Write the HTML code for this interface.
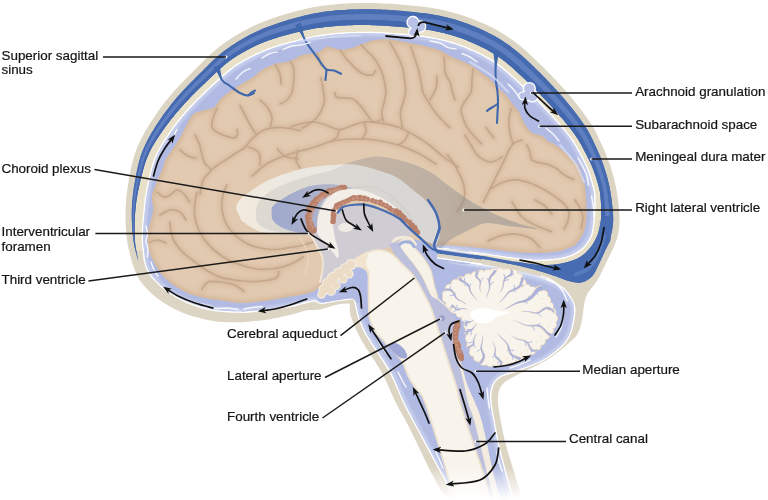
<!DOCTYPE html>
<html><head><meta charset="utf-8"><title>CSF circulation</title>
<style>
html,body{margin:0;padding:0;background:#fff;}
body{width:768px;height:500px;overflow:hidden;position:relative;}
svg{position:absolute;left:0;top:0;display:block;}
text{font-family:"Liberation Sans",Arial,Helvetica,sans-serif;font-size:13.4px;fill:#161616;stroke:#161616;stroke-width:0.22px;}
</style></head><body>
<svg width="768" height="500" viewBox="0 0 768 500">
<defs>
<marker id="ah" viewBox="0 0 10 8" refX="6" refY="4" markerUnits="userSpaceOnUse" markerWidth="8.5" markerHeight="6.8" orient="auto"><path d="M0 0.3L10 4L0 7.7L2.6 4Z" fill="#111"/></marker>
</defs>
<path d="M132.0 262.5C131.2 258.8 128.1 248.4 127.0 240.0C125.9 231.6 125.3 221.2 125.5 212.0C125.7 202.8 126.3 195.0 128.0 185.0C129.7 175.0 131.9 162.1 135.5 152.0C139.1 141.9 143.8 133.6 149.5 124.3C155.2 115.0 162.3 105.2 170.0 96.0C177.7 86.8 187.0 77.4 195.5 69.0C204.0 60.6 211.5 52.6 221.0 45.5C230.5 38.4 241.5 31.8 252.5 26.5C263.5 21.2 275.4 17.2 287.0 13.8C298.6 10.4 309.8 7.6 322.0 5.8C334.2 4.0 347.0 3.2 360.0 3.0C373.0 2.8 386.2 3.3 400.0 4.5C413.8 5.7 429.7 7.1 443.0 10.0C456.3 12.9 468.4 17.0 480.0 22.0C491.6 27.0 502.0 32.5 512.5 40.0C523.0 47.5 533.4 57.7 543.0 67.0C552.6 76.3 562.1 86.7 570.0 96.0C577.9 105.3 585.2 115.0 590.5 123.0C595.8 131.0 598.2 137.0 601.5 144.0C604.8 151.0 607.5 157.3 610.0 165.0C612.5 172.7 614.9 180.8 616.5 190.0C618.1 199.2 619.5 211.7 619.5 220.0C619.5 228.3 618.7 233.0 616.5 240.0C614.3 247.0 609.7 255.3 606.5 262.0C603.3 268.7 600.9 274.2 597.5 280.0C594.1 285.8 588.6 290.3 586.0 297.0C583.4 303.7 583.3 314.0 582.0 320.0C580.7 326.0 580.0 329.3 578.0 333.0C576.0 336.7 575.2 337.5 570.0 342.0C564.8 346.5 555.8 354.5 547.0 360.0C538.2 365.5 524.5 370.8 517.0 375.0C509.5 379.2 505.2 380.8 502.0 385.0C498.8 389.2 498.1 393.3 498.0 400.0C497.9 406.7 500.0 416.8 501.5 425.0C503.0 433.2 504.0 438.2 507.0 449.0C510.0 459.8 516.8 480.5 519.5 490.0C522.2 499.5 522.8 503.3 523.5 506.0L449 506L449.0 506.0C447.7 503.3 443.7 495.0 441.0 490.0C438.3 485.0 438.6 487.0 433.0 476.0C427.4 465.0 413.6 436.0 407.5 424.0C401.4 412.0 400.8 412.5 396.5 404.0C392.2 395.5 387.2 382.7 382.0 373.0C376.8 363.3 369.1 352.8 365.0 346.0C360.9 339.2 359.8 337.3 357.5 332.5C355.2 327.7 352.3 321.4 351.0 317.0C349.7 312.6 349.8 307.8 349.5 306.0L350.0 305.0C349.7 304.8 350.4 303.6 348.0 303.6C345.6 303.6 340.3 304.0 335.6 305.0C330.9 306.0 324.8 308.6 320.0 309.5C315.2 310.4 311.7 309.5 307.0 310.3C302.3 311.1 298.0 313.1 292.0 314.5C286.0 315.9 278.0 317.8 271.0 319.0C264.0 320.2 255.5 320.9 250.0 321.5C244.5 322.1 244.2 322.4 238.0 322.3C231.8 322.2 222.3 322.6 213.0 321.0C203.7 319.4 191.3 316.3 182.0 312.5C172.7 308.7 163.9 303.2 157.0 298.0C150.1 292.8 144.6 286.9 140.4 281.0C136.2 275.1 133.4 265.6 132.0 262.5" fill="#ddd5c3"/>
<path d="M138.1 261.1L137.9 259.9L137.5 258.6L137.1 257.0L136.7 255.3L136.2 253.5L135.7 251.5L135.2 249.5L134.7 247.4L134.3 245.3L133.9 243.2L133.5 241.1L133.2 239.2L133.0 237.1L132.8 235.0L132.6 232.8L132.4 230.6L132.2 228.3L132.1 225.9L132.0 223.6L131.9 221.3L131.8 218.9L131.8 216.6L131.8 214.3L131.8 212.1L131.8 209.9L131.9 207.8L132.0 205.6L132.1 203.6L132.3 201.5L132.5 199.4L132.7 197.3L132.9 195.1L133.2 193.0L133.5 190.7L133.8 188.4L134.2 186.0L134.6 183.5L135.1 180.9L135.6 178.2L136.1 175.4L136.6 172.6L137.2 169.9L137.8 167.1L138.5 164.3L139.1 161.6L139.9 159.0L140.6 156.5L141.4 154.1L142.3 151.8L143.2 149.5L144.2 147.3L145.2 145.1L146.2 142.9L147.3 140.8L148.4 138.6L149.6 136.5L150.8 134.3L152.1 132.1L153.5 129.9L154.9 127.6L156.3 125.3L157.8 123.0L159.3 120.7L160.9 118.4L162.5 116.1L164.1 113.8L165.8 111.5L167.6 109.2L169.3 106.9L171.1 104.6L173.0 102.3L174.8 100.0L176.7 97.8L178.7 95.6L180.7 93.3L182.8 91.0L184.9 88.8L187.0 86.6L189.1 84.3L191.3 82.1L193.5 79.9L195.6 77.7L197.8 75.6L199.9 73.5L202.1 71.4L204.1 69.3L206.2 67.2L208.2 65.2L210.2 63.2L212.2 61.3L214.2 59.4L216.3 57.6L218.3 55.7L220.4 54.0L222.6 52.2L224.8 50.5L227.1 48.9L229.5 47.2L231.9 45.5L234.4 43.9L236.9 42.3L239.4 40.7L242.0 39.2L244.6 37.7L247.3 36.2L249.9 34.8L252.6 33.5L255.2 32.2L257.9 30.9L260.6 29.7L263.3 28.6L266.1 27.5L268.8 26.4L271.7 25.4L274.5 24.4L277.3 23.4L280.2 22.5L283.1 21.6L285.9 20.7L288.8 19.8L291.6 19.0L294.5 18.2L297.3 17.4L300.1 16.7L302.9 16.0L305.7 15.3L308.5 14.7L311.4 14.1L314.2 13.5L317.1 13.0L320.0 12.5L322.9 12.0L325.9 11.6L328.9 11.2L331.9 10.9L335.0 10.6L338.0 10.3L341.1 10.1L344.3 9.9L347.4 9.7L350.5 9.6L353.7 9.5L356.9 9.4L360.1 9.3L363.3 9.3L366.5 9.3L369.7 9.3L372.9 9.3L376.2 9.4L379.4 9.5L382.7 9.7L386.0 9.8L389.3 10.0L392.7 10.3L396.1 10.5L399.5 10.8L403.0 11.1L406.5 11.4L410.1 11.7L413.7 12.1L417.3 12.4L421.0 12.9L424.6 13.3L428.1 13.8L431.6 14.3L435.1 14.9L438.4 15.5L441.7 16.2L444.9 16.9L448.0 17.7L451.1 18.5L454.2 19.3L457.2 20.3L460.2 21.2L463.1 22.2L466.1 23.2L469.0 24.3L471.8 25.4L474.7 26.6L477.5 27.8L480.3 29.0L483.0 30.3L485.8 31.5L488.4 32.9L491.0 34.2L493.6 35.6L496.2 37.0L498.7 38.5L501.3 40.1L503.8 41.7L506.3 43.4L508.8 45.1L511.3 47.0L513.8 48.9L516.3 50.9L518.8 53.0L521.4 55.2L523.9 57.5L526.4 59.8L528.8 62.1L531.3 64.5L533.8 66.8L536.2 69.2L538.6 71.5L541.0 73.8L543.3 76.2L545.6 78.6L547.9 80.9L550.2 83.4L552.5 85.8L554.7 88.2L556.9 90.6L559.1 93.0L561.2 95.4L563.2 97.8L565.2 100.1L567.1 102.4L569.0 104.7L570.9 107.0L572.7 109.3L574.5 111.6L576.2 113.8L577.9 116.0L579.5 118.2L581.1 120.4L582.5 122.5L583.9 124.5L585.2 126.4L586.4 128.3L587.5 130.1L588.5 131.8L589.4 133.5L590.3 135.1L591.1 136.7L591.9 138.3L592.7 139.9L593.4 141.5L594.2 143.2L595.0 144.9L595.8 146.6L596.6 148.4L597.3 150.0L598.1 151.7L598.8 153.4L599.5 155.0L600.2 156.6L600.9 158.3L601.5 160.0L602.2 161.7L602.8 163.4L603.4 165.1L604.0 167.0L604.6 168.8L605.2 170.8L605.8 172.7L606.4 174.6L607.0 176.6L607.5 178.6L608.0 180.6L608.5 182.6L609.0 184.7L609.5 186.8L609.9 188.9L610.3 191.1L610.7 193.4L611.0 195.8L611.4 198.2L611.7 200.8L612.0 203.4L612.3 206.0L612.6 208.5L612.8 211.0L613.0 213.5L613.1 215.8L613.2 218.0L613.2 220.0L613.2 221.8L613.0 223.6L612.8 225.4L612.6 227.2L612.3 229.0L612.0 230.7L611.7 232.3L611.3 233.8L611.0 235.3L610.7 236.6L610.5 237.9L610.3 238.9L610.5 240.0C609.5 242.0 606.5 247.8 604.5 252.0C602.5 256.2 600.6 260.9 598.5 265.0C596.4 269.1 594.9 273.6 592.0 276.5C589.1 279.4 585.2 281.8 581.0 282.5C576.8 283.2 571.3 281.6 567.0 280.5C562.7 279.4 561.2 278.0 555.0 276.0C548.8 274.0 538.3 270.7 530.0 268.5C521.7 266.3 513.3 264.7 505.0 263.0C496.7 261.3 488.3 259.8 480.0 258.5C471.7 257.2 462.2 256.1 455.0 255.2C447.8 254.2 440.0 253.2 437.0 252.8L437.0 250.5C440.0 250.8 447.8 251.7 455.0 252.5C462.2 253.3 472.5 254.4 480.0 255.5C487.5 256.6 493.8 257.9 500.0 259.0C506.2 260.1 510.3 260.8 517.0 261.8C523.7 262.8 533.0 264.4 540.0 264.8C547.0 265.2 552.5 265.1 558.8 264.0C565.0 262.9 572.3 261.2 577.5 258.5C582.7 255.8 586.7 251.9 590.0 248.0C593.3 244.1 595.8 239.0 597.5 235.0C599.2 231.0 599.8 225.8 600.3 224.0L600.9 219.9L601.0 218.3L601.1 216.4L601.2 214.2L601.2 212.0L601.2 209.6L601.1 207.1L601.0 204.6L600.9 202.2L600.7 199.7L600.5 197.3L600.3 195.0L600.1 192.8L599.7 190.8L599.3 188.9L598.8 187.0L598.3 185.1L597.8 183.2L597.2 181.3L596.7 179.5L596.1 177.6L595.5 175.8L594.8 174.0L594.2 172.2L593.6 170.4L592.9 168.7L592.3 167.1L591.6 165.6L591.0 164.0L590.3 162.5L589.6 161.0L588.9 159.5L588.1 158.0L587.3 156.5L586.6 154.9L585.7 153.3L584.9 151.7L584.0 150.0L583.1 148.3L582.3 146.7L581.5 145.2L580.7 143.7L579.8 142.3L579.0 141.0L578.2 139.6L577.3 138.2L576.3 136.8L575.3 135.3L574.2 133.7L572.9 131.9L571.5 130.1L570.0 128.2L568.5 126.3L566.9 124.2L565.2 122.2L563.5 120.1L561.7 118.0L559.8 115.9L558.0 113.7L556.1 111.6L554.1 109.4L552.2 107.3L550.2 105.0L548.1 102.8L546.0 100.5L543.8 98.2L541.6 95.9L539.4 93.6L537.1 91.3L534.9 89.0L532.6 86.8L530.3 84.6L528.0 82.4L525.6 80.1L523.2 77.8L520.8 75.5L518.3 73.2L515.9 71.0L513.5 68.8L511.2 66.7L508.8 64.7L506.5 62.8L504.2 61.0L502.0 59.3L499.8 57.7L497.6 56.2L495.3 54.7L493.0 53.3L490.7 51.9L488.4 50.6L486.1 49.3L483.8 48.1L481.4 46.9L478.9 45.7L476.4 44.6L473.9 43.4L471.2 42.3L468.6 41.2L466.0 40.1L463.3 39.1L460.7 38.1L458.0 37.2L455.2 36.3L452.5 35.5L449.7 34.6L446.9 33.9L444.1 33.1L441.2 32.4L438.3 31.8L435.3 31.2L432.3 30.6L429.1 30.1L425.9 29.6L422.5 29.2L419.1 28.7L415.6 28.3L412.1 28.0L408.6 27.6L405.1 27.3L401.6 27.0L398.2 26.7L394.8 26.4L391.6 26.2L388.3 25.9L385.2 25.7L382.0 25.6L378.8 25.4L375.7 25.3L372.6 25.2L369.5 25.1L366.5 25.1L363.4 25.1L360.4 25.1L357.3 25.1L354.2 25.1L351.2 25.2L348.2 25.3L345.2 25.4L342.2 25.6L339.3 25.7L336.4 25.9L333.5 26.2L330.7 26.4L327.9 26.7L325.1 27.1L322.4 27.4L319.7 27.8L317.0 28.1L314.3 28.6L311.7 29.0L309.0 29.5L306.3 30.1L303.7 30.6L301.0 31.2L298.3 31.9L295.5 32.6L292.8 33.3L290.0 34.0L287.2 34.7L284.4 35.5L281.6 36.3L278.9 37.1L276.2 37.9L273.5 38.8L270.8 39.7L268.2 40.6L265.7 41.5L263.1 42.5L260.7 43.5L258.2 44.6L255.6 45.8L253.1 47.0L250.6 48.3L248.1 49.6L245.6 50.9L243.1 52.3L240.7 53.7L238.3 55.1L236.0 56.6L233.7 58.0L231.5 59.5L229.4 61.0L227.5 62.5L225.5 64.1L223.6 65.7L221.6 67.4L219.7 69.1L217.7 70.9L215.7 72.8L213.7 74.7L211.6 76.7L209.4 78.8L207.3 80.8L205.1 82.9L202.9 85.0L200.7 87.1L198.5 89.2L196.4 91.3L194.2 93.5L192.1 95.6L190.0 97.7L188.0 99.9L186.0 102.0L184.1 104.1L182.2 106.2L180.3 108.3L178.5 110.4L176.6 112.5L174.8 114.7L173.1 116.9L171.3 119.0L169.6 121.2L168.0 123.4L166.4 125.5L164.8 127.7L163.3 129.8L161.8 131.9L160.4 134.1L158.9 136.2L157.6 138.2L156.3 140.2L155.0 142.2L153.8 144.2L152.7 146.1L151.6 148.1L150.6 150.1L149.6 152.1L148.6 154.2L147.7 156.3L146.8 158.5L145.9 160.8L145.1 163.2L144.3 165.8L143.5 168.4L142.8 171.0L142.1 173.7L141.4 176.4L140.7 179.1L140.1 181.7L139.5 184.3L139.0 186.8L138.5 189.1L138.0 191.4L137.6 193.5L137.2 195.7L136.9 197.7L136.5 199.8L136.3 201.8L136.0 203.8L135.8 205.8L135.6 207.9L135.4 210.0L135.2 212.2L135.0 214.4L134.9 216.6L134.8 218.9L134.7 221.2L134.6 223.5L134.6 225.8L134.6 228.1L134.6 230.4L134.6 232.6L134.7 234.8L134.7 236.9L134.8 239.0L135.0 240.9L135.2 242.9L135.5 245.0L135.8 247.1L136.1 249.2L136.5 251.3L136.8 253.3L137.2 255.2L137.5 256.9L137.8 258.5L138.0 259.9L138.1 261.1Z" fill="#466bb0"/>
<path d="M136.5 251.3L136.1 249.2L135.8 247.1L135.5 245.0L135.2 242.9L135.0 240.9L134.8 239.0L134.7 236.9L134.7 234.8L134.6 232.6L134.6 230.4L134.6 228.1L134.6 225.8L134.6 223.5L134.7 221.2L134.8 218.9L134.9 216.6L135.0 214.4L135.2 212.2L135.4 210.0L135.6 207.9L135.8 205.8L136.0 203.8L136.3 201.8L136.5 199.8L136.9 197.7L137.2 195.7L137.6 193.5L138.0 191.4L138.5 189.1L139.0 186.8L139.5 184.3L140.1 181.7L140.7 179.1L141.4 176.4L142.1 173.7L142.8 171.0L143.5 168.4L144.3 165.8L145.1 163.2L145.9 160.8L146.8 158.5L147.7 156.3L148.6 154.2L149.6 152.1L150.6 150.1L151.6 148.1L152.7 146.1L153.8 144.2L155.0 142.2L156.3 140.2L157.6 138.2L158.9 136.2L160.4 134.1L161.8 131.9L163.3 129.8L164.8 127.7L166.4 125.5L168.0 123.4L169.6 121.2L171.3 119.0L173.1 116.9L174.8 114.7L176.6 112.5L178.5 110.4L180.3 108.3L182.2 106.2L184.1 104.1L186.0 102.0L188.0 99.9L190.0 97.7L192.1 95.6L194.2 93.5L196.4 91.3L198.5 89.2L200.7 87.1L202.9 85.0L205.1 82.9L207.3 80.8L209.4 78.8L211.6 76.7L213.7 74.7L215.7 72.8L217.7 70.9L219.7 69.1L221.6 67.4L223.6 65.7L225.5 64.1L227.5 62.5L229.4 61.0L231.5 59.5L233.7 58.0L236.0 56.6L238.3 55.1L240.7 53.7L243.1 52.3L245.6 50.9L248.1 49.6L250.6 48.3L253.1 47.0L255.6 45.8L258.2 44.6L260.7 43.5L263.1 42.5L265.7 41.5L268.2 40.6L270.8 39.7L273.5 38.8L276.2 37.9L278.9 37.1L281.6 36.3L284.4 35.5L287.2 34.7L290.0 34.0L292.8 33.3L295.5 32.6L298.3 31.9L301.0 31.2L303.7 30.6L306.3 30.1L309.0 29.5L311.7 29.0L314.3 28.6L317.0 28.1L319.7 27.8L322.4 27.4L325.1 27.1L327.9 26.7L330.7 26.4L333.5 26.2L336.4 25.9L339.3 25.7L342.2 25.6L345.2 25.4L348.2 25.3L351.2 25.2L354.2 25.1L357.3 25.1L360.4 25.1L363.4 25.1L366.5 25.1L369.5 25.1L372.6 25.2L375.7 25.3L378.8 25.4L382.0 25.6L385.2 25.7L388.3 25.9L391.6 26.2L394.8 26.4L398.2 26.7L401.6 27.0L405.1 27.3L408.6 27.6L412.1 28.0L415.6 28.3L419.1 28.7L422.5 29.2L425.9 29.6L429.1 30.1L432.3 30.6L435.3 31.2L438.3 31.8L441.2 32.4L444.1 33.1L446.9 33.9L449.7 34.6L452.5 35.5L455.2 36.3L458.0 37.2L460.7 38.1L463.3 39.1L466.0 40.1L468.6 41.2L471.2 42.3L473.9 43.4L476.4 44.6L478.9 45.7L481.4 46.9L483.8 48.1L486.1 49.3L488.4 50.6L490.7 51.9L493.0 53.3L495.3 54.7L497.6 56.2L499.8 57.7L502.0 59.3L504.2 61.0L506.5 62.8L508.8 64.7L511.2 66.7L513.5 68.8L515.9 71.0L518.3 73.2L520.8 75.5L523.2 77.8L525.6 80.1L528.0 82.4L530.3 84.6L532.6 86.8L534.9 89.0L537.1 91.3L539.4 93.6L541.6 95.9L543.8 98.2L546.0 100.5L548.1 102.8L550.2 105.0L552.2 107.3L554.1 109.4L556.1 111.6L558.0 113.7L559.8 115.9L561.7 118.0L563.5 120.1L565.2 122.2L566.9 124.2L568.5 126.3L570.0 128.2L571.5 130.1L572.9 131.9L574.2 133.7L575.3 135.3L576.3 136.8L577.3 138.2L578.2 139.6L579.0 141.0L579.8 142.3L580.7 143.7L581.5 145.2L582.3 146.7L583.1 148.3L584.0 150.0L584.9 151.7L585.7 153.3L586.6 154.9L587.3 156.5L588.1 158.0L588.9 159.5L589.6 161.0L590.3 162.5L591.0 164.0L591.6 165.6L592.3 167.1L592.9 168.7L593.6 170.4L594.2 172.2L594.8 174.0L595.5 175.8L596.1 177.6L596.7 179.5L597.2 181.3L597.8 183.2L598.3 185.1L598.8 187.0L599.3 188.9L599.7 190.8L600.1 192.8L600.3 195.0L600.5 197.3L600.7 199.7L600.9 202.2L601.0 204.6L601.1 207.1L601.2 209.6L601.2 212.0L601.2 214.2L601.1 216.4L601.0 218.3L600.9 219.9L593.2 219.9L593.5 218.5L593.7 216.7L593.9 214.7L594.0 212.5L594.1 210.2L594.1 207.9L594.1 205.4L594.1 203.0L594.1 200.6L594.1 198.3L594.0 196.0L593.9 193.9L593.6 192.0L593.2 190.2L592.8 188.3L592.3 186.5L591.9 184.7L591.4 182.9L590.9 181.1L590.3 179.3L589.8 177.5L589.2 175.7L588.6 174.0L588.1 172.2L587.4 170.6L586.8 169.1L586.2 167.6L585.5 166.1L584.9 164.7L584.2 163.2L583.5 161.8L582.8 160.3L582.0 158.8L581.3 157.3L580.5 155.8L579.6 154.1L578.7 152.4L577.8 150.7L576.9 149.2L576.1 147.7L575.3 146.3L574.5 145.0L573.7 143.7L572.9 142.4L572.1 141.2L571.2 139.9L570.2 138.5L569.1 137.0L567.8 135.4L566.4 133.7L565.0 131.8L563.4 130.0L561.8 128.0L560.1 126.1L558.4 124.0L556.6 122.0L554.7 120.0L552.9 117.9L551.0 115.8L549.0 113.8L547.1 111.7L545.1 109.5L543.0 107.3L540.9 105.1L538.7 102.9L536.5 100.6L534.3 98.4L532.0 96.2L529.7 94.0L527.5 91.9L525.2 89.7L522.9 87.6L520.5 85.3L518.1 83.1L515.7 80.8L513.3 78.6L510.9 76.4L508.6 74.3L506.3 72.3L504.0 70.4L501.8 68.6L499.6 66.9L497.5 65.3L495.4 63.8L493.3 62.4L491.2 61.0L489.0 59.7L486.8 58.4L484.7 57.2L482.5 56.0L480.2 54.8L477.9 53.7L475.6 52.6L473.2 51.5L470.7 50.4L468.2 49.4L465.7 48.3L463.1 47.3L460.6 46.4L458.0 45.5L455.4 44.6L452.8 43.8L450.2 43.0L447.5 42.2L444.8 41.5L442.1 40.8L439.3 40.2L436.6 39.6L433.8 39.0L430.9 38.5L427.9 38.0L424.7 37.5L421.5 37.1L418.1 36.7L414.7 36.3L411.3 35.9L407.8 35.6L404.4 35.3L400.9 35.0L397.5 34.7L394.2 34.4L391.0 34.2L387.8 34.0L384.7 33.8L381.6 33.6L378.5 33.5L375.5 33.4L372.4 33.3L369.4 33.3L366.4 33.3L363.5 33.3L360.5 33.3L357.5 33.3L354.5 33.4L351.5 33.5L348.6 33.6L345.7 33.8L342.8 33.9L340.0 34.1L337.2 34.4L334.4 34.6L331.7 34.9L329.0 35.2L326.4 35.6L323.8 35.9L321.2 36.3L318.7 36.7L316.1 37.1L313.6 37.6L311.0 38.1L308.4 38.7L305.9 39.2L303.3 39.8L300.7 40.5L298.0 41.2L295.3 41.9L292.6 42.6L289.9 43.3L287.1 44.0L284.5 44.8L281.8 45.5L279.2 46.3L276.6 47.1L274.1 48.0L271.6 48.8L269.2 49.7L266.8 50.6L264.5 51.6L262.1 52.6L259.7 53.6L257.3 54.7L254.8 55.9L252.4 57.0L250.0 58.3L247.7 59.5L245.3 60.8L243.0 62.1L240.8 63.5L238.6 64.8L236.5 66.1L234.5 67.5L232.7 68.8L230.8 70.2L229.0 71.7L227.1 73.2L225.2 74.9L223.2 76.6L221.2 78.4L219.2 80.2L217.0 82.2L214.9 84.2L212.6 86.2L210.4 88.3L208.3 90.3L206.1 92.4L203.9 94.5L201.8 96.6L199.6 98.7L197.5 100.7L195.5 102.8L193.5 104.9L191.6 106.9L189.7 108.9L187.9 110.9L186.1 113.0L184.3 115.0L182.6 117.1L180.8 119.3L179.1 121.4L177.5 123.5L175.9 125.6L174.3 127.7L172.8 129.8L171.3 131.9L169.9 134.0L168.5 136.0L167.1 138.1L165.7 140.2L164.5 142.2L163.3 144.1L162.1 146.0L161.0 147.9L160.0 149.7L159.0 151.6L158.1 153.4L157.2 155.3L156.4 157.2L155.6 159.1L154.8 161.0L154.1 163.2L153.4 165.4L152.7 167.8L152.0 170.3L151.4 172.9L150.8 175.5L150.2 178.1L149.6 180.7L149.0 183.3L148.5 185.9L148.0 188.3L147.6 190.6L147.2 192.7L146.8 194.8L146.5 196.7L146.2 198.7L145.9 200.6L145.7 202.5L145.4 204.4L145.3 206.3L145.1 208.3L144.9 210.3L144.8 212.3L144.5 214.4L144.3 216.5L144.1 218.7L143.9 220.9L143.7 223.1L143.6 225.3L143.4 227.5L143.3 229.7L143.3 231.9L143.2 233.9L143.2 236.0L143.2 237.8L143.2 239.6L143.2 241.5L143.4 243.4L143.5 245.4L143.7 247.5L144.0 249.5Z" fill="#e9e0ca"/>
<path d="M593.5 218.5C593.4 218.9 593.3 219.3 593.1 220.9C592.9 222.5 592.8 225.3 592.3 228.0C591.8 230.7 591.8 233.6 590.0 237.0C588.2 240.4 585.7 245.2 581.5 248.5C577.3 251.8 571.9 255.0 565.0 256.8C558.1 258.6 548.0 259.3 540.0 259.5C532.0 259.7 527.0 259.0 517.0 257.8C507.0 256.6 492.0 254.1 480.0 252.5C468.0 250.9 450.8 248.8 445.0 248.0" fill="none" stroke="#e9e0ca" stroke-width="11" stroke-linecap="butt"/>
<path d="M138.1 261.1L137.9 259.9L137.5 258.6L137.1 257.0L136.7 255.3L136.2 253.5L135.7 251.5L135.2 249.5L134.7 247.4L134.3 245.3L133.9 243.2L133.5 241.1L133.2 239.2L133.0 237.1L132.8 235.0L132.6 232.8L132.4 230.6L132.2 228.3L132.1 225.9L132.0 223.6L131.9 221.3L131.8 218.9L131.8 216.6L131.8 214.3L131.8 212.1L131.8 209.9L131.9 207.8L132.0 205.6L132.1 203.6L132.3 201.5L132.5 199.4L132.7 197.3L132.9 195.1L133.2 193.0L133.5 190.7L133.8 188.4L134.2 186.0L134.6 183.5L135.1 180.9L135.6 178.2L136.1 175.4L136.6 172.6L137.2 169.9L137.8 167.1L138.5 164.3L139.1 161.6L139.9 159.0L140.6 156.5L141.4 154.1L142.3 151.8L143.2 149.5L144.2 147.3L145.2 145.1L146.2 142.9L147.3 140.8L148.4 138.6L149.6 136.5L150.8 134.3L152.1 132.1L153.5 129.9L154.9 127.6L156.3 125.3L157.8 123.0L159.3 120.7L160.9 118.4L162.5 116.1L164.1 113.8L165.8 111.5L167.6 109.2L169.3 106.9L171.1 104.6L173.0 102.3L174.8 100.0L176.7 97.8L178.7 95.6L180.7 93.3L182.8 91.0L184.9 88.8L187.0 86.6L189.1 84.3L191.3 82.1L193.5 79.9L195.6 77.7L197.8 75.6L199.9 73.5L202.1 71.4L204.1 69.3L206.2 67.2L208.2 65.2L210.2 63.2L212.2 61.3L214.2 59.4L216.3 57.6L218.3 55.7L220.4 54.0L222.6 52.2L224.8 50.5L227.1 48.9L229.5 47.2L231.9 45.5L234.4 43.9L236.9 42.3L239.4 40.7L242.0 39.2L244.6 37.7L247.3 36.2L249.9 34.8L252.6 33.5L255.2 32.2L257.9 30.9L260.6 29.7L263.3 28.6L266.1 27.5L268.8 26.4L271.7 25.4L274.5 24.4L277.3 23.4L280.2 22.5L283.1 21.6L285.9 20.7L288.8 19.8L291.6 19.0L294.5 18.2L297.3 17.4L300.1 16.7L302.9 16.0L305.7 15.3L308.5 14.7L311.4 14.1L314.2 13.5L317.1 13.0L320.0 12.5L322.9 12.0L325.9 11.6L328.9 11.2L331.9 10.9L335.0 10.6L338.0 10.3L341.1 10.1L344.3 9.9L347.4 9.7L350.5 9.6L353.7 9.5L356.9 9.4L360.1 9.3L363.3 9.3L366.5 9.3L369.7 9.3L372.9 9.3L376.2 9.4L379.4 9.5L382.7 9.7L386.0 9.8L389.3 10.0L392.7 10.3L396.1 10.5L399.5 10.8L403.0 11.1L406.5 11.4L410.1 11.7L413.7 12.1L417.3 12.4L421.0 12.9L424.6 13.3L428.1 13.8L431.6 14.3L435.1 14.9L438.4 15.5L441.7 16.2L444.9 16.9L448.0 17.7L451.1 18.5L454.2 19.3L457.2 20.3L460.2 21.2L463.1 22.2L466.1 23.2L469.0 24.3L471.8 25.4L474.7 26.6L477.5 27.8L480.3 29.0L483.0 30.3L485.8 31.5L488.4 32.9L491.0 34.2L493.6 35.6L496.2 37.0L498.7 38.5L501.3 40.1L503.8 41.7L506.3 43.4L508.8 45.1L511.3 47.0L513.8 48.9L516.3 50.9L518.8 53.0L521.4 55.2L523.9 57.5L526.4 59.8L528.8 62.1L531.3 64.5L533.8 66.8L536.2 69.2L538.6 71.5L541.0 73.8L543.3 76.2L545.6 78.6L547.9 80.9L550.2 83.4L552.5 85.8L554.7 88.2L556.9 90.6L559.1 93.0L561.2 95.4L563.2 97.8L565.2 100.1L567.1 102.4L569.0 104.7L570.9 107.0L572.7 109.3L574.5 111.6L576.2 113.8L577.9 116.0L579.5 118.2L581.1 120.4L582.5 122.5L583.9 124.5L585.2 126.4L586.4 128.3L587.5 130.1L588.5 131.8L589.4 133.5L590.3 135.1L591.1 136.7L591.9 138.3L592.7 139.9L593.4 141.5L594.2 143.2L595.0 144.9L595.8 146.6L596.6 148.4L597.3 150.0L598.1 151.7L598.8 153.4L599.5 155.0L600.2 156.6L600.9 158.3L601.5 160.0L602.2 161.7L602.8 163.4L603.4 165.1L604.0 167.0L604.6 168.8L605.2 170.8L605.8 172.7L606.4 174.6L607.0 176.6L607.5 178.6L608.0 180.6L608.5 182.6L609.0 184.7L609.5 186.8L609.9 188.9L610.3 191.1L610.7 193.4L611.0 195.8L611.4 198.2L611.7 200.8L612.0 203.4L612.3 206.0L612.6 208.5L612.8 211.0L613.0 213.5L613.1 215.8L613.2 218.0L613.2 220.0L613.2 221.8L613.0 223.6L612.8 225.4L612.6 227.2L612.3 229.0L612.0 230.7L611.7 232.3L611.3 233.8L611.0 235.3L610.7 236.6L610.5 237.9L610.3 238.9L610.5 240.0C609.5 242.0 606.5 247.8 604.5 252.0C602.5 256.2 600.6 260.9 598.5 265.0C596.4 269.1 594.9 273.6 592.0 276.5C589.1 279.4 585.2 281.8 581.0 282.5C576.8 283.2 571.3 281.6 567.0 280.5C562.7 279.4 561.2 278.0 555.0 276.0C548.8 274.0 538.3 270.7 530.0 268.5C521.7 266.3 513.3 264.7 505.0 263.0C496.7 261.3 488.3 259.8 480.0 258.5C471.7 257.2 462.2 256.1 455.0 255.2C447.8 254.2 440.0 253.2 437.0 252.8L437.0 250.5C440.0 250.8 447.8 251.7 455.0 252.5C462.2 253.3 472.5 254.4 480.0 255.5C487.5 256.6 493.8 257.9 500.0 259.0C506.2 260.1 510.3 260.8 517.0 261.8C523.7 262.8 533.0 264.4 540.0 264.8C547.0 265.2 552.5 265.1 558.8 264.0C565.0 262.9 572.3 261.2 577.5 258.5C582.7 255.8 586.7 251.9 590.0 248.0C593.3 244.1 595.8 239.0 597.5 235.0C599.2 231.0 599.8 225.8 600.3 224.0L600.9 219.9L601.0 218.3L601.1 216.4L601.2 214.2L601.2 212.0L601.2 209.6L601.1 207.1L601.0 204.6L600.9 202.2L600.7 199.7L600.5 197.3L600.3 195.0L600.1 192.8L599.7 190.8L599.3 188.9L598.8 187.0L598.3 185.1L597.8 183.2L597.2 181.3L596.7 179.5L596.1 177.6L595.5 175.8L594.8 174.0L594.2 172.2L593.6 170.4L592.9 168.7L592.3 167.1L591.6 165.6L591.0 164.0L590.3 162.5L589.6 161.0L588.9 159.5L588.1 158.0L587.3 156.5L586.6 154.9L585.7 153.3L584.9 151.7L584.0 150.0L583.1 148.3L582.3 146.7L581.5 145.2L580.7 143.7L579.8 142.3L579.0 141.0L578.2 139.6L577.3 138.2L576.3 136.8L575.3 135.3L574.2 133.7L572.9 131.9L571.5 130.1L570.0 128.2L568.5 126.3L566.9 124.2L565.2 122.2L563.5 120.1L561.7 118.0L559.8 115.9L558.0 113.7L556.1 111.6L554.1 109.4L552.2 107.3L550.2 105.0L548.1 102.8L546.0 100.5L543.8 98.2L541.6 95.9L539.4 93.6L537.1 91.3L534.9 89.0L532.6 86.8L530.3 84.6L528.0 82.4L525.6 80.1L523.2 77.8L520.8 75.5L518.3 73.2L515.9 71.0L513.5 68.8L511.2 66.7L508.8 64.7L506.5 62.8L504.2 61.0L502.0 59.3L499.8 57.7L497.6 56.2L495.3 54.7L493.0 53.3L490.7 51.9L488.4 50.6L486.1 49.3L483.8 48.1L481.4 46.9L478.9 45.7L476.4 44.6L473.9 43.4L471.2 42.3L468.6 41.2L466.0 40.1L463.3 39.1L460.7 38.1L458.0 37.2L455.2 36.3L452.5 35.5L449.7 34.6L446.9 33.9L444.1 33.1L441.2 32.4L438.3 31.8L435.3 31.2L432.3 30.6L429.1 30.1L425.9 29.6L422.5 29.2L419.1 28.7L415.6 28.3L412.1 28.0L408.6 27.6L405.1 27.3L401.6 27.0L398.2 26.7L394.8 26.4L391.6 26.2L388.3 25.9L385.2 25.7L382.0 25.6L378.8 25.4L375.7 25.3L372.6 25.2L369.5 25.1L366.5 25.1L363.4 25.1L360.4 25.1L357.3 25.1L354.2 25.1L351.2 25.2L348.2 25.3L345.2 25.4L342.2 25.6L339.3 25.7L336.4 25.9L333.5 26.2L330.7 26.4L327.9 26.7L325.1 27.1L322.4 27.4L319.7 27.8L317.0 28.1L314.3 28.6L311.7 29.0L309.0 29.5L306.3 30.1L303.7 30.6L301.0 31.2L298.3 31.9L295.5 32.6L292.8 33.3L290.0 34.0L287.2 34.7L284.4 35.5L281.6 36.3L278.9 37.1L276.2 37.9L273.5 38.8L270.8 39.7L268.2 40.6L265.7 41.5L263.1 42.5L260.7 43.5L258.2 44.6L255.6 45.8L253.1 47.0L250.6 48.3L248.1 49.6L245.6 50.9L243.1 52.3L240.7 53.7L238.3 55.1L236.0 56.6L233.7 58.0L231.5 59.5L229.4 61.0L227.5 62.5L225.5 64.1L223.6 65.7L221.6 67.4L219.7 69.1L217.7 70.9L215.7 72.8L213.7 74.7L211.6 76.7L209.4 78.8L207.3 80.8L205.1 82.9L202.9 85.0L200.7 87.1L198.5 89.2L196.4 91.3L194.2 93.5L192.1 95.6L190.0 97.7L188.0 99.9L186.0 102.0L184.1 104.1L182.2 106.2L180.3 108.3L178.5 110.4L176.6 112.5L174.8 114.7L173.1 116.9L171.3 119.0L169.6 121.2L168.0 123.4L166.4 125.5L164.8 127.7L163.3 129.8L161.8 131.9L160.4 134.1L158.9 136.2L157.6 138.2L156.3 140.2L155.0 142.2L153.8 144.2L152.7 146.1L151.6 148.1L150.6 150.1L149.6 152.1L148.6 154.2L147.7 156.3L146.8 158.5L145.9 160.8L145.1 163.2L144.3 165.8L143.5 168.4L142.8 171.0L142.1 173.7L141.4 176.4L140.7 179.1L140.1 181.7L139.5 184.3L139.0 186.8L138.5 189.1L138.0 191.4L137.6 193.5L137.2 195.7L136.9 197.7L136.5 199.8L136.3 201.8L136.0 203.8L135.8 205.8L135.6 207.9L135.4 210.0L135.2 212.2L135.0 214.4L134.9 216.6L134.8 218.9L134.7 221.2L134.6 223.5L134.6 225.8L134.6 228.1L134.6 230.4L134.6 232.6L134.7 234.8L134.7 236.9L134.8 239.0L135.0 240.9L135.2 242.9L135.5 245.0L135.8 247.1L136.1 249.2L136.5 251.3L136.8 253.3L137.2 255.2L137.5 256.9L137.8 258.5L138.0 259.9L138.1 261.1Z" fill="#466bb0"/>
<path d="M134.7 243.0L134.4 241.0L134.2 239.0L134.0 237.0L133.9 234.9L133.8 232.7L133.7 230.5L133.6 228.2L133.6 225.9L133.5 223.5L133.6 221.2L133.6 218.9L133.6 216.6L133.7 214.4L133.8 212.1L134.0 210.0L134.1 207.8L134.3 205.8L134.5 203.7L134.7 201.7L134.9 199.6L135.2 197.5L135.5 195.5L135.8 193.3L136.2 191.1L136.6 188.9L137.1 186.5L137.6 184.0L138.1 181.4L138.7 178.7L139.3 176.0L139.9 173.3L140.5 170.6L141.2 167.9L141.9 165.2L142.7 162.6L143.5 160.1L144.3 157.7L145.2 155.4L146.1 153.2L147.0 151.0L148.0 148.9L149.0 146.9L150.1 144.8L151.2 142.8L152.4 140.8L153.6 138.7L154.9 136.7L156.2 134.5L157.6 132.4L159.0 130.2L160.5 128.0L162.0 125.8L163.5 123.6L165.1 121.4L166.8 119.2L168.5 116.9L170.2 114.7L171.9 112.5L173.7 110.3L175.5 108.1L177.4 105.9L179.3 103.7L181.1 101.6L183.1 99.4L185.1 97.2L187.1 95.1L189.2 92.9L191.3 90.7L193.5 88.5L195.6 86.4L197.8 84.2L200.0 82.1L202.2 80.0L204.3 77.9L206.5 75.8L208.6 73.7L210.7 71.7L212.7 69.8L214.7 67.9L216.7 66.0L218.7 64.2L220.6 62.4L222.6 60.7L224.6 59.1L226.7 57.5L228.8 55.9L231.0 54.4L233.4 52.8L235.7 51.3L238.2 49.8L240.6 48.3L243.1 46.8L245.7 45.4L248.2 44.0L250.8 42.7L253.3 41.4L255.9 40.2L258.5 39.0L261.0 37.9L263.6 36.8L266.3 35.8L268.9 34.8L271.6 33.8L274.4 32.9L277.1 32.0L279.9 31.1L282.7 30.3L285.5 29.5L288.4 28.7L291.2 27.9L294.0 27.1L296.7 26.4L299.5 25.7L302.2 25.1L305.0 24.4L307.7 23.9L310.4 23.3L313.1 22.8L315.9 22.3L318.7 21.8L321.4 21.4L324.3 21.1L327.1 20.7L330.0 20.4L332.9 20.1L335.8 19.8L338.8 19.6L341.8 19.4L344.8 19.2L347.9 19.1L350.9 19.0L354.0 18.9L357.1 18.8L360.3 18.8L363.4 18.8L366.5 18.8L369.6 18.8L372.7 18.8L375.9 18.9L379.1 19.1L382.3 19.2L385.5 19.4L388.7 19.6L392.0 19.8L395.3 20.1L398.7 20.3L402.1 20.6L405.6 20.9L409.2 21.3L412.7 21.6L416.3 22.0L419.8 22.4L423.3 22.8L426.8 23.3L430.1 23.8L433.4 24.3L436.6 24.9L439.6 25.5L442.6 26.2L445.6 26.9L448.6 27.7L451.5 28.5L454.4 29.4L457.2 30.3L460.0 31.2L462.8 32.2L465.6 33.2L468.3 34.3L471.0 35.4L473.8 36.5L476.4 37.7L479.1 38.8L481.6 40.0L484.2 41.3L486.7 42.5L489.1 43.8L491.5 45.2L493.9 46.5L496.3 48.0L498.7 49.5L501.1 51.1L503.4 52.7L505.7 54.4L508.1 56.2L510.4 58.1L512.8 60.1L515.2 62.1L517.7 64.3L520.1 66.5L522.5 68.8L525.0 71.1L527.4 73.4L529.8 75.7L532.2 78.0L534.6 80.3L536.9 82.5L539.2 84.8L541.5 87.2L543.7 89.5L546.0 91.8L548.2 94.2L550.4 96.5L552.5 98.9L554.6 101.2L556.6 103.5L558.6 105.7L560.5 107.9L562.4 110.1L564.3 112.3L566.1 114.5L567.9 116.7L569.6 118.8L571.3 121.0L572.9 123.0L574.5 125.1L575.9 127.1L577.3 129.0L578.6 130.8L579.8 132.5L580.8 134.1L581.8 135.6L582.7 137.1L583.5 138.6L584.4 140.1L585.2 141.6L585.9 143.1L586.7 144.6L587.5 146.3L588.4 147.9L589.2 149.7L590.1 151.3L590.9 153.0L591.6 154.6L592.4 156.1L593.1 157.7L593.8 159.3L594.5 160.8L595.2 162.4L595.8 164.0L596.5 165.6L597.1 167.3L597.7 169.0L598.4 170.8L599.0 172.7L599.6 174.6L600.2 176.4L600.8 178.3L601.3 180.2L601.9 182.2L602.4 184.1L602.9 186.1L603.4 188.1L603.8 190.1L604.2 192.1L604.5 194.3L604.7 196.7L605.0 199.1L605.2 201.6L605.4 204.1L605.6 206.7L605.7 209.2L605.8 211.6L605.9 213.9L605.9 216.1L605.9 218.2L605.8 219.9L600.9 219.9L601.0 218.3L601.1 216.4L601.2 214.2L601.2 212.0L601.2 209.6L601.1 207.1L601.0 204.6L600.9 202.2L600.7 199.7L600.5 197.3L600.3 195.0L600.1 192.8L599.7 190.8L599.3 188.9L598.8 187.0L598.3 185.1L597.8 183.2L597.2 181.3L596.7 179.5L596.1 177.6L595.5 175.8L594.8 174.0L594.2 172.2L593.6 170.4L592.9 168.7L592.3 167.1L591.6 165.6L591.0 164.0L590.3 162.5L589.6 161.0L588.9 159.5L588.1 158.0L587.3 156.5L586.6 154.9L585.7 153.3L584.9 151.7L584.0 150.0L583.1 148.3L582.3 146.7L581.5 145.2L580.7 143.7L579.8 142.3L579.0 141.0L578.2 139.6L577.3 138.2L576.3 136.8L575.3 135.3L574.2 133.7L572.9 131.9L571.5 130.1L570.0 128.2L568.5 126.3L566.9 124.2L565.2 122.2L563.5 120.1L561.7 118.0L559.8 115.9L558.0 113.7L556.1 111.6L554.1 109.4L552.2 107.3L550.2 105.0L548.1 102.8L546.0 100.5L543.8 98.2L541.6 95.9L539.4 93.6L537.1 91.3L534.9 89.0L532.6 86.8L530.3 84.6L528.0 82.4L525.6 80.1L523.2 77.8L520.8 75.5L518.3 73.2L515.9 71.0L513.5 68.8L511.2 66.7L508.8 64.7L506.5 62.8L504.2 61.0L502.0 59.3L499.8 57.7L497.6 56.2L495.3 54.7L493.0 53.3L490.7 51.9L488.4 50.6L486.1 49.3L483.8 48.1L481.4 46.9L478.9 45.7L476.4 44.6L473.9 43.4L471.2 42.3L468.6 41.2L466.0 40.1L463.3 39.1L460.7 38.1L458.0 37.2L455.2 36.3L452.5 35.5L449.7 34.6L446.9 33.9L444.1 33.1L441.2 32.4L438.3 31.8L435.3 31.2L432.3 30.6L429.1 30.1L425.9 29.6L422.5 29.2L419.1 28.7L415.6 28.3L412.1 28.0L408.6 27.6L405.1 27.3L401.6 27.0L398.2 26.7L394.8 26.4L391.6 26.2L388.3 25.9L385.2 25.7L382.0 25.6L378.8 25.4L375.7 25.3L372.6 25.2L369.5 25.1L366.5 25.1L363.4 25.1L360.4 25.1L357.3 25.1L354.2 25.1L351.2 25.2L348.2 25.3L345.2 25.4L342.2 25.6L339.3 25.7L336.4 25.9L333.5 26.2L330.7 26.4L327.9 26.7L325.1 27.1L322.4 27.4L319.7 27.8L317.0 28.1L314.3 28.6L311.7 29.0L309.0 29.5L306.3 30.1L303.7 30.6L301.0 31.2L298.3 31.9L295.5 32.6L292.8 33.3L290.0 34.0L287.2 34.7L284.4 35.5L281.6 36.3L278.9 37.1L276.2 37.9L273.5 38.8L270.8 39.7L268.2 40.6L265.7 41.5L263.1 42.5L260.7 43.5L258.2 44.6L255.6 45.8L253.1 47.0L250.6 48.3L248.1 49.6L245.6 50.9L243.1 52.3L240.7 53.7L238.3 55.1L236.0 56.6L233.7 58.0L231.5 59.5L229.4 61.0L227.5 62.5L225.5 64.1L223.6 65.7L221.6 67.4L219.7 69.1L217.7 70.9L215.7 72.8L213.7 74.7L211.6 76.7L209.4 78.8L207.3 80.8L205.1 82.9L202.9 85.0L200.7 87.1L198.5 89.2L196.4 91.3L194.2 93.5L192.1 95.6L190.0 97.7L188.0 99.9L186.0 102.0L184.1 104.1L182.2 106.2L180.3 108.3L178.5 110.4L176.6 112.5L174.8 114.7L173.1 116.9L171.3 119.0L169.6 121.2L168.0 123.4L166.4 125.5L164.8 127.7L163.3 129.8L161.8 131.9L160.4 134.1L158.9 136.2L157.6 138.2L156.3 140.2L155.0 142.2L153.8 144.2L152.7 146.1L151.6 148.1L150.6 150.1L149.6 152.1L148.6 154.2L147.7 156.3L146.8 158.5L145.9 160.8L145.1 163.2L144.3 165.8L143.5 168.4L142.8 171.0L142.1 173.7L141.4 176.4L140.7 179.1L140.1 181.7L139.5 184.3L139.0 186.8L138.5 189.1L138.0 191.4L137.6 193.5L137.2 195.7L136.9 197.7L136.5 199.8L136.3 201.8L136.0 203.8L135.8 205.8L135.6 207.9L135.4 210.0L135.2 212.2L135.0 214.4L134.9 216.6L134.8 218.9L134.7 221.2L134.6 223.5L134.6 225.8L134.6 228.1L134.6 230.4L134.6 232.6L134.7 234.8L134.7 236.9L134.8 239.0L135.0 240.9L135.2 242.9Z" fill="#4368ad"/>
<path d="M134.3 243.1L134.0 241.1L133.7 239.1L133.5 237.1L133.3 234.9L133.2 232.8L133.0 230.5L132.9 228.2L132.8 225.9L132.8 223.6L132.7 221.2L132.7 218.9L132.7 216.6L132.7 214.4L132.8 212.1L132.9 209.9L133.0 207.8L133.1 205.7L133.3 203.6L133.5 201.6L133.7 199.5L133.9 197.4L134.2 195.3L134.5 193.1L134.8 190.9L135.2 188.6L135.6 186.3L136.1 183.7L136.6 181.1L137.1 178.5L137.7 175.7L138.3 173.0L138.9 170.2L139.5 167.5L140.2 164.8L140.9 162.1L141.7 159.6L142.5 157.1L143.3 154.7L144.2 152.5L145.1 150.3L146.1 148.1L147.1 146.0L148.1 143.9L149.3 141.8L150.4 139.7L151.6 137.6L152.9 135.5L154.2 133.3L155.5 131.1L156.9 128.9L158.4 126.7L159.9 124.4L161.4 122.2L163.0 119.9L164.6 117.6L166.3 115.4L168.0 113.1L169.8 110.8L171.5 108.6L173.3 106.3L175.2 104.1L177.1 101.9L178.9 99.7L180.9 97.5L182.9 95.3L184.9 93.1L187.0 90.8L189.2 88.6L191.3 86.4L193.5 84.2L195.7 82.1L197.8 79.9L200.0 77.8L202.1 75.7L204.3 73.6L206.4 71.5L208.4 69.5L210.5 67.5L212.5 65.6L214.5 63.7L216.5 61.8L218.5 60.0L220.5 58.2L222.5 56.5L224.6 54.9L226.8 53.2L229.1 51.6L231.4 50.0L233.8 48.4L236.3 46.8L238.8 45.3L241.3 43.8L243.8 42.3L246.4 40.9L249.0 39.5L251.6 38.1L254.2 36.8L256.9 35.6L259.5 34.4L262.1 33.3L264.8 32.2L267.5 31.1L270.2 30.1L273.0 29.1L275.8 28.2L278.6 27.3L281.5 26.4L284.3 25.5L287.1 24.7L290.0 23.9L292.8 23.1L295.6 22.3L298.4 21.6L301.2 20.9L303.9 20.2L306.7 19.6L309.5 19.0L312.3 18.4L315.1 17.9L317.9 17.4L320.7 17.0L323.6 16.5L326.5 16.2L329.4 15.8L332.4 15.5L335.4 15.2L338.4 14.9L341.5 14.7L344.5 14.5L347.6 14.4L350.7 14.3L353.9 14.2L357.0 14.1L360.2 14.0L363.3 14.0L366.5 14.0L369.7 14.0L372.8 14.1L376.0 14.2L379.3 14.3L382.5 14.4L385.8 14.6L389.0 14.8L392.4 15.0L395.7 15.3L399.1 15.6L402.5 15.9L406.1 16.2L409.6 16.5L413.2 16.8L416.8 17.2L420.4 17.6L423.9 18.1L427.4 18.5L430.9 19.0L434.2 19.6L437.5 20.2L440.6 20.8L443.8 21.5L446.8 22.3L449.9 23.1L452.8 23.9L455.8 24.8L458.7 25.7L461.6 26.7L464.4 27.7L467.3 28.8L470.1 29.8L472.9 31.0L475.6 32.1L478.4 33.3L481.1 34.5L483.7 35.8L486.3 37.1L488.9 38.4L491.4 39.7L493.9 41.1L496.3 42.5L498.8 44.0L501.2 45.6L503.7 47.2L506.1 48.9L508.5 50.7L510.9 52.5L513.4 54.5L515.8 56.5L518.3 58.7L520.8 60.9L523.2 63.1L525.7 65.4L528.1 67.8L530.6 70.1L533.0 72.4L535.4 74.8L537.8 77.0L540.1 79.4L542.4 81.7L544.7 84.1L547.0 86.4L549.2 88.8L551.5 91.2L553.6 93.6L555.8 95.9L557.9 98.3L559.9 100.6L561.9 102.9L563.8 105.1L565.7 107.4L567.6 109.6L569.4 111.9L571.2 114.1L572.9 116.3L574.6 118.5L576.2 120.6L577.8 122.7L579.2 124.8L580.6 126.7L581.9 128.6L583.1 130.4L584.2 132.1L585.1 133.7L586.1 135.3L586.9 136.8L587.7 138.4L588.5 139.9L589.3 141.5L590.1 143.1L590.9 144.7L591.7 146.4L592.5 148.1L593.3 149.9L594.1 151.5L594.9 153.1L595.6 154.8L596.3 156.4L597.0 158.0L597.7 159.6L598.4 161.2L599.0 162.8L599.6 164.5L600.3 166.2L600.9 168.0L601.5 169.8L602.1 171.7L602.7 173.6L603.3 175.5L603.9 177.5L604.4 179.4L605.0 181.4L605.5 183.4L606.0 185.4L606.4 187.4L606.8 189.5L607.2 191.6L607.6 193.8L607.9 196.2L608.2 198.7L608.5 201.2L608.7 203.8L609.0 206.3L609.2 208.8L609.3 211.3L609.4 213.7L609.5 216.0L605.2 216.2L605.2 214.0L605.1 211.6L605.0 209.2L604.9 206.7L604.7 204.2L604.6 201.7L604.3 199.2L604.1 196.8L603.8 194.4L603.6 192.2L603.2 190.2L602.7 188.2L602.3 186.2L601.8 184.2L601.3 182.3L600.7 180.4L600.2 178.5L599.6 176.6L599.0 174.8L598.4 172.9L597.7 171.0L597.1 169.2L596.5 167.5L595.8 165.9L595.2 164.2L594.5 162.7L593.9 161.1L593.2 159.5L592.5 158.0L591.8 156.4L591.0 154.9L590.2 153.3L589.4 151.6L588.6 150.0L587.7 148.2L586.9 146.6L586.1 145.0L585.3 143.4L584.5 141.9L583.7 140.4L582.9 139.0L582.0 137.5L581.1 136.0L580.1 134.5L579.1 132.9L577.9 131.2L576.6 129.4L575.3 127.5L573.8 125.5L572.2 123.5L570.6 121.4L569.0 119.3L567.2 117.2L565.4 115.0L563.6 112.8L561.7 110.6L559.8 108.5L557.9 106.3L555.9 104.0L553.9 101.8L551.8 99.5L549.7 97.1L547.5 94.8L545.3 92.5L543.1 90.1L540.8 87.8L538.5 85.5L536.2 83.2L533.9 80.9L531.6 78.7L529.2 76.4L526.8 74.0L524.3 71.7L521.9 69.4L519.5 67.2L517.1 65.0L514.6 62.8L512.2 60.8L509.8 58.8L507.5 56.9L505.2 55.1L502.9 53.4L500.5 51.8L498.2 50.3L495.8 48.8L493.5 47.4L491.1 46.0L488.7 44.6L486.2 43.4L483.8 42.1L481.2 40.9L478.7 39.7L476.1 38.5L473.4 37.4L470.7 36.2L468.0 35.1L465.2 34.1L462.5 33.1L459.7 32.1L456.9 31.2L454.1 30.3L451.2 29.4L448.3 28.6L445.4 27.9L442.4 27.1L439.4 26.5L436.4 25.8L433.2 25.3L430.0 24.7L426.6 24.2L423.2 23.8L419.7 23.3L416.2 22.9L412.6 22.6L409.1 22.2L405.6 21.9L402.0 21.6L398.6 21.3L395.3 21.0L392.0 20.8L388.7 20.5L385.4 20.3L382.2 20.2L379.0 20.0L375.9 19.9L372.7 19.8L369.6 19.7L366.5 19.7L363.4 19.7L360.3 19.7L357.2 19.8L354.1 19.8L351.0 19.9L347.9 20.0L344.9 20.1L341.9 20.3L338.9 20.5L335.9 20.7L333.0 21.0L330.1 21.3L327.2 21.6L324.4 22.0L321.6 22.3L318.8 22.7L316.1 23.2L313.3 23.6L310.6 24.2L307.9 24.7L305.2 25.3L302.5 25.9L299.7 26.5L297.0 27.2L294.2 27.9L291.4 28.7L288.6 29.5L285.8 30.3L283.0 31.1L280.2 31.9L277.4 32.8L274.6 33.7L271.9 34.6L269.2 35.5L266.5 36.5L263.9 37.5L261.4 38.6L258.8 39.7L256.3 40.8L253.7 42.1L251.1 43.4L248.6 44.7L246.0 46.0L243.5 47.4L241.0 48.9L238.5 50.4L236.1 51.9L233.8 53.4L231.4 54.9L229.2 56.5L227.1 58.0L225.1 59.6L223.1 61.2L221.1 62.9L219.1 64.7L217.1 66.5L215.2 68.3L213.2 70.2L211.1 72.2L209.1 74.2L206.9 76.3L204.8 78.3L202.6 80.4L200.4 82.5L198.3 84.7L196.1 86.8L193.9 89.0L191.8 91.1L189.6 93.3L187.5 95.5L185.5 97.6L183.5 99.8L181.6 102.0L179.7 104.1L177.8 106.2L176.0 108.4L174.2 110.6L172.4 112.8L170.6 115.0L168.9 117.3L167.2 119.5L165.6 121.7L164.0 123.9L162.4 126.1L160.9 128.3L159.5 130.5L158.0 132.6L156.6 134.8L155.3 136.9L154.0 138.9L152.8 141.0L151.6 143.0L150.5 145.0L149.4 147.1L148.4 149.1L147.4 151.2L146.5 153.3L145.6 155.5L144.7 157.8L143.9 160.2L143.1 162.7L142.3 165.3L141.6 167.9L140.9 170.6L140.2 173.4L139.6 176.1L139.0 178.8L138.4 181.4L137.9 184.0L137.3 186.5L136.9 188.9L136.5 191.2L136.1 193.3L135.7 195.5L135.4 197.6L135.2 199.6L134.9 201.7L134.7 203.7L134.5 205.8L134.3 207.9L134.2 210.0L134.0 212.1L133.9 214.4L133.8 216.6L133.8 218.9L133.7 221.2L133.7 223.5L133.7 225.9L133.8 228.2L133.8 230.4L133.9 232.7L134.0 234.9L134.1 237.0L134.3 239.0L134.5 241.0L134.7 243.0Z" fill="#6483c4" stroke="none" opacity="0.85"/>
<path d="M604.0 236.0C603.0 239.0 600.5 248.7 598.0 254.0C595.5 259.3 592.7 264.6 589.0 268.0C585.3 271.4 578.2 273.4 576.0 274.5" fill="none" stroke="#6787c6" stroke-width="4.0" stroke-linecap="round" opacity="0.6"/>
<path d="M144.9 259.4L144.9 258.2L144.8 256.7L144.6 255.1L144.4 253.3L144.2 251.4L144.0 249.5L143.7 247.5L143.5 245.4L143.4 243.4L143.2 241.5L143.2 239.6L143.2 237.8L143.2 236.0L143.2 233.9L143.3 231.9L143.3 229.7L143.4 227.5L143.6 225.3L143.7 223.1L143.9 220.9L144.1 218.7L144.3 216.5L144.5 214.4L144.8 212.3L144.9 210.3L145.1 208.3L145.3 206.3L145.4 204.4L145.7 202.5L145.9 200.6L146.2 198.7L146.5 196.7L146.8 194.8L147.2 192.7L147.6 190.6L148.0 188.3L148.5 185.9L149.0 183.3L149.6 180.7L150.2 178.1L150.8 175.5L151.4 172.9L152.0 170.3L152.7 167.8L153.4 165.4L154.1 163.2L154.8 161.0L155.6 159.1L156.4 157.2L157.2 155.3L158.1 153.4L159.0 151.6L160.0 149.7L161.0 147.9L162.1 146.0L163.3 144.1L164.5 142.2L165.7 140.2L167.1 138.1L168.5 136.0L169.9 134.0L171.3 131.9L172.8 129.8L174.3 127.7L175.9 125.6L177.5 123.5L179.1 121.4L180.8 119.3L182.6 117.1L184.3 115.0L186.1 113.0L187.9 110.9L189.7 108.9L191.6 106.9L193.5 104.9L195.5 102.8L197.5 100.7L199.6 98.7L201.8 96.6L203.9 94.5L206.1 92.4L208.3 90.3L210.4 88.3L212.6 86.2L214.9 84.2L217.0 82.2L219.2 80.2L221.2 78.4L223.2 76.6L225.2 74.9L227.1 73.2L229.0 71.7L230.8 70.2L232.7 68.8L234.5 67.5L236.5 66.1L238.6 64.8L240.8 63.5L243.0 62.1L245.3 60.8L247.7 59.5L250.0 58.3L252.4 57.0L254.8 55.9L257.3 54.7L259.7 53.6L262.1 52.6L264.5 51.6L266.8 50.6L269.2 49.7L271.6 48.8L274.1 48.0L276.6 47.1L279.2 46.3L281.8 45.5L284.5 44.8L287.1 44.0L289.9 43.3L292.6 42.6L295.3 41.9L298.0 41.2L300.7 40.5L303.3 39.8L305.9 39.2L308.4 38.7L311.0 38.1L313.6 37.6L316.1 37.1L318.7 36.7L321.2 36.3L323.8 35.9L326.4 35.6L329.0 35.2L331.7 34.9L334.4 34.6L337.2 34.4L340.0 34.1L342.8 33.9L345.7 33.8L348.6 33.6L351.5 33.5L354.5 33.4L357.5 33.3L360.5 33.3L363.5 33.3L366.4 33.3L369.4 33.3L372.4 33.3L375.5 33.4L378.5 33.5L381.6 33.6L384.7 33.8L387.8 34.0L391.0 34.2L394.2 34.4L397.5 34.7L400.9 35.0L404.4 35.3L407.8 35.6L411.3 35.9L414.7 36.3L418.1 36.7L421.5 37.1L424.7 37.5L427.9 38.0L430.9 38.5L433.8 39.0L436.6 39.6L439.3 40.2L442.1 40.8L444.8 41.5L447.5 42.2L450.2 43.0L452.8 43.8L455.4 44.6L458.0 45.5L460.6 46.4L463.1 47.3L465.7 48.3L468.2 49.4L470.7 50.4L473.2 51.5L475.6 52.6L477.9 53.7L480.2 54.8L482.5 56.0L484.7 57.2L486.8 58.4L489.0 59.7L491.2 61.0L493.3 62.4L495.4 63.8L497.5 65.3L499.6 66.9L501.8 68.6L504.0 70.4L506.3 72.3L508.6 74.3L510.9 76.4L513.3 78.6L515.7 80.8L518.1 83.1L520.5 85.3L522.9 87.6L525.2 89.7L527.5 91.9L529.7 94.0L532.0 96.2L534.3 98.4L536.5 100.6L538.7 102.9L540.9 105.1L543.0 107.3L545.1 109.5L547.1 111.7L549.0 113.8L551.0 115.8L552.9 117.9L554.7 120.0L556.6 122.0L558.4 124.0L560.1 126.1L561.8 128.0L563.4 130.0L565.0 131.8L566.4 133.7L567.8 135.4L569.1 137.0L570.2 138.5L571.2 139.9L572.1 141.2L572.9 142.4L573.7 143.7L574.5 145.0L575.3 146.3L576.1 147.7L576.9 149.2L577.8 150.7L578.7 152.4L579.6 154.1L580.5 155.8L581.3 157.3L582.0 158.8L582.8 160.3L583.5 161.8L584.2 163.2L584.9 164.7L585.5 166.1L586.2 167.6L586.8 169.1L587.4 170.6L588.1 172.2L588.6 174.0L589.2 175.7L589.8 177.5L590.3 179.3L590.9 181.1L591.4 182.9L591.9 184.7L592.3 186.5L592.8 188.3L593.2 190.2L593.6 192.0L593.9 193.9L594.0 196.0L594.1 198.3L594.1 200.6L594.1 203.0L594.1 205.4L594.1 207.9L594.1 210.2L594.0 212.5L593.9 214.7L593.7 216.7L593.5 218.5L593.2 219.9L592.3 228.0C591.9 229.5 591.8 233.6 590.0 237.0C588.2 240.4 585.7 245.2 581.5 248.5C577.3 251.8 571.9 255.0 565.0 256.8C558.1 258.6 548.0 259.3 540.0 259.5C532.0 259.7 527.0 259.0 517.0 257.8C507.0 256.6 492.0 254.1 480.0 252.5C468.0 250.9 453.3 248.4 445.0 248.0C436.7 247.6 432.5 249.7 430.0 250.0L400 280L352 285L352.0 298.0C349.3 298.3 340.7 299.2 335.6 300.0C330.5 300.8 325.1 302.5 321.5 302.5C317.9 302.5 318.4 299.6 313.8 300.0C309.1 300.4 300.7 303.5 293.4 305.0C286.1 306.5 277.2 307.8 270.0 308.8C262.8 309.8 255.3 310.6 250.0 311.0C244.7 311.4 244.2 311.6 238.0 311.3C231.8 311.1 221.3 311.1 213.0 309.5C204.7 307.9 195.6 305.1 188.0 302.0C180.4 298.9 173.3 294.8 167.5 290.6C161.7 286.4 156.4 280.9 153.0 277.0C149.6 273.1 148.0 268.7 147.0 267.0Z" fill="none" stroke="#ffffff" stroke-width="3" stroke-linejoin="round"/>
<path d="M425.0 255.0C429.2 255.8 440.8 258.2 450.0 260.0C459.2 261.8 468.8 263.4 480.0 265.5C491.2 267.6 506.7 270.2 517.0 272.5C527.3 274.8 534.8 276.6 542.0 279.0C549.2 281.4 555.4 284.0 560.0 287.0C564.6 290.0 567.2 293.5 569.5 297.0C571.8 300.5 573.6 303.3 574.0 308.0C574.4 312.7 573.0 320.2 572.0 325.0C571.0 329.8 570.0 333.3 568.0 337.0C566.0 340.7 564.3 343.2 560.0 347.0C555.7 350.8 549.2 356.2 542.0 360.0C534.8 363.8 524.0 367.3 517.0 370.0C510.0 372.7 504.2 373.5 500.0 376.0C495.8 378.5 493.7 381.0 492.0 385.0C490.3 389.0 489.7 393.3 490.0 400.0C490.3 406.7 492.5 416.8 494.0 425.0C495.5 433.2 496.2 438.2 498.8 449.0C501.4 459.8 507.1 480.5 509.5 490.0C511.9 499.5 512.8 503.3 513.5 506.0L459 506L444.0 476.0C440.8 470.0 430.9 452.0 424.5 440.0C418.1 428.0 410.8 415.2 405.3 404.0C399.8 392.8 396.2 382.0 391.5 373.0C386.8 364.0 381.3 356.8 377.0 350.0C372.7 343.2 368.8 338.0 365.8 332.5C362.9 327.0 361.0 322.1 359.3 317.0C357.6 311.9 356.9 306.2 355.8 302.0C354.8 297.8 353.5 293.7 353.0 292.0L380 260Z" fill="none" stroke="#ffffff" stroke-width="3" stroke-linejoin="round"/>
<path d="M144.9 259.4L144.9 258.2L144.8 256.7L144.6 255.1L144.4 253.3L144.2 251.4L144.0 249.5L143.7 247.5L143.5 245.4L143.4 243.4L143.2 241.5L143.2 239.6L143.2 237.8L143.2 236.0L143.2 233.9L143.3 231.9L143.3 229.7L143.4 227.5L143.6 225.3L143.7 223.1L143.9 220.9L144.1 218.7L144.3 216.5L144.5 214.4L144.8 212.3L144.9 210.3L145.1 208.3L145.3 206.3L145.4 204.4L145.7 202.5L145.9 200.6L146.2 198.7L146.5 196.7L146.8 194.8L147.2 192.7L147.6 190.6L148.0 188.3L148.5 185.9L149.0 183.3L149.6 180.7L150.2 178.1L150.8 175.5L151.4 172.9L152.0 170.3L152.7 167.8L153.4 165.4L154.1 163.2L154.8 161.0L155.6 159.1L156.4 157.2L157.2 155.3L158.1 153.4L159.0 151.6L160.0 149.7L161.0 147.9L162.1 146.0L163.3 144.1L164.5 142.2L165.7 140.2L167.1 138.1L168.5 136.0L169.9 134.0L171.3 131.9L172.8 129.8L174.3 127.7L175.9 125.6L177.5 123.5L179.1 121.4L180.8 119.3L182.6 117.1L184.3 115.0L186.1 113.0L187.9 110.9L189.7 108.9L191.6 106.9L193.5 104.9L195.5 102.8L197.5 100.7L199.6 98.7L201.8 96.6L203.9 94.5L206.1 92.4L208.3 90.3L210.4 88.3L212.6 86.2L214.9 84.2L217.0 82.2L219.2 80.2L221.2 78.4L223.2 76.6L225.2 74.9L227.1 73.2L229.0 71.7L230.8 70.2L232.7 68.8L234.5 67.5L236.5 66.1L238.6 64.8L240.8 63.5L243.0 62.1L245.3 60.8L247.7 59.5L250.0 58.3L252.4 57.0L254.8 55.9L257.3 54.7L259.7 53.6L262.1 52.6L264.5 51.6L266.8 50.6L269.2 49.7L271.6 48.8L274.1 48.0L276.6 47.1L279.2 46.3L281.8 45.5L284.5 44.8L287.1 44.0L289.9 43.3L292.6 42.6L295.3 41.9L298.0 41.2L300.7 40.5L303.3 39.8L305.9 39.2L308.4 38.7L311.0 38.1L313.6 37.6L316.1 37.1L318.7 36.7L321.2 36.3L323.8 35.9L326.4 35.6L329.0 35.2L331.7 34.9L334.4 34.6L337.2 34.4L340.0 34.1L342.8 33.9L345.7 33.8L348.6 33.6L351.5 33.5L354.5 33.4L357.5 33.3L360.5 33.3L363.5 33.3L366.4 33.3L369.4 33.3L372.4 33.3L375.5 33.4L378.5 33.5L381.6 33.6L384.7 33.8L387.8 34.0L391.0 34.2L394.2 34.4L397.5 34.7L400.9 35.0L404.4 35.3L407.8 35.6L411.3 35.9L414.7 36.3L418.1 36.7L421.5 37.1L424.7 37.5L427.9 38.0L430.9 38.5L433.8 39.0L436.6 39.6L439.3 40.2L442.1 40.8L444.8 41.5L447.5 42.2L450.2 43.0L452.8 43.8L455.4 44.6L458.0 45.5L460.6 46.4L463.1 47.3L465.7 48.3L468.2 49.4L470.7 50.4L473.2 51.5L475.6 52.6L477.9 53.7L480.2 54.8L482.5 56.0L484.7 57.2L486.8 58.4L489.0 59.7L491.2 61.0L493.3 62.4L495.4 63.8L497.5 65.3L499.6 66.9L501.8 68.6L504.0 70.4L506.3 72.3L508.6 74.3L510.9 76.4L513.3 78.6L515.7 80.8L518.1 83.1L520.5 85.3L522.9 87.6L525.2 89.7L527.5 91.9L529.7 94.0L532.0 96.2L534.3 98.4L536.5 100.6L538.7 102.9L540.9 105.1L543.0 107.3L545.1 109.5L547.1 111.7L549.0 113.8L551.0 115.8L552.9 117.9L554.7 120.0L556.6 122.0L558.4 124.0L560.1 126.1L561.8 128.0L563.4 130.0L565.0 131.8L566.4 133.7L567.8 135.4L569.1 137.0L570.2 138.5L571.2 139.9L572.1 141.2L572.9 142.4L573.7 143.7L574.5 145.0L575.3 146.3L576.1 147.7L576.9 149.2L577.8 150.7L578.7 152.4L579.6 154.1L580.5 155.8L581.3 157.3L582.0 158.8L582.8 160.3L583.5 161.8L584.2 163.2L584.9 164.7L585.5 166.1L586.2 167.6L586.8 169.1L587.4 170.6L588.1 172.2L588.6 174.0L589.2 175.7L589.8 177.5L590.3 179.3L590.9 181.1L591.4 182.9L591.9 184.7L592.3 186.5L592.8 188.3L593.2 190.2L593.6 192.0L593.9 193.9L594.0 196.0L594.1 198.3L594.1 200.6L594.1 203.0L594.1 205.4L594.1 207.9L594.1 210.2L594.0 212.5L593.9 214.7L593.7 216.7L593.5 218.5L593.2 219.9L592.3 228.0C591.9 229.5 591.8 233.6 590.0 237.0C588.2 240.4 585.7 245.2 581.5 248.5C577.3 251.8 571.9 255.0 565.0 256.8C558.1 258.6 548.0 259.3 540.0 259.5C532.0 259.7 527.0 259.0 517.0 257.8C507.0 256.6 492.0 254.1 480.0 252.5C468.0 250.9 453.3 248.4 445.0 248.0C436.7 247.6 432.5 249.7 430.0 250.0L400 280L352 285L352.0 298.0C349.3 298.3 340.7 299.2 335.6 300.0C330.5 300.8 325.1 302.5 321.5 302.5C317.9 302.5 318.4 299.6 313.8 300.0C309.1 300.4 300.7 303.5 293.4 305.0C286.1 306.5 277.2 307.8 270.0 308.8C262.8 309.8 255.3 310.6 250.0 311.0C244.7 311.4 244.2 311.6 238.0 311.3C231.8 311.1 221.3 311.1 213.0 309.5C204.7 307.9 195.6 305.1 188.0 302.0C180.4 298.9 173.3 294.8 167.5 290.6C161.7 286.4 156.4 280.9 153.0 277.0C149.6 273.1 148.0 268.7 147.0 267.0Z" fill="#b1bae2"/>
<path d="M425.0 255.0C429.2 255.8 440.8 258.2 450.0 260.0C459.2 261.8 468.8 263.4 480.0 265.5C491.2 267.6 506.7 270.2 517.0 272.5C527.3 274.8 534.8 276.6 542.0 279.0C549.2 281.4 555.4 284.0 560.0 287.0C564.6 290.0 567.2 293.5 569.5 297.0C571.8 300.5 573.6 303.3 574.0 308.0C574.4 312.7 573.0 320.2 572.0 325.0C571.0 329.8 570.0 333.3 568.0 337.0C566.0 340.7 564.3 343.2 560.0 347.0C555.7 350.8 549.2 356.2 542.0 360.0C534.8 363.8 524.0 367.3 517.0 370.0C510.0 372.7 504.2 373.5 500.0 376.0C495.8 378.5 493.7 381.0 492.0 385.0C490.3 389.0 489.7 393.3 490.0 400.0C490.3 406.7 492.5 416.8 494.0 425.0C495.5 433.2 496.2 438.2 498.8 449.0C501.4 459.8 507.1 480.5 509.5 490.0C511.9 499.5 512.8 503.3 513.5 506.0L459 506L444.0 476.0C440.8 470.0 430.9 452.0 424.5 440.0C418.1 428.0 410.8 415.2 405.3 404.0C399.8 392.8 396.2 382.0 391.5 373.0C386.8 364.0 381.3 356.8 377.0 350.0C372.7 343.2 368.8 338.0 365.8 332.5C362.9 327.0 361.0 322.1 359.3 317.0C357.6 311.9 356.9 306.2 355.8 302.0C354.8 297.8 353.5 293.7 353.0 292.0L380 260Z" fill="#b1bae2"/>
<defs><clipPath id="cavclip"><path d="M144.9 259.4L144.9 258.2L144.8 256.7L144.6 255.1L144.4 253.3L144.2 251.4L144.0 249.5L143.7 247.5L143.5 245.4L143.4 243.4L143.2 241.5L143.2 239.6L143.2 237.8L143.2 236.0L143.2 233.9L143.3 231.9L143.3 229.7L143.4 227.5L143.6 225.3L143.7 223.1L143.9 220.9L144.1 218.7L144.3 216.5L144.5 214.4L144.8 212.3L144.9 210.3L145.1 208.3L145.3 206.3L145.4 204.4L145.7 202.5L145.9 200.6L146.2 198.7L146.5 196.7L146.8 194.8L147.2 192.7L147.6 190.6L148.0 188.3L148.5 185.9L149.0 183.3L149.6 180.7L150.2 178.1L150.8 175.5L151.4 172.9L152.0 170.3L152.7 167.8L153.4 165.4L154.1 163.2L154.8 161.0L155.6 159.1L156.4 157.2L157.2 155.3L158.1 153.4L159.0 151.6L160.0 149.7L161.0 147.9L162.1 146.0L163.3 144.1L164.5 142.2L165.7 140.2L167.1 138.1L168.5 136.0L169.9 134.0L171.3 131.9L172.8 129.8L174.3 127.7L175.9 125.6L177.5 123.5L179.1 121.4L180.8 119.3L182.6 117.1L184.3 115.0L186.1 113.0L187.9 110.9L189.7 108.9L191.6 106.9L193.5 104.9L195.5 102.8L197.5 100.7L199.6 98.7L201.8 96.6L203.9 94.5L206.1 92.4L208.3 90.3L210.4 88.3L212.6 86.2L214.9 84.2L217.0 82.2L219.2 80.2L221.2 78.4L223.2 76.6L225.2 74.9L227.1 73.2L229.0 71.7L230.8 70.2L232.7 68.8L234.5 67.5L236.5 66.1L238.6 64.8L240.8 63.5L243.0 62.1L245.3 60.8L247.7 59.5L250.0 58.3L252.4 57.0L254.8 55.9L257.3 54.7L259.7 53.6L262.1 52.6L264.5 51.6L266.8 50.6L269.2 49.7L271.6 48.8L274.1 48.0L276.6 47.1L279.2 46.3L281.8 45.5L284.5 44.8L287.1 44.0L289.9 43.3L292.6 42.6L295.3 41.9L298.0 41.2L300.7 40.5L303.3 39.8L305.9 39.2L308.4 38.7L311.0 38.1L313.6 37.6L316.1 37.1L318.7 36.7L321.2 36.3L323.8 35.9L326.4 35.6L329.0 35.2L331.7 34.9L334.4 34.6L337.2 34.4L340.0 34.1L342.8 33.9L345.7 33.8L348.6 33.6L351.5 33.5L354.5 33.4L357.5 33.3L360.5 33.3L363.5 33.3L366.4 33.3L369.4 33.3L372.4 33.3L375.5 33.4L378.5 33.5L381.6 33.6L384.7 33.8L387.8 34.0L391.0 34.2L394.2 34.4L397.5 34.7L400.9 35.0L404.4 35.3L407.8 35.6L411.3 35.9L414.7 36.3L418.1 36.7L421.5 37.1L424.7 37.5L427.9 38.0L430.9 38.5L433.8 39.0L436.6 39.6L439.3 40.2L442.1 40.8L444.8 41.5L447.5 42.2L450.2 43.0L452.8 43.8L455.4 44.6L458.0 45.5L460.6 46.4L463.1 47.3L465.7 48.3L468.2 49.4L470.7 50.4L473.2 51.5L475.6 52.6L477.9 53.7L480.2 54.8L482.5 56.0L484.7 57.2L486.8 58.4L489.0 59.7L491.2 61.0L493.3 62.4L495.4 63.8L497.5 65.3L499.6 66.9L501.8 68.6L504.0 70.4L506.3 72.3L508.6 74.3L510.9 76.4L513.3 78.6L515.7 80.8L518.1 83.1L520.5 85.3L522.9 87.6L525.2 89.7L527.5 91.9L529.7 94.0L532.0 96.2L534.3 98.4L536.5 100.6L538.7 102.9L540.9 105.1L543.0 107.3L545.1 109.5L547.1 111.7L549.0 113.8L551.0 115.8L552.9 117.9L554.7 120.0L556.6 122.0L558.4 124.0L560.1 126.1L561.8 128.0L563.4 130.0L565.0 131.8L566.4 133.7L567.8 135.4L569.1 137.0L570.2 138.5L571.2 139.9L572.1 141.2L572.9 142.4L573.7 143.7L574.5 145.0L575.3 146.3L576.1 147.7L576.9 149.2L577.8 150.7L578.7 152.4L579.6 154.1L580.5 155.8L581.3 157.3L582.0 158.8L582.8 160.3L583.5 161.8L584.2 163.2L584.9 164.7L585.5 166.1L586.2 167.6L586.8 169.1L587.4 170.6L588.1 172.2L588.6 174.0L589.2 175.7L589.8 177.5L590.3 179.3L590.9 181.1L591.4 182.9L591.9 184.7L592.3 186.5L592.8 188.3L593.2 190.2L593.6 192.0L593.9 193.9L594.0 196.0L594.1 198.3L594.1 200.6L594.1 203.0L594.1 205.4L594.1 207.9L594.1 210.2L594.0 212.5L593.9 214.7L593.7 216.7L593.5 218.5L593.2 219.9L592.3 228.0C591.9 229.5 591.8 233.6 590.0 237.0C588.2 240.4 585.7 245.2 581.5 248.5C577.3 251.8 571.9 255.0 565.0 256.8C558.1 258.6 548.0 259.3 540.0 259.5C532.0 259.7 527.0 259.0 517.0 257.8C507.0 256.6 492.0 254.1 480.0 252.5C468.0 250.9 453.3 248.4 445.0 248.0C436.7 247.6 432.5 249.7 430.0 250.0L400 280L352 285L352.0 298.0C349.3 298.3 340.7 299.2 335.6 300.0C330.5 300.8 325.1 302.5 321.5 302.5C317.9 302.5 318.4 299.6 313.8 300.0C309.1 300.4 300.7 303.5 293.4 305.0C286.1 306.5 277.2 307.8 270.0 308.8C262.8 309.8 255.3 310.6 250.0 311.0C244.7 311.4 244.2 311.6 238.0 311.3C231.8 311.1 221.3 311.1 213.0 309.5C204.7 307.9 195.6 305.1 188.0 302.0C180.4 298.9 173.3 294.8 167.5 290.6C161.7 286.4 156.4 280.9 153.0 277.0C149.6 273.1 148.0 268.7 147.0 267.0Z"/><path d="M425.0 255.0C429.2 255.8 440.8 258.2 450.0 260.0C459.2 261.8 468.8 263.4 480.0 265.5C491.2 267.6 506.7 270.2 517.0 272.5C527.3 274.8 534.8 276.6 542.0 279.0C549.2 281.4 555.4 284.0 560.0 287.0C564.6 290.0 567.2 293.5 569.5 297.0C571.8 300.5 573.6 303.3 574.0 308.0C574.4 312.7 573.0 320.2 572.0 325.0C571.0 329.8 570.0 333.3 568.0 337.0C566.0 340.7 564.3 343.2 560.0 347.0C555.7 350.8 549.2 356.2 542.0 360.0C534.8 363.8 524.0 367.3 517.0 370.0C510.0 372.7 504.2 373.5 500.0 376.0C495.8 378.5 493.7 381.0 492.0 385.0C490.3 389.0 489.7 393.3 490.0 400.0C490.3 406.7 492.5 416.8 494.0 425.0C495.5 433.2 496.2 438.2 498.8 449.0C501.4 459.8 507.1 480.5 509.5 490.0C511.9 499.5 512.8 503.3 513.5 506.0L459 506L444.0 476.0C440.8 470.0 430.9 452.0 424.5 440.0C418.1 428.0 410.8 415.2 405.3 404.0C399.8 392.8 396.2 382.0 391.5 373.0C386.8 364.0 381.3 356.8 377.0 350.0C372.7 343.2 368.8 338.0 365.8 332.5C362.9 327.0 361.0 322.1 359.3 317.0C357.6 311.9 356.9 306.2 355.8 302.0C354.8 297.8 353.5 293.7 353.0 292.0L380 260Z"/></clipPath><filter id="bl3" x="-0.05" y="-0.05" width="1.1" height="1.1"><feGaussianBlur stdDeviation="1.2"/></filter></defs>
<g clip-path="url(#cavclip)"><g filter="url(#bl3)" opacity="0.75"><path d="M144.9 259.4L144.9 258.2L144.8 256.7L144.6 255.1L144.4 253.3L144.2 251.4L144.0 249.5L143.7 247.5L143.5 245.4L143.4 243.4L143.2 241.5L143.2 239.6L143.2 237.8L143.2 236.0L143.2 233.9L143.3 231.9L143.3 229.7L143.4 227.5L143.6 225.3L143.7 223.1L143.9 220.9L144.1 218.7L144.3 216.5L144.5 214.4L144.8 212.3L144.9 210.3L145.1 208.3L145.3 206.3L145.4 204.4L145.7 202.5L145.9 200.6L146.2 198.7L146.5 196.7L146.8 194.8L147.2 192.7L147.6 190.6L148.0 188.3L148.5 185.9L149.0 183.3L149.6 180.7L150.2 178.1L150.8 175.5L151.4 172.9L152.0 170.3L152.7 167.8L153.4 165.4L154.1 163.2L154.8 161.0L155.6 159.1L156.4 157.2L157.2 155.3L158.1 153.4L159.0 151.6L160.0 149.7L161.0 147.9L162.1 146.0L163.3 144.1L164.5 142.2L165.7 140.2L167.1 138.1L168.5 136.0L169.9 134.0L171.3 131.9L172.8 129.8L174.3 127.7L175.9 125.6L177.5 123.5L179.1 121.4L180.8 119.3L182.6 117.1L184.3 115.0L186.1 113.0L187.9 110.9L189.7 108.9L191.6 106.9L193.5 104.9L195.5 102.8L197.5 100.7L199.6 98.7L201.8 96.6L203.9 94.5L206.1 92.4L208.3 90.3L210.4 88.3L212.6 86.2L214.9 84.2L217.0 82.2L219.2 80.2L221.2 78.4L223.2 76.6L225.2 74.9L227.1 73.2L229.0 71.7L230.8 70.2L232.7 68.8L234.5 67.5L236.5 66.1L238.6 64.8L240.8 63.5L243.0 62.1L245.3 60.8L247.7 59.5L250.0 58.3L252.4 57.0L254.8 55.9L257.3 54.7L259.7 53.6L262.1 52.6L264.5 51.6L266.8 50.6L269.2 49.7L271.6 48.8L274.1 48.0L276.6 47.1L279.2 46.3L281.8 45.5L284.5 44.8L287.1 44.0L289.9 43.3L292.6 42.6L295.3 41.9L298.0 41.2L300.7 40.5L303.3 39.8L305.9 39.2L308.4 38.7L311.0 38.1L313.6 37.6L316.1 37.1L318.7 36.7L321.2 36.3L323.8 35.9L326.4 35.6L329.0 35.2L331.7 34.9L334.4 34.6L337.2 34.4L340.0 34.1L342.8 33.9L345.7 33.8L348.6 33.6L351.5 33.5L354.5 33.4L357.5 33.3L360.5 33.3L363.5 33.3L366.4 33.3L369.4 33.3L372.4 33.3L375.5 33.4L378.5 33.5L381.6 33.6L384.7 33.8L387.8 34.0L391.0 34.2L394.2 34.4L397.5 34.7L400.9 35.0L404.4 35.3L407.8 35.6L411.3 35.9L414.7 36.3L418.1 36.7L421.5 37.1L424.7 37.5L427.9 38.0L430.9 38.5L433.8 39.0L436.6 39.6L439.3 40.2L442.1 40.8L444.8 41.5L447.5 42.2L450.2 43.0L452.8 43.8L455.4 44.6L458.0 45.5L460.6 46.4L463.1 47.3L465.7 48.3L468.2 49.4L470.7 50.4L473.2 51.5L475.6 52.6L477.9 53.7L480.2 54.8L482.5 56.0L484.7 57.2L486.8 58.4L489.0 59.7L491.2 61.0L493.3 62.4L495.4 63.8L497.5 65.3L499.6 66.9L501.8 68.6L504.0 70.4L506.3 72.3L508.6 74.3L510.9 76.4L513.3 78.6L515.7 80.8L518.1 83.1L520.5 85.3L522.9 87.6L525.2 89.7L527.5 91.9L529.7 94.0L532.0 96.2L534.3 98.4L536.5 100.6L538.7 102.9L540.9 105.1L543.0 107.3L545.1 109.5L547.1 111.7L549.0 113.8L551.0 115.8L552.9 117.9L554.7 120.0L556.6 122.0L558.4 124.0L560.1 126.1L561.8 128.0L563.4 130.0L565.0 131.8L566.4 133.7L567.8 135.4L569.1 137.0L570.2 138.5L571.2 139.9L572.1 141.2L572.9 142.4L573.7 143.7L574.5 145.0L575.3 146.3L576.1 147.7L576.9 149.2L577.8 150.7L578.7 152.4L579.6 154.1L580.5 155.8L581.3 157.3L582.0 158.8L582.8 160.3L583.5 161.8L584.2 163.2L584.9 164.7L585.5 166.1L586.2 167.6L586.8 169.1L587.4 170.6L588.1 172.2L588.6 174.0L589.2 175.7L589.8 177.5L590.3 179.3L590.9 181.1L591.4 182.9L591.9 184.7L592.3 186.5L592.8 188.3L593.2 190.2L593.6 192.0L593.9 193.9L594.0 196.0L594.1 198.3L594.1 200.6L594.1 203.0L594.1 205.4L594.1 207.9L594.1 210.2L594.0 212.5L593.9 214.7L593.7 216.7L593.5 218.5L593.2 219.9L592.3 228.0C591.9 229.5 591.8 233.6 590.0 237.0C588.2 240.4 585.7 245.2 581.5 248.5C577.3 251.8 571.9 255.0 565.0 256.8C558.1 258.6 548.0 259.3 540.0 259.5C532.0 259.7 527.0 259.0 517.0 257.8C507.0 256.6 492.0 254.1 480.0 252.5C468.0 250.9 453.3 248.4 445.0 248.0C436.7 247.6 432.5 249.7 430.0 250.0L400 280L352 285L352.0 298.0C349.3 298.3 340.7 299.2 335.6 300.0C330.5 300.8 325.1 302.5 321.5 302.5C317.9 302.5 318.4 299.6 313.8 300.0C309.1 300.4 300.7 303.5 293.4 305.0C286.1 306.5 277.2 307.8 270.0 308.8C262.8 309.8 255.3 310.6 250.0 311.0C244.7 311.4 244.2 311.6 238.0 311.3C231.8 311.1 221.3 311.1 213.0 309.5C204.7 307.9 195.6 305.1 188.0 302.0C180.4 298.9 173.3 294.8 167.5 290.6C161.7 286.4 156.4 280.9 153.0 277.0C149.6 273.1 148.0 268.7 147.0 267.0Z" fill="none" stroke="#cdd4f0" stroke-width="6"/><path d="M425.0 255.0C429.2 255.8 440.8 258.2 450.0 260.0C459.2 261.8 468.8 263.4 480.0 265.5C491.2 267.6 506.7 270.2 517.0 272.5C527.3 274.8 534.8 276.6 542.0 279.0C549.2 281.4 555.4 284.0 560.0 287.0C564.6 290.0 567.2 293.5 569.5 297.0C571.8 300.5 573.6 303.3 574.0 308.0C574.4 312.7 573.0 320.2 572.0 325.0C571.0 329.8 570.0 333.3 568.0 337.0C566.0 340.7 564.3 343.2 560.0 347.0C555.7 350.8 549.2 356.2 542.0 360.0C534.8 363.8 524.0 367.3 517.0 370.0C510.0 372.7 504.2 373.5 500.0 376.0C495.8 378.5 493.7 381.0 492.0 385.0C490.3 389.0 489.7 393.3 490.0 400.0C490.3 406.7 492.5 416.8 494.0 425.0C495.5 433.2 496.2 438.2 498.8 449.0C501.4 459.8 507.1 480.5 509.5 490.0C511.9 499.5 512.8 503.3 513.5 506.0L459 506L444.0 476.0C440.8 470.0 430.9 452.0 424.5 440.0C418.1 428.0 410.8 415.2 405.3 404.0C399.8 392.8 396.2 382.0 391.5 373.0C386.8 364.0 381.3 356.8 377.0 350.0C372.7 343.2 368.8 338.0 365.8 332.5C362.9 327.0 361.0 322.1 359.3 317.0C357.6 311.9 356.9 306.2 355.8 302.0C354.8 297.8 353.5 293.7 353.0 292.0L380 260Z" fill="none" stroke="#cdd4f0" stroke-width="6"/></g></g>
<path d="M149.0 250.0C147.8 244.7 147.3 238.3 148.0 232.0C148.7 225.7 152.3 218.0 153.0 212.0C153.7 206.0 151.5 200.7 152.0 196.0C152.5 191.3 154.3 188.3 156.0 184.0C157.7 179.7 160.2 174.3 162.0 170.0C163.8 165.7 164.6 161.7 166.5 158.0C168.4 154.3 171.1 151.7 173.5 148.0C175.9 144.3 178.8 139.8 181.0 136.0C183.2 132.2 184.5 128.6 186.5 125.0C188.5 121.4 190.2 116.9 193.0 114.5C195.8 112.1 199.5 111.7 203.0 110.5C206.5 109.3 211.1 109.4 214.0 107.5C216.9 105.6 217.8 101.8 220.5 99.0C223.2 96.2 227.2 93.3 230.5 91.0C233.8 88.7 236.4 87.2 240.0 85.0C243.6 82.8 248.3 80.5 252.0 78.0C255.7 75.5 258.2 72.3 262.0 70.0C265.8 67.7 270.3 65.5 275.0 64.0C279.7 62.5 285.4 62.5 290.0 61.0C294.6 59.5 298.0 56.3 302.5 55.0C307.0 53.7 312.8 54.4 317.0 53.0C321.2 51.6 323.7 47.2 327.5 46.7C331.3 46.2 335.8 49.6 340.0 49.8C344.2 50.0 349.0 48.6 352.5 47.7C356.0 46.8 357.6 45.8 361.0 44.6C364.4 43.4 368.2 41.3 373.0 40.4C377.8 39.5 384.4 39.0 390.0 39.4C395.6 39.8 401.2 41.5 406.7 42.5C412.2 43.5 417.4 44.2 423.0 45.6C428.6 47.0 435.5 49.1 440.0 50.8C444.5 52.5 446.5 54.3 450.0 56.0C453.5 57.7 457.1 59.1 460.8 60.8C464.5 62.5 468.5 64.0 472.0 66.0C475.5 68.0 478.7 70.8 481.7 73.0C484.7 75.2 487.3 76.5 490.0 79.0C492.7 81.5 495.3 85.3 498.0 88.0C500.7 90.7 503.5 92.2 506.0 95.0C508.5 97.8 510.8 101.8 513.0 104.6C515.2 107.4 517.3 109.3 519.0 112.0C520.7 114.7 521.3 118.0 523.0 121.0C524.7 124.0 527.2 127.9 529.0 130.0C530.8 132.1 531.6 132.8 533.8 133.8C535.9 134.8 539.5 134.6 542.0 136.0C544.5 137.4 547.0 140.7 549.0 142.0C551.0 143.3 551.8 142.7 554.0 144.0C556.2 145.3 559.2 147.7 562.0 150.0C564.8 152.3 568.3 155.5 571.0 158.0C573.7 160.5 576.3 162.7 578.0 165.0C579.7 167.3 580.0 169.3 581.0 172.0C582.0 174.7 583.2 177.7 584.0 181.0C584.8 184.3 585.1 188.2 585.5 192.0C585.9 195.8 586.1 200.2 586.3 204.0C586.5 207.8 586.6 211.3 586.5 215.0C586.4 218.7 586.2 222.7 585.5 226.0C584.8 229.3 584.2 231.9 582.5 235.0C580.8 238.1 578.1 242.2 575.5 244.5C572.9 246.8 569.8 247.4 567.0 248.5C564.2 249.6 563.2 250.6 558.8 251.3C554.2 252.1 547.4 252.9 540.0 253.0C532.6 253.1 522.7 252.7 514.4 252.0C506.1 251.3 498.3 249.9 490.0 249.0C481.7 248.1 473.1 247.2 464.8 246.5C456.5 245.8 445.8 245.0 440.0 245.0C434.2 245.0 436.7 243.7 430.0 246.5C423.3 249.3 411.7 258.8 400.0 262.0C388.3 265.2 371.7 264.7 360.0 266.0C348.3 267.3 335.7 268.3 330.0 270.0C324.3 271.7 327.3 273.5 326.0 276.0C324.7 278.5 324.3 282.3 322.0 285.0C319.7 287.7 315.7 290.3 312.0 292.0C308.3 293.7 304.5 294.1 300.0 295.0C295.5 295.9 290.8 296.5 285.0 297.5C279.2 298.5 272.5 300.1 265.0 301.0C257.5 301.9 246.7 303.0 240.0 303.0C233.3 303.0 230.8 301.8 225.0 301.0C219.2 300.2 210.8 299.2 205.0 298.0C199.2 296.8 195.0 296.0 190.0 294.0C185.0 292.0 179.5 289.0 175.0 286.0C170.5 283.0 166.3 279.7 163.0 276.0C159.7 272.3 157.3 268.3 155.0 264.0C152.7 259.7 150.2 255.3 149.0 250.0Z" fill="#e2cab1"/>
<defs><filter id="bl2" x="-0.05" y="-0.05" width="1.1" height="1.1"><feGaussianBlur stdDeviation="2.2"/></filter><filter id="bl1" x="-0.05" y="-0.05" width="1.1" height="1.1"><feGaussianBlur stdDeviation="0.5"/></filter><clipPath id="brclip"><path d="M149.0 250.0C147.8 244.7 147.3 238.3 148.0 232.0C148.7 225.7 152.3 218.0 153.0 212.0C153.7 206.0 151.5 200.7 152.0 196.0C152.5 191.3 154.3 188.3 156.0 184.0C157.7 179.7 160.2 174.3 162.0 170.0C163.8 165.7 164.6 161.7 166.5 158.0C168.4 154.3 171.1 151.7 173.5 148.0C175.9 144.3 178.8 139.8 181.0 136.0C183.2 132.2 184.5 128.6 186.5 125.0C188.5 121.4 190.2 116.9 193.0 114.5C195.8 112.1 199.5 111.7 203.0 110.5C206.5 109.3 211.1 109.4 214.0 107.5C216.9 105.6 217.8 101.8 220.5 99.0C223.2 96.2 227.2 93.3 230.5 91.0C233.8 88.7 236.4 87.2 240.0 85.0C243.6 82.8 248.3 80.5 252.0 78.0C255.7 75.5 258.2 72.3 262.0 70.0C265.8 67.7 270.3 65.5 275.0 64.0C279.7 62.5 285.4 62.5 290.0 61.0C294.6 59.5 298.0 56.3 302.5 55.0C307.0 53.7 312.8 54.4 317.0 53.0C321.2 51.6 323.7 47.2 327.5 46.7C331.3 46.2 335.8 49.6 340.0 49.8C344.2 50.0 349.0 48.6 352.5 47.7C356.0 46.8 357.6 45.8 361.0 44.6C364.4 43.4 368.2 41.3 373.0 40.4C377.8 39.5 384.4 39.0 390.0 39.4C395.6 39.8 401.2 41.5 406.7 42.5C412.2 43.5 417.4 44.2 423.0 45.6C428.6 47.0 435.5 49.1 440.0 50.8C444.5 52.5 446.5 54.3 450.0 56.0C453.5 57.7 457.1 59.1 460.8 60.8C464.5 62.5 468.5 64.0 472.0 66.0C475.5 68.0 478.7 70.8 481.7 73.0C484.7 75.2 487.3 76.5 490.0 79.0C492.7 81.5 495.3 85.3 498.0 88.0C500.7 90.7 503.5 92.2 506.0 95.0C508.5 97.8 510.8 101.8 513.0 104.6C515.2 107.4 517.3 109.3 519.0 112.0C520.7 114.7 521.3 118.0 523.0 121.0C524.7 124.0 527.2 127.9 529.0 130.0C530.8 132.1 531.6 132.8 533.8 133.8C535.9 134.8 539.5 134.6 542.0 136.0C544.5 137.4 547.0 140.7 549.0 142.0C551.0 143.3 551.8 142.7 554.0 144.0C556.2 145.3 559.2 147.7 562.0 150.0C564.8 152.3 568.3 155.5 571.0 158.0C573.7 160.5 576.3 162.7 578.0 165.0C579.7 167.3 580.0 169.3 581.0 172.0C582.0 174.7 583.2 177.7 584.0 181.0C584.8 184.3 585.1 188.2 585.5 192.0C585.9 195.8 586.1 200.2 586.3 204.0C586.5 207.8 586.6 211.3 586.5 215.0C586.4 218.7 586.2 222.7 585.5 226.0C584.8 229.3 584.2 231.9 582.5 235.0C580.8 238.1 578.1 242.2 575.5 244.5C572.9 246.8 569.8 247.4 567.0 248.5C564.2 249.6 563.2 250.6 558.8 251.3C554.2 252.1 547.4 252.9 540.0 253.0C532.6 253.1 522.7 252.7 514.4 252.0C506.1 251.3 498.3 249.9 490.0 249.0C481.7 248.1 473.1 247.2 464.8 246.5C456.5 245.8 445.8 245.0 440.0 245.0C434.2 245.0 436.7 243.7 430.0 246.5C423.3 249.3 411.7 258.8 400.0 262.0C388.3 265.2 371.7 264.7 360.0 266.0C348.3 267.3 335.7 268.3 330.0 270.0C324.3 271.7 327.3 273.5 326.0 276.0C324.7 278.5 324.3 282.3 322.0 285.0C319.7 287.7 315.7 290.3 312.0 292.0C308.3 293.7 304.5 294.1 300.0 295.0C295.5 295.9 290.8 296.5 285.0 297.5C279.2 298.5 272.5 300.1 265.0 301.0C257.5 301.9 246.7 303.0 240.0 303.0C233.3 303.0 230.8 301.8 225.0 301.0C219.2 300.2 210.8 299.2 205.0 298.0C199.2 296.8 195.0 296.0 190.0 294.0C185.0 292.0 179.5 289.0 175.0 286.0C170.5 283.0 166.3 279.7 163.0 276.0C159.7 272.3 157.3 268.3 155.0 264.0C152.7 259.7 150.2 255.3 149.0 250.0Z"/></clipPath></defs>
<g clip-path="url(#brclip)"><g filter="url(#bl2)" opacity="0.55"><path d="M149.0 250.0C147.8 244.7 147.3 238.3 148.0 232.0C148.7 225.7 152.3 218.0 153.0 212.0C153.7 206.0 151.5 200.7 152.0 196.0C152.5 191.3 154.3 188.3 156.0 184.0C157.7 179.7 160.2 174.3 162.0 170.0C163.8 165.7 164.6 161.7 166.5 158.0C168.4 154.3 171.1 151.7 173.5 148.0C175.9 144.3 178.8 139.8 181.0 136.0C183.2 132.2 184.5 128.6 186.5 125.0C188.5 121.4 190.2 116.9 193.0 114.5C195.8 112.1 199.5 111.7 203.0 110.5C206.5 109.3 211.1 109.4 214.0 107.5C216.9 105.6 217.8 101.8 220.5 99.0C223.2 96.2 227.2 93.3 230.5 91.0C233.8 88.7 236.4 87.2 240.0 85.0C243.6 82.8 248.3 80.5 252.0 78.0C255.7 75.5 258.2 72.3 262.0 70.0C265.8 67.7 270.3 65.5 275.0 64.0C279.7 62.5 285.4 62.5 290.0 61.0C294.6 59.5 298.0 56.3 302.5 55.0C307.0 53.7 312.8 54.4 317.0 53.0C321.2 51.6 323.7 47.2 327.5 46.7C331.3 46.2 335.8 49.6 340.0 49.8C344.2 50.0 349.0 48.6 352.5 47.7C356.0 46.8 357.6 45.8 361.0 44.6C364.4 43.4 368.2 41.3 373.0 40.4C377.8 39.5 384.4 39.0 390.0 39.4C395.6 39.8 401.2 41.5 406.7 42.5C412.2 43.5 417.4 44.2 423.0 45.6C428.6 47.0 435.5 49.1 440.0 50.8C444.5 52.5 446.5 54.3 450.0 56.0C453.5 57.7 457.1 59.1 460.8 60.8C464.5 62.5 468.5 64.0 472.0 66.0C475.5 68.0 478.7 70.8 481.7 73.0C484.7 75.2 487.3 76.5 490.0 79.0C492.7 81.5 495.3 85.3 498.0 88.0C500.7 90.7 503.5 92.2 506.0 95.0C508.5 97.8 510.8 101.8 513.0 104.6C515.2 107.4 517.3 109.3 519.0 112.0C520.7 114.7 521.3 118.0 523.0 121.0C524.7 124.0 527.2 127.9 529.0 130.0C530.8 132.1 531.6 132.8 533.8 133.8C535.9 134.8 539.5 134.6 542.0 136.0C544.5 137.4 547.0 140.7 549.0 142.0C551.0 143.3 551.8 142.7 554.0 144.0C556.2 145.3 559.2 147.7 562.0 150.0C564.8 152.3 568.3 155.5 571.0 158.0C573.7 160.5 576.3 162.7 578.0 165.0C579.7 167.3 580.0 169.3 581.0 172.0C582.0 174.7 583.2 177.7 584.0 181.0C584.8 184.3 585.1 188.2 585.5 192.0C585.9 195.8 586.1 200.2 586.3 204.0C586.5 207.8 586.6 211.3 586.5 215.0C586.4 218.7 586.2 222.7 585.5 226.0C584.8 229.3 584.2 231.9 582.5 235.0C580.8 238.1 578.1 242.2 575.5 244.5C572.9 246.8 569.8 247.4 567.0 248.5C564.2 249.6 563.2 250.6 558.8 251.3C554.2 252.1 547.4 252.9 540.0 253.0C532.6 253.1 522.7 252.7 514.4 252.0C506.1 251.3 498.3 249.9 490.0 249.0C481.7 248.1 473.1 247.2 464.8 246.5C456.5 245.8 445.8 245.0 440.0 245.0C434.2 245.0 436.7 243.7 430.0 246.5C423.3 249.3 411.7 258.8 400.0 262.0C388.3 265.2 371.7 264.7 360.0 266.0C348.3 267.3 335.7 268.3 330.0 270.0C324.3 271.7 327.3 273.5 326.0 276.0C324.7 278.5 324.3 282.3 322.0 285.0C319.7 287.7 315.7 290.3 312.0 292.0C308.3 293.7 304.5 294.1 300.0 295.0C295.5 295.9 290.8 296.5 285.0 297.5C279.2 298.5 272.5 300.1 265.0 301.0C257.5 301.9 246.7 303.0 240.0 303.0C233.3 303.0 230.8 301.8 225.0 301.0C219.2 300.2 210.8 299.2 205.0 298.0C199.2 296.8 195.0 296.0 190.0 294.0C185.0 292.0 179.5 289.0 175.0 286.0C170.5 283.0 166.3 279.7 163.0 276.0C159.7 272.3 157.3 268.3 155.0 264.0C152.7 259.7 150.2 255.3 149.0 250.0Z" fill="none" stroke="#c9a583" stroke-width="5"/><path d="M217.0 108.8C216.3 110.3 213.8 114.9 213.0 118.0C212.2 121.1 211.3 125.2 212.0 127.5C212.7 129.8 215.2 130.8 217.0 132.0C218.8 133.2 220.2 134.0 223.0 135.0C225.8 136.0 231.3 138.2 233.8 138.0C236.2 137.8 237.0 135.4 237.5 134.0C238.0 132.6 237.1 130.3 237.0 129.6" fill="none" stroke="#cfae8f" stroke-width="5" stroke-linecap="round"/><path d="M195.0 134.8C195.5 135.8 197.2 139.1 198.0 141.0C198.8 142.9 199.3 143.7 200.0 146.0C200.7 148.3 201.2 152.2 202.0 155.0C202.8 157.8 203.1 160.5 204.6 163.0C206.1 165.5 210.6 167.8 210.8 170.0C211.0 172.2 207.4 174.1 206.0 176.0C204.6 177.9 203.5 178.7 202.5 181.7C201.5 184.7 200.4 191.9 200.0 194.0" fill="none" stroke="#cfae8f" stroke-width="5" stroke-linecap="round"/><path d="M210.8 170.0C212.2 169.0 216.2 165.9 219.0 164.0C221.8 162.1 224.7 160.6 227.5 158.8C230.3 156.9 233.2 154.8 236.0 153.0C238.8 151.2 241.7 150.0 244.0 148.0C246.3 146.0 247.9 143.2 250.0 141.0C252.1 138.8 254.2 136.7 256.7 134.8C259.2 132.9 260.8 130.8 265.0 129.6C269.2 128.4 275.9 127.3 281.7 127.5C287.5 127.7 296.9 130.1 300.0 130.6" fill="none" stroke="#cfae8f" stroke-width="5" stroke-linecap="round"/><path d="M240.0 105.6C240.7 106.8 242.7 110.4 244.0 113.0C245.3 115.6 246.7 118.5 248.0 121.0C249.3 123.5 250.6 125.7 252.0 128.0C253.4 130.3 255.9 133.7 256.7 134.8" fill="none" stroke="#cfae8f" stroke-width="5" stroke-linecap="round"/><path d="M248.0 147.0C249.0 147.3 252.2 148.1 254.0 149.0C255.8 149.9 257.8 151.0 258.8 152.5C259.8 154.0 259.8 155.9 260.0 158.0C260.2 160.1 259.8 163.8 259.8 165.0" fill="none" stroke="#cfae8f" stroke-width="5" stroke-linecap="round"/><path d="M277.5 149.0C278.1 149.7 279.6 151.7 281.0 153.0C282.4 154.3 284.0 155.9 285.8 156.7C287.6 157.5 290.0 157.7 292.0 158.0C294.0 158.3 297.0 158.6 298.0 158.8" fill="none" stroke="#cfae8f" stroke-width="5" stroke-linecap="round"/><path d="M340.0 49.8C340.8 51.0 343.3 54.8 345.0 57.0C346.7 59.2 348.6 61.0 350.4 63.0C352.2 65.0 353.9 67.2 356.0 69.0C358.1 70.8 361.0 72.8 363.0 73.8C365.0 74.8 366.3 74.8 368.0 75.0C369.7 75.2 371.8 75.5 373.0 74.8C374.2 74.1 375.0 71.3 375.4 70.6" fill="none" stroke="#cfae8f" stroke-width="5" stroke-linecap="round"/><path d="M334.8 92.5C334.9 93.1 335.0 95.1 335.5 96.0C336.0 96.9 336.4 97.4 338.0 97.7C339.6 98.0 342.6 97.8 345.0 98.0C347.4 98.2 350.3 97.9 352.5 98.8C354.7 99.6 356.2 101.3 358.0 103.0C359.8 104.7 361.3 106.8 363.0 109.0C364.7 111.2 366.3 113.9 368.0 116.0C369.7 118.1 371.5 120.8 373.0 121.7C374.5 122.6 375.6 121.8 377.0 121.5C378.4 121.2 380.9 119.9 381.7 119.6" fill="none" stroke="#cfae8f" stroke-width="5" stroke-linecap="round"/><path d="M361.0 44.6C362.0 45.7 365.0 48.9 367.0 51.0C369.0 53.1 371.2 54.8 373.0 57.0C374.8 59.2 376.6 61.5 378.0 64.0C379.4 66.5 380.6 68.7 381.7 71.7C382.8 74.7 383.8 78.5 384.5 82.0C385.2 85.5 385.9 89.0 385.8 92.5C385.7 96.0 384.7 99.6 384.0 103.0C383.3 106.4 381.7 109.9 381.7 113.0C381.7 116.1 383.4 120.2 383.8 121.7" fill="none" stroke="#cfae8f" stroke-width="5" stroke-linecap="round"/><path d="M390.0 42.5C391.2 44.6 394.9 50.8 397.0 55.0C399.1 59.2 401.2 63.3 402.5 67.5C403.8 71.7 404.1 75.8 404.6 80.0C405.1 84.2 405.9 88.7 405.6 92.5C405.3 96.3 403.9 99.6 403.0 103.0C402.1 106.4 400.5 108.8 400.4 113.0C400.3 117.2 402.1 125.5 402.5 128.0" fill="none" stroke="#cfae8f" stroke-width="5" stroke-linecap="round"/><path d="M410.8 46.7C411.5 48.8 413.6 54.8 415.0 59.0C416.4 63.2 418.0 67.9 419.0 71.7C420.0 75.5 420.3 78.5 421.0 82.0C421.7 85.5 421.7 89.0 423.0 92.5C424.3 96.0 426.9 99.6 429.0 103.0C431.1 106.4 433.5 110.0 435.8 113.0C438.1 116.0 440.6 118.5 443.0 121.0C445.4 123.5 448.8 126.8 450.0 128.0" fill="none" stroke="#cfae8f" stroke-width="5" stroke-linecap="round"/><path d="M444.0 57.0C444.1 58.2 444.3 61.5 444.5 64.0C444.7 66.5 444.6 69.5 445.0 71.7C445.4 73.9 446.2 75.3 447.0 77.0C447.8 78.7 449.1 79.5 450.0 82.0C450.9 84.5 451.7 89.0 452.5 92.0C453.3 95.0 454.6 98.7 455.0 100.0" fill="none" stroke="#cfae8f" stroke-width="5" stroke-linecap="round"/><path d="M321.0 78.0C321.3 79.8 322.4 85.2 323.0 89.0C323.6 92.8 324.6 97.3 324.4 100.8C324.1 104.3 322.7 107.2 321.5 110.0C320.3 112.8 318.9 115.2 317.0 117.5C315.1 119.8 312.4 121.8 310.0 123.5C307.6 125.2 303.8 127.2 302.5 128.0" fill="none" stroke="#cfae8f" stroke-width="5" stroke-linecap="round"/><path d="M290.0 61.2C290.5 62.0 292.3 64.3 293.0 66.0C293.7 67.7 293.9 69.0 294.0 71.7C294.1 74.4 293.8 78.5 293.5 82.0C293.2 85.5 293.1 89.5 292.0 92.5C290.9 95.5 289.0 98.1 287.0 100.0C285.0 101.9 281.2 103.3 280.0 104.0" fill="none" stroke="#cfae8f" stroke-width="5" stroke-linecap="round"/><path d="M317.0 53.0C317.4 54.0 318.8 56.9 319.5 59.0C320.2 61.1 321.0 64.3 321.2 65.4" fill="none" stroke="#cfae8f" stroke-width="5" stroke-linecap="round"/><path d="M473.0 69.0C472.8 70.8 472.3 76.2 472.0 80.0C471.7 83.8 472.0 88.7 471.0 92.0C470.0 95.3 467.7 97.2 466.0 100.0C464.3 102.8 461.5 105.8 461.0 108.8C460.5 111.8 462.0 114.9 463.0 118.0C464.0 121.1 465.2 124.5 467.0 127.5C468.8 130.5 471.6 133.2 474.0 136.0C476.4 138.8 480.4 142.7 481.7 144.0" fill="none" stroke="#cfae8f" stroke-width="5" stroke-linecap="round"/><path d="M486.0 127.5C486.7 128.4 488.7 131.2 490.0 133.0C491.3 134.8 493.3 137.2 494.0 138.0" fill="none" stroke="#cfae8f" stroke-width="5" stroke-linecap="round"/><path d="M511.0 108.8C510.8 110.0 509.9 113.6 509.5 116.0C509.1 118.4 508.7 120.2 508.8 123.0C508.8 125.8 509.3 129.5 510.0 133.0C510.7 136.5 512.5 142.2 513.0 144.0" fill="none" stroke="#cfae8f" stroke-width="5" stroke-linecap="round"/><path d="M522.0 140.0C520.3 140.8 515.2 141.2 512.0 145.0C508.8 148.8 506.0 157.0 503.0 163.0C500.0 169.0 497.3 174.5 494.0 181.0C490.7 187.5 485.2 198.5 483.4 202.0" fill="none" stroke="#cfae8f" stroke-width="5" stroke-linecap="round"/><path d="M489.6 189.6C491.5 188.5 496.9 184.7 501.0 183.0C505.1 181.3 510.1 179.8 514.4 179.6C518.7 179.4 522.9 180.8 527.0 182.0C531.1 183.2 535.3 185.2 539.0 187.0C542.7 188.8 545.7 190.4 549.0 192.5C552.3 194.6 556.3 197.4 559.0 199.5C561.7 201.6 563.3 202.9 565.0 205.0C566.7 207.1 568.5 209.3 569.0 212.0C569.5 214.7 568.8 218.2 568.0 221.0C567.2 223.8 564.7 227.7 564.0 229.0" fill="none" stroke="#cfae8f" stroke-width="5" stroke-linecap="round"/><path d="M512.0 202.0C512.8 203.3 515.3 207.5 517.0 210.0C518.7 212.5 519.8 214.9 522.0 217.0C524.2 219.1 527.2 220.9 530.0 222.5C532.8 224.1 535.4 225.3 539.0 226.8C542.6 228.3 549.6 230.9 551.7 231.7" fill="none" stroke="#cfae8f" stroke-width="5" stroke-linecap="round"/><path d="M526.8 145.0C527.3 146.2 529.2 149.5 530.0 152.0C530.8 154.5 530.1 158.0 531.8 159.8C533.5 161.6 537.1 162.2 540.0 163.0C542.9 163.8 546.2 163.7 549.0 164.7C551.8 165.7 554.5 167.3 557.0 169.0C559.5 170.7 561.2 172.9 564.0 174.7C566.8 176.5 572.3 178.8 574.0 179.6" fill="none" stroke="#cfae8f" stroke-width="5" stroke-linecap="round"/><path d="M447.4 154.8C448.5 156.3 451.9 160.7 454.0 164.0C456.1 167.3 458.2 171.4 459.8 174.7C461.4 178.0 462.7 180.7 463.5 184.0C464.3 187.3 465.1 191.2 464.8 194.5C464.6 197.8 463.2 201.1 462.0 204.0C460.8 206.9 458.2 210.6 457.4 211.9" fill="none" stroke="#cfae8f" stroke-width="5" stroke-linecap="round"/><path d="M464.8 135.0C465.8 136.7 469.0 141.7 471.0 145.0C473.0 148.3 475.0 152.4 477.0 154.8C479.0 157.2 480.9 158.3 483.0 159.5C485.1 160.7 487.4 161.8 489.6 162.0C491.8 162.2 493.9 161.3 496.0 160.5C498.1 159.7 501.0 157.6 502.0 157.0" fill="none" stroke="#cfae8f" stroke-width="5" stroke-linecap="round"/><path d="M226.7 185.0C226.1 186.7 223.8 191.7 223.0 195.0C222.2 198.3 221.7 201.5 221.7 204.8C221.7 208.1 222.2 211.7 223.0 215.0C223.8 218.3 224.9 221.4 226.7 224.6C228.5 227.8 231.1 231.1 234.0 234.0C236.9 236.9 240.3 239.8 244.0 242.0C247.7 244.2 251.9 245.8 256.0 247.0C260.1 248.2 264.6 249.1 268.8 249.4C273.0 249.7 276.9 249.4 281.0 249.0C285.1 248.6 289.7 247.6 293.5 246.9C297.3 246.2 300.8 245.8 304.0 245.0C307.2 244.2 311.5 242.5 313.0 242.0" fill="none" stroke="#cfae8f" stroke-width="5" stroke-linecap="round"/><path d="M197.0 192.4C196.7 194.2 195.4 199.3 195.0 203.0C194.6 206.7 194.0 210.5 194.5 214.7C195.0 218.9 196.3 223.9 198.0 228.0C199.7 232.1 201.7 235.8 204.4 239.5C207.1 243.2 210.3 246.8 214.0 250.0C217.7 253.2 222.2 256.5 226.7 259.0C231.2 261.5 236.1 263.3 241.0 265.0C245.9 266.7 251.6 268.3 256.4 269.0C261.2 269.7 265.5 269.4 270.0 269.0C274.5 268.6 279.6 267.8 283.6 266.7C287.6 265.6 290.7 264.1 294.0 262.5C297.3 260.9 301.8 257.8 303.4 256.8" fill="none" stroke="#cfae8f" stroke-width="5" stroke-linecap="round"/><path d="M169.8 222.0C170.0 223.7 170.2 228.7 171.0 232.0C171.8 235.3 172.7 238.6 174.7 242.0C176.7 245.4 179.7 249.2 183.0 252.5C186.3 255.8 190.7 258.8 194.5 261.7C198.3 264.6 201.9 267.5 206.0 270.0C210.1 272.5 214.3 274.9 219.0 276.6C223.7 278.3 229.0 279.2 234.0 280.0C239.0 280.8 244.3 281.3 249.0 281.5C253.7 281.7 257.9 281.4 262.0 281.0C266.1 280.6 271.0 279.8 273.7 279.0C276.4 278.2 277.2 277.2 278.0 276.0C278.8 274.8 278.6 272.3 278.7 271.6" fill="none" stroke="#cfae8f" stroke-width="5" stroke-linecap="round"/><path d="M202.0 289.0C202.5 288.2 203.8 285.8 205.0 284.5C206.2 283.2 206.9 281.9 209.4 281.5C211.9 281.1 216.3 281.6 220.0 282.0C223.7 282.4 228.6 283.2 231.6 284.0C234.6 284.8 235.9 285.8 238.0 287.0C240.1 288.2 243.0 290.7 244.0 291.4" fill="none" stroke="#cfae8f" stroke-width="5" stroke-linecap="round"/><path d="M157.4 192.4C158.5 193.2 161.9 196.6 164.0 197.0C166.1 197.4 167.8 196.2 170.0 195.0C172.2 193.8 174.7 190.2 177.0 190.0C179.3 189.8 181.9 192.0 184.0 194.0C186.1 196.0 188.7 200.7 189.6 202.0" fill="none" stroke="#cfae8f" stroke-width="5" stroke-linecap="round"/><path d="M150.0 242.0C151.3 241.7 155.3 239.8 158.0 240.0C160.7 240.2 164.7 242.5 166.0 243.0" fill="none" stroke="#cfae8f" stroke-width="5" stroke-linecap="round"/><path d="M290.0 127.0C292.0 126.4 297.9 124.3 302.0 123.5C306.1 122.7 310.6 121.7 314.8 122.0C318.9 122.3 322.9 124.2 327.0 125.5C331.1 126.8 335.3 129.7 339.5 129.7C343.7 129.7 347.9 126.8 352.0 125.5C356.1 124.2 360.0 122.5 364.0 122.0C368.0 121.5 371.8 122.0 376.0 122.5C380.2 123.0 385.2 123.9 389.0 124.7C392.8 125.5 395.7 126.3 399.0 127.5C402.3 128.7 405.5 130.2 408.8 132.0C412.1 133.8 415.7 135.9 419.0 138.0C422.3 140.1 425.8 142.4 428.6 144.5C431.4 146.6 433.5 148.4 436.0 150.5C438.5 152.6 439.8 154.2 443.5 156.9C447.2 159.6 455.6 165.2 458.0 166.8" fill="none" stroke="#cfae8f" stroke-width="5" stroke-linecap="round"/><path d="M252.0 176.0C254.7 173.8 261.7 166.7 268.0 163.0C274.3 159.3 282.2 156.7 290.0 154.0C297.8 151.3 307.8 149.2 314.8 147.0C321.8 144.8 325.8 142.3 332.0 141.0C338.2 139.7 344.8 139.2 352.0 139.0C359.2 138.8 367.3 139.0 375.0 140.0C382.7 141.0 390.8 142.8 398.0 145.0C405.2 147.2 411.7 149.8 418.0 153.0C424.3 156.2 433.0 162.2 436.0 164.0" fill="none" stroke="#cfae8f" stroke-width="5" stroke-linecap="round"/><path d="M339.5 129.7C339.1 130.9 338.2 135.1 337.0 137.0C335.8 138.9 332.8 140.3 332.0 141.0" fill="none" stroke="#cfae8f" stroke-width="5" stroke-linecap="round"/><path d="M364.0 122.0C364.3 123.5 366.3 128.2 366.0 131.0C365.7 133.8 362.7 137.7 362.0 139.0" fill="none" stroke="#cfae8f" stroke-width="5" stroke-linecap="round"/><path d="M408.8 132.0C408.2 133.3 406.8 137.8 405.0 140.0C403.2 142.2 399.2 144.2 398.0 145.0" fill="none" stroke="#cfae8f" stroke-width="5" stroke-linecap="round"/><path d="M540.0 247.5C538.3 245.9 534.2 240.2 530.0 238.0C525.8 235.8 520.0 234.3 515.0 234.0C510.0 233.7 504.5 234.8 500.0 236.0C495.5 237.2 490.0 240.2 488.0 241.0" fill="none" stroke="#cfae8f" stroke-width="5" stroke-linecap="round"/><path d="M575.0 200.0C575.8 201.3 578.7 205.0 580.0 208.0C581.3 211.0 582.8 214.7 583.0 218.0C583.2 221.3 581.3 226.3 581.0 228.0" fill="none" stroke="#cfae8f" stroke-width="5" stroke-linecap="round"/><path d="M160.0 215.0C161.7 214.2 166.7 210.5 170.0 210.0C173.3 209.5 177.3 210.3 180.0 212.0C182.7 213.7 185.0 218.7 186.0 220.0" fill="none" stroke="#cfae8f" stroke-width="5" stroke-linecap="round"/><path d="M260.0 100.0C261.3 101.3 266.0 105.0 268.0 108.0C270.0 111.0 271.7 114.8 272.0 118.0C272.3 121.2 270.3 125.5 270.0 127.0" fill="none" stroke="#cfae8f" stroke-width="5" stroke-linecap="round"/><path d="M275.0 64.0C275.8 65.7 279.0 70.7 280.0 74.0C281.0 77.3 280.8 82.3 281.0 84.0" fill="none" stroke="#cfae8f" stroke-width="5" stroke-linecap="round"/><path d="M300.0 168.0C299.3 166.7 296.3 163.0 296.0 160.0C295.7 157.0 297.7 151.7 298.0 150.0" fill="none" stroke="#cfae8f" stroke-width="5" stroke-linecap="round"/><path d="M430.0 100.0C431.0 98.0 434.8 92.0 436.0 88.0C437.2 84.0 436.8 78.0 437.0 76.0" fill="none" stroke="#cfae8f" stroke-width="5" stroke-linecap="round"/><path d="M535.0 200.0C536.7 201.0 542.2 203.7 545.0 206.0C547.8 208.3 550.8 212.7 552.0 214.0" fill="none" stroke="#cfae8f" stroke-width="5" stroke-linecap="round"/><path d="M250.0 205.0C249.7 206.7 247.7 211.8 248.0 215.0C248.3 218.2 251.3 222.5 252.0 224.0" fill="none" stroke="#cfae8f" stroke-width="5" stroke-linecap="round"/><path d="M180.0 150.0C181.3 151.0 185.3 154.7 188.0 156.0C190.7 157.3 194.7 157.7 196.0 158.0" fill="none" stroke="#cfae8f" stroke-width="5" stroke-linecap="round"/></g></g>
<g filter="url(#bl1)"><path d="M217.0 108.8C216.3 110.3 213.8 114.9 213.0 118.0C212.2 121.1 211.3 125.2 212.0 127.5C212.7 129.8 215.2 130.8 217.0 132.0C218.8 133.2 220.2 134.0 223.0 135.0C225.8 136.0 231.3 138.2 233.8 138.0C236.2 137.8 237.0 135.4 237.5 134.0C238.0 132.6 237.1 130.3 237.0 129.6" fill="none" stroke="#c2a58a" stroke-width="1.7" stroke-linecap="round" opacity="0.9"/><path d="M195.0 134.8C195.5 135.8 197.2 139.1 198.0 141.0C198.8 142.9 199.3 143.7 200.0 146.0C200.7 148.3 201.2 152.2 202.0 155.0C202.8 157.8 203.1 160.5 204.6 163.0C206.1 165.5 210.6 167.8 210.8 170.0C211.0 172.2 207.4 174.1 206.0 176.0C204.6 177.9 203.5 178.7 202.5 181.7C201.5 184.7 200.4 191.9 200.0 194.0" fill="none" stroke="#c2a58a" stroke-width="1.7" stroke-linecap="round" opacity="0.9"/><path d="M210.8 170.0C212.2 169.0 216.2 165.9 219.0 164.0C221.8 162.1 224.7 160.6 227.5 158.8C230.3 156.9 233.2 154.8 236.0 153.0C238.8 151.2 241.7 150.0 244.0 148.0C246.3 146.0 247.9 143.2 250.0 141.0C252.1 138.8 254.2 136.7 256.7 134.8C259.2 132.9 260.8 130.8 265.0 129.6C269.2 128.4 275.9 127.3 281.7 127.5C287.5 127.7 296.9 130.1 300.0 130.6" fill="none" stroke="#c2a58a" stroke-width="1.7" stroke-linecap="round" opacity="0.9"/><path d="M240.0 105.6C240.7 106.8 242.7 110.4 244.0 113.0C245.3 115.6 246.7 118.5 248.0 121.0C249.3 123.5 250.6 125.7 252.0 128.0C253.4 130.3 255.9 133.7 256.7 134.8" fill="none" stroke="#c2a58a" stroke-width="1.7" stroke-linecap="round" opacity="0.9"/><path d="M248.0 147.0C249.0 147.3 252.2 148.1 254.0 149.0C255.8 149.9 257.8 151.0 258.8 152.5C259.8 154.0 259.8 155.9 260.0 158.0C260.2 160.1 259.8 163.8 259.8 165.0" fill="none" stroke="#c2a58a" stroke-width="1.7" stroke-linecap="round" opacity="0.9"/><path d="M277.5 149.0C278.1 149.7 279.6 151.7 281.0 153.0C282.4 154.3 284.0 155.9 285.8 156.7C287.6 157.5 290.0 157.7 292.0 158.0C294.0 158.3 297.0 158.6 298.0 158.8" fill="none" stroke="#c2a58a" stroke-width="1.7" stroke-linecap="round" opacity="0.9"/><path d="M340.0 49.8C340.8 51.0 343.3 54.8 345.0 57.0C346.7 59.2 348.6 61.0 350.4 63.0C352.2 65.0 353.9 67.2 356.0 69.0C358.1 70.8 361.0 72.8 363.0 73.8C365.0 74.8 366.3 74.8 368.0 75.0C369.7 75.2 371.8 75.5 373.0 74.8C374.2 74.1 375.0 71.3 375.4 70.6" fill="none" stroke="#c2a58a" stroke-width="1.7" stroke-linecap="round" opacity="0.9"/><path d="M334.8 92.5C334.9 93.1 335.0 95.1 335.5 96.0C336.0 96.9 336.4 97.4 338.0 97.7C339.6 98.0 342.6 97.8 345.0 98.0C347.4 98.2 350.3 97.9 352.5 98.8C354.7 99.6 356.2 101.3 358.0 103.0C359.8 104.7 361.3 106.8 363.0 109.0C364.7 111.2 366.3 113.9 368.0 116.0C369.7 118.1 371.5 120.8 373.0 121.7C374.5 122.6 375.6 121.8 377.0 121.5C378.4 121.2 380.9 119.9 381.7 119.6" fill="none" stroke="#c2a58a" stroke-width="1.7" stroke-linecap="round" opacity="0.9"/><path d="M361.0 44.6C362.0 45.7 365.0 48.9 367.0 51.0C369.0 53.1 371.2 54.8 373.0 57.0C374.8 59.2 376.6 61.5 378.0 64.0C379.4 66.5 380.6 68.7 381.7 71.7C382.8 74.7 383.8 78.5 384.5 82.0C385.2 85.5 385.9 89.0 385.8 92.5C385.7 96.0 384.7 99.6 384.0 103.0C383.3 106.4 381.7 109.9 381.7 113.0C381.7 116.1 383.4 120.2 383.8 121.7" fill="none" stroke="#c2a58a" stroke-width="1.7" stroke-linecap="round" opacity="0.9"/><path d="M390.0 42.5C391.2 44.6 394.9 50.8 397.0 55.0C399.1 59.2 401.2 63.3 402.5 67.5C403.8 71.7 404.1 75.8 404.6 80.0C405.1 84.2 405.9 88.7 405.6 92.5C405.3 96.3 403.9 99.6 403.0 103.0C402.1 106.4 400.5 108.8 400.4 113.0C400.3 117.2 402.1 125.5 402.5 128.0" fill="none" stroke="#c2a58a" stroke-width="1.7" stroke-linecap="round" opacity="0.9"/><path d="M410.8 46.7C411.5 48.8 413.6 54.8 415.0 59.0C416.4 63.2 418.0 67.9 419.0 71.7C420.0 75.5 420.3 78.5 421.0 82.0C421.7 85.5 421.7 89.0 423.0 92.5C424.3 96.0 426.9 99.6 429.0 103.0C431.1 106.4 433.5 110.0 435.8 113.0C438.1 116.0 440.6 118.5 443.0 121.0C445.4 123.5 448.8 126.8 450.0 128.0" fill="none" stroke="#c2a58a" stroke-width="1.7" stroke-linecap="round" opacity="0.9"/><path d="M444.0 57.0C444.1 58.2 444.3 61.5 444.5 64.0C444.7 66.5 444.6 69.5 445.0 71.7C445.4 73.9 446.2 75.3 447.0 77.0C447.8 78.7 449.1 79.5 450.0 82.0C450.9 84.5 451.7 89.0 452.5 92.0C453.3 95.0 454.6 98.7 455.0 100.0" fill="none" stroke="#c2a58a" stroke-width="1.7" stroke-linecap="round" opacity="0.9"/><path d="M321.0 78.0C321.3 79.8 322.4 85.2 323.0 89.0C323.6 92.8 324.6 97.3 324.4 100.8C324.1 104.3 322.7 107.2 321.5 110.0C320.3 112.8 318.9 115.2 317.0 117.5C315.1 119.8 312.4 121.8 310.0 123.5C307.6 125.2 303.8 127.2 302.5 128.0" fill="none" stroke="#c2a58a" stroke-width="1.7" stroke-linecap="round" opacity="0.9"/><path d="M290.0 61.2C290.5 62.0 292.3 64.3 293.0 66.0C293.7 67.7 293.9 69.0 294.0 71.7C294.1 74.4 293.8 78.5 293.5 82.0C293.2 85.5 293.1 89.5 292.0 92.5C290.9 95.5 289.0 98.1 287.0 100.0C285.0 101.9 281.2 103.3 280.0 104.0" fill="none" stroke="#c2a58a" stroke-width="1.7" stroke-linecap="round" opacity="0.9"/><path d="M317.0 53.0C317.4 54.0 318.8 56.9 319.5 59.0C320.2 61.1 321.0 64.3 321.2 65.4" fill="none" stroke="#c2a58a" stroke-width="1.7" stroke-linecap="round" opacity="0.9"/><path d="M473.0 69.0C472.8 70.8 472.3 76.2 472.0 80.0C471.7 83.8 472.0 88.7 471.0 92.0C470.0 95.3 467.7 97.2 466.0 100.0C464.3 102.8 461.5 105.8 461.0 108.8C460.5 111.8 462.0 114.9 463.0 118.0C464.0 121.1 465.2 124.5 467.0 127.5C468.8 130.5 471.6 133.2 474.0 136.0C476.4 138.8 480.4 142.7 481.7 144.0" fill="none" stroke="#c2a58a" stroke-width="1.7" stroke-linecap="round" opacity="0.9"/><path d="M486.0 127.5C486.7 128.4 488.7 131.2 490.0 133.0C491.3 134.8 493.3 137.2 494.0 138.0" fill="none" stroke="#c2a58a" stroke-width="1.7" stroke-linecap="round" opacity="0.9"/><path d="M511.0 108.8C510.8 110.0 509.9 113.6 509.5 116.0C509.1 118.4 508.7 120.2 508.8 123.0C508.8 125.8 509.3 129.5 510.0 133.0C510.7 136.5 512.5 142.2 513.0 144.0" fill="none" stroke="#c2a58a" stroke-width="1.7" stroke-linecap="round" opacity="0.9"/><path d="M522.0 140.0C520.3 140.8 515.2 141.2 512.0 145.0C508.8 148.8 506.0 157.0 503.0 163.0C500.0 169.0 497.3 174.5 494.0 181.0C490.7 187.5 485.2 198.5 483.4 202.0" fill="none" stroke="#c2a58a" stroke-width="1.7" stroke-linecap="round" opacity="0.9"/><path d="M489.6 189.6C491.5 188.5 496.9 184.7 501.0 183.0C505.1 181.3 510.1 179.8 514.4 179.6C518.7 179.4 522.9 180.8 527.0 182.0C531.1 183.2 535.3 185.2 539.0 187.0C542.7 188.8 545.7 190.4 549.0 192.5C552.3 194.6 556.3 197.4 559.0 199.5C561.7 201.6 563.3 202.9 565.0 205.0C566.7 207.1 568.5 209.3 569.0 212.0C569.5 214.7 568.8 218.2 568.0 221.0C567.2 223.8 564.7 227.7 564.0 229.0" fill="none" stroke="#c2a58a" stroke-width="1.7" stroke-linecap="round" opacity="0.9"/><path d="M512.0 202.0C512.8 203.3 515.3 207.5 517.0 210.0C518.7 212.5 519.8 214.9 522.0 217.0C524.2 219.1 527.2 220.9 530.0 222.5C532.8 224.1 535.4 225.3 539.0 226.8C542.6 228.3 549.6 230.9 551.7 231.7" fill="none" stroke="#c2a58a" stroke-width="1.7" stroke-linecap="round" opacity="0.9"/><path d="M526.8 145.0C527.3 146.2 529.2 149.5 530.0 152.0C530.8 154.5 530.1 158.0 531.8 159.8C533.5 161.6 537.1 162.2 540.0 163.0C542.9 163.8 546.2 163.7 549.0 164.7C551.8 165.7 554.5 167.3 557.0 169.0C559.5 170.7 561.2 172.9 564.0 174.7C566.8 176.5 572.3 178.8 574.0 179.6" fill="none" stroke="#c2a58a" stroke-width="1.7" stroke-linecap="round" opacity="0.9"/><path d="M447.4 154.8C448.5 156.3 451.9 160.7 454.0 164.0C456.1 167.3 458.2 171.4 459.8 174.7C461.4 178.0 462.7 180.7 463.5 184.0C464.3 187.3 465.1 191.2 464.8 194.5C464.6 197.8 463.2 201.1 462.0 204.0C460.8 206.9 458.2 210.6 457.4 211.9" fill="none" stroke="#c2a58a" stroke-width="1.7" stroke-linecap="round" opacity="0.9"/><path d="M464.8 135.0C465.8 136.7 469.0 141.7 471.0 145.0C473.0 148.3 475.0 152.4 477.0 154.8C479.0 157.2 480.9 158.3 483.0 159.5C485.1 160.7 487.4 161.8 489.6 162.0C491.8 162.2 493.9 161.3 496.0 160.5C498.1 159.7 501.0 157.6 502.0 157.0" fill="none" stroke="#c2a58a" stroke-width="1.7" stroke-linecap="round" opacity="0.9"/><path d="M226.7 185.0C226.1 186.7 223.8 191.7 223.0 195.0C222.2 198.3 221.7 201.5 221.7 204.8C221.7 208.1 222.2 211.7 223.0 215.0C223.8 218.3 224.9 221.4 226.7 224.6C228.5 227.8 231.1 231.1 234.0 234.0C236.9 236.9 240.3 239.8 244.0 242.0C247.7 244.2 251.9 245.8 256.0 247.0C260.1 248.2 264.6 249.1 268.8 249.4C273.0 249.7 276.9 249.4 281.0 249.0C285.1 248.6 289.7 247.6 293.5 246.9C297.3 246.2 300.8 245.8 304.0 245.0C307.2 244.2 311.5 242.5 313.0 242.0" fill="none" stroke="#c2a58a" stroke-width="1.7" stroke-linecap="round" opacity="0.9"/><path d="M197.0 192.4C196.7 194.2 195.4 199.3 195.0 203.0C194.6 206.7 194.0 210.5 194.5 214.7C195.0 218.9 196.3 223.9 198.0 228.0C199.7 232.1 201.7 235.8 204.4 239.5C207.1 243.2 210.3 246.8 214.0 250.0C217.7 253.2 222.2 256.5 226.7 259.0C231.2 261.5 236.1 263.3 241.0 265.0C245.9 266.7 251.6 268.3 256.4 269.0C261.2 269.7 265.5 269.4 270.0 269.0C274.5 268.6 279.6 267.8 283.6 266.7C287.6 265.6 290.7 264.1 294.0 262.5C297.3 260.9 301.8 257.8 303.4 256.8" fill="none" stroke="#c2a58a" stroke-width="1.7" stroke-linecap="round" opacity="0.9"/><path d="M169.8 222.0C170.0 223.7 170.2 228.7 171.0 232.0C171.8 235.3 172.7 238.6 174.7 242.0C176.7 245.4 179.7 249.2 183.0 252.5C186.3 255.8 190.7 258.8 194.5 261.7C198.3 264.6 201.9 267.5 206.0 270.0C210.1 272.5 214.3 274.9 219.0 276.6C223.7 278.3 229.0 279.2 234.0 280.0C239.0 280.8 244.3 281.3 249.0 281.5C253.7 281.7 257.9 281.4 262.0 281.0C266.1 280.6 271.0 279.8 273.7 279.0C276.4 278.2 277.2 277.2 278.0 276.0C278.8 274.8 278.6 272.3 278.7 271.6" fill="none" stroke="#c2a58a" stroke-width="1.7" stroke-linecap="round" opacity="0.9"/><path d="M202.0 289.0C202.5 288.2 203.8 285.8 205.0 284.5C206.2 283.2 206.9 281.9 209.4 281.5C211.9 281.1 216.3 281.6 220.0 282.0C223.7 282.4 228.6 283.2 231.6 284.0C234.6 284.8 235.9 285.8 238.0 287.0C240.1 288.2 243.0 290.7 244.0 291.4" fill="none" stroke="#c2a58a" stroke-width="1.7" stroke-linecap="round" opacity="0.9"/><path d="M157.4 192.4C158.5 193.2 161.9 196.6 164.0 197.0C166.1 197.4 167.8 196.2 170.0 195.0C172.2 193.8 174.7 190.2 177.0 190.0C179.3 189.8 181.9 192.0 184.0 194.0C186.1 196.0 188.7 200.7 189.6 202.0" fill="none" stroke="#c2a58a" stroke-width="1.7" stroke-linecap="round" opacity="0.9"/><path d="M150.0 242.0C151.3 241.7 155.3 239.8 158.0 240.0C160.7 240.2 164.7 242.5 166.0 243.0" fill="none" stroke="#c2a58a" stroke-width="1.7" stroke-linecap="round" opacity="0.9"/><path d="M290.0 127.0C292.0 126.4 297.9 124.3 302.0 123.5C306.1 122.7 310.6 121.7 314.8 122.0C318.9 122.3 322.9 124.2 327.0 125.5C331.1 126.8 335.3 129.7 339.5 129.7C343.7 129.7 347.9 126.8 352.0 125.5C356.1 124.2 360.0 122.5 364.0 122.0C368.0 121.5 371.8 122.0 376.0 122.5C380.2 123.0 385.2 123.9 389.0 124.7C392.8 125.5 395.7 126.3 399.0 127.5C402.3 128.7 405.5 130.2 408.8 132.0C412.1 133.8 415.7 135.9 419.0 138.0C422.3 140.1 425.8 142.4 428.6 144.5C431.4 146.6 433.5 148.4 436.0 150.5C438.5 152.6 439.8 154.2 443.5 156.9C447.2 159.6 455.6 165.2 458.0 166.8" fill="none" stroke="#c2a58a" stroke-width="1.7" stroke-linecap="round" opacity="0.9"/><path d="M252.0 176.0C254.7 173.8 261.7 166.7 268.0 163.0C274.3 159.3 282.2 156.7 290.0 154.0C297.8 151.3 307.8 149.2 314.8 147.0C321.8 144.8 325.8 142.3 332.0 141.0C338.2 139.7 344.8 139.2 352.0 139.0C359.2 138.8 367.3 139.0 375.0 140.0C382.7 141.0 390.8 142.8 398.0 145.0C405.2 147.2 411.7 149.8 418.0 153.0C424.3 156.2 433.0 162.2 436.0 164.0" fill="none" stroke="#c2a58a" stroke-width="1.7" stroke-linecap="round" opacity="0.9"/><path d="M339.5 129.7C339.1 130.9 338.2 135.1 337.0 137.0C335.8 138.9 332.8 140.3 332.0 141.0" fill="none" stroke="#c2a58a" stroke-width="1.7" stroke-linecap="round" opacity="0.9"/><path d="M364.0 122.0C364.3 123.5 366.3 128.2 366.0 131.0C365.7 133.8 362.7 137.7 362.0 139.0" fill="none" stroke="#c2a58a" stroke-width="1.7" stroke-linecap="round" opacity="0.9"/><path d="M408.8 132.0C408.2 133.3 406.8 137.8 405.0 140.0C403.2 142.2 399.2 144.2 398.0 145.0" fill="none" stroke="#c2a58a" stroke-width="1.7" stroke-linecap="round" opacity="0.9"/><path d="M540.0 247.5C538.3 245.9 534.2 240.2 530.0 238.0C525.8 235.8 520.0 234.3 515.0 234.0C510.0 233.7 504.5 234.8 500.0 236.0C495.5 237.2 490.0 240.2 488.0 241.0" fill="none" stroke="#c2a58a" stroke-width="1.7" stroke-linecap="round" opacity="0.9"/><path d="M575.0 200.0C575.8 201.3 578.7 205.0 580.0 208.0C581.3 211.0 582.8 214.7 583.0 218.0C583.2 221.3 581.3 226.3 581.0 228.0" fill="none" stroke="#c2a58a" stroke-width="1.7" stroke-linecap="round" opacity="0.9"/><path d="M160.0 215.0C161.7 214.2 166.7 210.5 170.0 210.0C173.3 209.5 177.3 210.3 180.0 212.0C182.7 213.7 185.0 218.7 186.0 220.0" fill="none" stroke="#c2a58a" stroke-width="1.7" stroke-linecap="round" opacity="0.9"/><path d="M260.0 100.0C261.3 101.3 266.0 105.0 268.0 108.0C270.0 111.0 271.7 114.8 272.0 118.0C272.3 121.2 270.3 125.5 270.0 127.0" fill="none" stroke="#c2a58a" stroke-width="1.7" stroke-linecap="round" opacity="0.9"/><path d="M275.0 64.0C275.8 65.7 279.0 70.7 280.0 74.0C281.0 77.3 280.8 82.3 281.0 84.0" fill="none" stroke="#c2a58a" stroke-width="1.7" stroke-linecap="round" opacity="0.9"/><path d="M300.0 168.0C299.3 166.7 296.3 163.0 296.0 160.0C295.7 157.0 297.7 151.7 298.0 150.0" fill="none" stroke="#c2a58a" stroke-width="1.7" stroke-linecap="round" opacity="0.9"/><path d="M430.0 100.0C431.0 98.0 434.8 92.0 436.0 88.0C437.2 84.0 436.8 78.0 437.0 76.0" fill="none" stroke="#c2a58a" stroke-width="1.7" stroke-linecap="round" opacity="0.9"/><path d="M535.0 200.0C536.7 201.0 542.2 203.7 545.0 206.0C547.8 208.3 550.8 212.7 552.0 214.0" fill="none" stroke="#c2a58a" stroke-width="1.7" stroke-linecap="round" opacity="0.9"/><path d="M250.0 205.0C249.7 206.7 247.7 211.8 248.0 215.0C248.3 218.2 251.3 222.5 252.0 224.0" fill="none" stroke="#c2a58a" stroke-width="1.7" stroke-linecap="round" opacity="0.9"/><path d="M180.0 150.0C181.3 151.0 185.3 154.7 188.0 156.0C190.7 157.3 194.7 157.7 196.0 158.0" fill="none" stroke="#c2a58a" stroke-width="1.7" stroke-linecap="round" opacity="0.9"/></g>
<path d="M213.5 67.2L219.5 64.8L222.0 80.0Z" fill="#4068ac"/>
<path d="M295.1 25.3L300.9 22.7L305.0 40.0Z" fill="#4068ac"/>
<path d="M492.8 50.0L499.2 50.0L496.0 70.0Z" fill="#4068ac"/>
<path d="M216.8 67.0C217.7 69.2 219.8 76.8 222.0 80.0C224.2 83.2 227.0 83.8 230.0 86.0C233.0 88.2 237.0 91.4 240.0 93.0C243.0 94.6 245.7 95.5 248.0 95.5C250.3 95.5 253.0 93.4 254.0 93.0" fill="none" stroke="#4068ac" stroke-width="2.1" stroke-linecap="round"/>
<path d="M248.0 95.5C248.7 94.9 250.8 92.8 252.0 92.0C253.2 91.2 254.5 90.8 255.0 90.5" fill="none" stroke="#4068ac" stroke-width="2.1" stroke-linecap="round"/>
<path d="M298.5 25.0C299.6 27.5 302.9 36.0 305.0 40.0C307.1 44.0 309.0 46.1 310.8 48.8C312.6 51.4 314.3 53.6 316.0 56.0C317.7 58.4 319.5 61.0 321.2 63.3C323.0 65.6 324.4 68.4 326.5 69.6C328.6 70.8 331.6 69.8 334.0 70.5C336.4 71.2 339.8 73.2 341.0 73.8" fill="none" stroke="#4068ac" stroke-width="2.1" stroke-linecap="round"/>
<path d="M326.5 69.6C326.4 70.5 326.2 73.3 326.0 75.0C325.8 76.7 325.5 79.2 325.4 80.0" fill="none" stroke="#4068ac" stroke-width="2.1" stroke-linecap="round"/>
<path d="M496.0 51.0C495.9 54.2 495.5 64.9 495.5 70.0C495.5 75.1 495.7 78.0 496.0 81.7C496.3 85.4 497.2 88.5 497.5 92.0C497.8 95.5 498.0 99.0 498.0 102.5C498.0 106.0 497.7 109.6 497.5 113.0C497.3 116.4 497.1 121.3 497.0 123.0" fill="none" stroke="#4068ac" stroke-width="2.1" stroke-linecap="round"/>
<path d="M497.5 104.0C496.6 104.6 493.8 106.4 492.0 107.5C490.2 108.6 487.8 110.2 487.0 110.8" fill="none" stroke="#4068ac" stroke-width="2.1" stroke-linecap="round"/>
<g transform="translate(417.0 25.5) rotate(8.0)"><circle cx="-4.5" cy="-2.5" r="6.6" fill="#ffffff"/><circle cx="3.2" cy="0.5" r="6.3" fill="#ffffff"/><circle cx="-1" cy="4.5" r="5.5" fill="#ffffff"/><circle cx="-3.5" cy="7.5" r="4.5" fill="#ffffff"/><circle cx="-4.5" cy="-2.5" r="5.3" fill="#b9c1e6"/><circle cx="3.2" cy="0.5" r="5.0" fill="#b9c1e6"/><circle cx="-1" cy="4.5" r="4.2" fill="#b9c1e6"/><circle cx="-3.5" cy="7.5" r="3.2" fill="#b9c1e6"/></g>
<g transform="translate(530.5 93.5) rotate(48.0)"><circle cx="-4.5" cy="-2.5" r="6.6" fill="#ffffff"/><circle cx="3.2" cy="0.5" r="6.3" fill="#ffffff"/><circle cx="-1" cy="4.5" r="5.5" fill="#ffffff"/><circle cx="-3.5" cy="7.5" r="4.5" fill="#ffffff"/><circle cx="-4.5" cy="-2.5" r="5.3" fill="#b9c1e6"/><circle cx="3.2" cy="0.5" r="5.0" fill="#b9c1e6"/><circle cx="-1" cy="4.5" r="4.2" fill="#b9c1e6"/><circle cx="-3.5" cy="7.5" r="3.2" fill="#b9c1e6"/></g>
<path d="M283.0 49.5C284.5 48.9 289.0 46.8 292.0 46.0C295.0 45.2 298.0 45.6 301.0 45.0C304.0 44.4 308.5 42.9 310.0 42.5" fill="none" stroke="#ffffff" stroke-width="1.5" stroke-linecap="round" opacity="0.85"/>
<path d="M262.0 58.0C263.3 57.2 267.5 54.5 270.0 53.5C272.5 52.5 275.8 52.2 277.0 52.0" fill="none" stroke="#ffffff" stroke-width="1.5" stroke-linecap="round" opacity="0.85"/>
<path d="M236.0 79.0C237.2 77.8 240.7 73.8 243.0 72.0C245.3 70.2 248.8 69.1 250.0 68.5" fill="none" stroke="#ffffff" stroke-width="1.5" stroke-linecap="round" opacity="0.85"/>
<path d="M430.0 41.0C431.7 41.3 437.0 41.9 440.0 43.0C443.0 44.1 445.3 46.5 448.0 47.5C450.7 48.5 454.7 48.8 456.0 49.0" fill="none" stroke="#ffffff" stroke-width="1.5" stroke-linecap="round" opacity="0.85"/>
<path d="M462.0 53.5C463.3 54.1 467.5 55.6 470.0 57.0C472.5 58.4 475.8 61.2 477.0 62.0" fill="none" stroke="#ffffff" stroke-width="1.5" stroke-linecap="round" opacity="0.85"/>
<path d="M508.0 84.0C509.0 85.0 512.2 87.8 514.0 90.0C515.8 92.2 518.2 95.8 519.0 97.0" fill="none" stroke="#ffffff" stroke-width="1.5" stroke-linecap="round" opacity="0.85"/>
<path d="M546.0 128.0C547.2 129.0 550.8 131.8 553.0 134.0C555.2 136.2 558.0 139.8 559.0 141.0" fill="none" stroke="#ffffff" stroke-width="1.5" stroke-linecap="round" opacity="0.85"/>
<path d="M578.0 158.0C578.8 159.5 581.5 164.0 583.0 167.0C584.5 170.0 586.1 173.0 587.0 176.0C587.9 179.0 588.2 183.5 588.5 185.0" fill="none" stroke="#ffffff" stroke-width="1.5" stroke-linecap="round" opacity="0.85"/>
<path d="M591.5 196.0C591.8 197.8 593.1 203.3 593.5 207.0C593.9 210.7 593.9 216.2 594.0 218.0" fill="none" stroke="#ffffff" stroke-width="1.5" stroke-linecap="round" opacity="0.85"/>
<path d="M146.0 226.0C146.2 227.3 147.5 231.5 147.5 234.0C147.5 236.5 145.9 238.5 146.0 241.0C146.1 243.5 147.8 246.3 148.0 249.0C148.2 251.7 147.6 255.7 147.5 257.0" fill="none" stroke="#ffffff" stroke-width="1.5" stroke-linecap="round" opacity="0.85"/>
<path d="M151.0 262.0C151.5 263.3 152.8 267.7 154.0 270.0C155.2 272.3 157.3 275.0 158.0 276.0" fill="none" stroke="#ffffff" stroke-width="1.5" stroke-linecap="round" opacity="0.85"/>
<path d="M205.0 306.0C206.8 306.4 212.2 308.2 216.0 308.5C219.8 308.8 224.3 307.8 228.0 308.0C231.7 308.2 236.3 309.2 238.0 309.5" fill="none" stroke="#ffffff" stroke-width="1.5" stroke-linecap="round" opacity="0.85"/>
<path d="M244.0 309.0C245.3 308.8 249.0 307.9 252.0 307.5C255.0 307.1 260.3 306.7 262.0 306.5" fill="none" stroke="#ffffff" stroke-width="1.5" stroke-linecap="round" opacity="0.85"/>
<path d="M174.5 134.5C174.7 134.1 175.1 132.8 175.5 132.0C175.9 131.2 176.8 129.9 177.0 129.5" fill="none" stroke="#ffffff" stroke-width="1.5" stroke-linecap="round" opacity="0.85"/>
<path d="M446.0 253.5C447.7 253.8 452.7 254.3 456.0 255.0C459.3 255.7 462.3 257.0 466.0 257.5C469.7 258.0 476.0 257.9 478.0 258.0" fill="none" stroke="#ffffff" stroke-width="1.5" stroke-linecap="round" opacity="0.85"/>
<path d="M541.0 276.0C543.0 276.8 549.5 278.7 553.0 281.0C556.5 283.3 559.7 286.7 562.0 290.0C564.3 293.3 566.2 299.2 567.0 301.0" fill="none" stroke="#ffffff" stroke-width="1.5" stroke-linecap="round" opacity="0.85"/>
<path d="M563.0 318.0C562.7 319.7 562.2 324.8 561.0 328.0C559.8 331.2 556.8 335.5 556.0 337.0" fill="none" stroke="#ffffff" stroke-width="1.5" stroke-linecap="round" opacity="0.85"/>
<path d="M510.0 368.0C511.7 367.4 516.7 365.8 520.0 364.5C523.3 363.2 528.3 360.8 530.0 360.0" fill="none" stroke="#ffffff" stroke-width="1.5" stroke-linecap="round" opacity="0.85"/>
<path d="M377.0 338.0C377.7 339.3 379.5 343.5 381.0 346.0C382.5 348.5 385.2 351.8 386.0 353.0" fill="none" stroke="#ffffff" stroke-width="1.5" stroke-linecap="round" opacity="0.85"/>
<path d="M398.0 372.0C398.7 373.3 400.7 377.5 402.0 380.0C403.3 382.5 405.3 385.8 406.0 387.0" fill="none" stroke="#ffffff" stroke-width="1.5" stroke-linecap="round" opacity="0.85"/>
<path d="M487.0 388.0C487.2 389.7 487.6 394.7 488.0 398.0C488.4 401.3 489.2 406.3 489.5 408.0" fill="none" stroke="#ffffff" stroke-width="1.5" stroke-linecap="round" opacity="0.85"/>
<path d="M436.0 452.0C436.7 453.5 438.8 458.3 440.0 461.0C441.2 463.7 442.5 466.8 443.0 468.0" fill="none" stroke="#ffffff" stroke-width="1.5" stroke-linecap="round" opacity="0.85"/>
<path d="M497.0 452.0C497.3 453.7 498.2 458.8 499.0 462.0C499.8 465.2 501.5 469.5 502.0 471.0" fill="none" stroke="#ffffff" stroke-width="1.5" stroke-linecap="round" opacity="0.85"/>
<path d="M300.0 41.0C305.0 40.3 320.0 37.9 330.0 37.0C340.0 36.1 355.0 35.8 360.0 35.5" fill="none" stroke="#d5dbf2" stroke-width="2.2" stroke-linecap="round" opacity="0.8"/>
<path d="M470.0 62.0C473.7 64.3 485.7 71.0 492.0 76.0C498.3 81.0 505.3 89.3 508.0 92.0" fill="none" stroke="#d5dbf2" stroke-width="2.2" stroke-linecap="round" opacity="0.8"/>
<path d="M560.0 145.0C562.5 148.0 571.0 156.8 575.0 163.0C579.0 169.2 582.5 178.8 584.0 182.0" fill="none" stroke="#d5dbf2" stroke-width="2.2" stroke-linecap="round" opacity="0.8"/>
<path d="M170.0 292.0C173.3 293.5 183.0 298.7 190.0 301.0C197.0 303.3 208.3 305.2 212.0 306.0" fill="none" stroke="#d5dbf2" stroke-width="2.2" stroke-linecap="round" opacity="0.8"/>
<path d="M450.0 262.0C455.0 262.7 469.2 264.5 480.0 266.0C490.8 267.5 504.2 268.8 515.0 271.0C525.8 273.2 540.0 277.7 545.0 279.0" fill="none" stroke="#d5dbf2" stroke-width="2.2" stroke-linecap="round" opacity="0.8"/>
<defs><linearGradient id="ccg" gradientUnits="userSpaceOnUse" x1="236" y1="0" x2="440" y2="0"><stop offset="0" stop-color="#f2eadd"/><stop offset="0.25" stop-color="#ece8e1"/><stop offset="1" stop-color="#e6e5e3"/></linearGradient><linearGradient id="ovg" gradientUnits="userSpaceOnUse" x1="256" y1="0" x2="500" y2="0"><stop offset="0" stop-color="#868a8e" stop-opacity="0.24"/><stop offset="0.55" stop-color="#80858a" stop-opacity="0.33"/><stop offset="1" stop-color="#7b8187" stop-opacity="0.42"/></linearGradient><linearGradient id="lvg" gradientUnits="userSpaceOnUse" x1="272" y1="0" x2="345" y2="0"><stop offset="0" stop-color="#a3aedb"/><stop offset="1" stop-color="#bfc1d6"/></linearGradient></defs>
<path d="M256.0 212.0C256.3 208.6 256.5 205.1 258.8 201.7C261.1 198.3 265.2 194.7 270.0 191.6C274.8 188.5 281.0 185.6 287.5 183.0C294.0 180.4 301.8 178.1 309.0 176.0C316.2 173.9 324.5 172.5 330.7 170.5C336.9 168.5 340.8 165.9 346.0 164.0C351.2 162.1 356.3 160.2 362.0 159.0C367.7 157.8 372.8 156.2 380.0 156.7C387.2 157.1 396.7 159.2 405.0 161.7C413.3 164.2 422.5 167.5 430.0 171.7C437.5 175.9 443.1 181.7 450.0 186.7C456.9 191.7 463.9 197.0 471.7 201.7C479.5 206.4 488.6 211.3 496.7 215.0C504.8 218.7 513.1 221.7 520.0 224.0C526.9 226.3 539.3 228.6 538.0 229.0C536.7 229.4 520.5 227.5 512.0 226.5C503.4 225.5 493.2 222.8 486.7 223.0C480.2 223.2 476.9 226.3 473.0 228.0C469.1 229.7 466.8 231.0 463.0 233.0C459.2 235.0 453.8 237.5 450.0 240.0C446.2 242.5 444.2 247.7 440.0 248.0C435.8 248.3 430.3 246.0 425.0 242.0C419.7 238.0 413.2 228.8 408.0 224.0C402.8 219.2 399.0 216.3 394.0 213.0C389.0 209.7 384.0 206.2 378.0 204.0C372.0 201.8 363.5 200.2 358.0 200.0C352.5 199.8 348.7 201.3 345.0 203.0C341.3 204.7 338.0 206.8 336.0 210.0C334.0 213.2 334.0 218.0 333.0 222.0C332.0 226.0 334.2 232.1 330.0 234.0C325.8 235.9 315.5 233.8 308.0 233.5C300.5 233.2 292.0 233.2 285.0 232.5C278.0 231.8 270.7 230.8 266.0 229.0C261.3 227.2 258.7 224.8 257.0 222.0C255.3 219.2 255.7 215.4 256.0 212.0Z" fill="url(#ovg)"/>
<clipPath id="ccclip"><path d="M236.0 209.0C236.3 207.8 236.3 204.4 238.0 202.0C239.7 199.6 241.3 197.9 246.0 194.5C250.7 191.1 259.1 185.2 266.0 181.6C272.9 178.0 280.3 175.3 287.5 173.0C294.7 170.7 300.2 168.9 309.0 167.5C317.8 166.1 331.5 164.8 340.0 164.5C348.5 164.2 353.3 164.4 360.0 165.5C366.7 166.6 373.8 169.0 380.0 171.0C386.2 173.0 391.5 174.3 397.0 177.5C402.5 180.7 408.0 185.9 413.0 190.0C418.0 194.1 423.0 197.5 427.0 202.0C431.0 206.5 434.8 211.8 437.0 217.0C439.2 222.2 440.2 228.2 440.0 233.0C439.8 237.8 436.7 243.8 436.0 246.0L424.0 240.0C421.3 237.2 413.0 227.7 408.0 223.0C403.0 218.3 399.0 215.3 394.0 212.0C389.0 208.7 383.9 205.2 378.0 203.0C372.1 200.8 364.0 199.2 358.6 199.0C353.2 198.8 349.4 200.3 345.6 202.0C341.8 203.7 338.1 205.7 336.0 209.0C333.9 212.3 333.7 216.8 333.0 222.0C332.3 227.2 333.8 236.5 332.0 240.0C330.2 243.5 325.3 243.8 322.0 243.0C318.7 242.2 315.7 236.4 312.0 235.0C308.3 233.6 305.3 234.8 300.0 234.5C294.7 234.2 286.4 233.9 280.0 233.5C273.6 233.1 266.3 233.0 261.6 232.0C256.9 231.0 254.9 229.5 251.6 227.6C248.2 225.7 243.2 221.6 241.5 220.4Z"/></clipPath>
<path d="M236.0 209.0C236.3 207.8 236.3 204.4 238.0 202.0C239.7 199.6 241.3 197.9 246.0 194.5C250.7 191.1 259.1 185.2 266.0 181.6C272.9 178.0 280.3 175.3 287.5 173.0C294.7 170.7 300.2 168.9 309.0 167.5C317.8 166.1 331.5 164.8 340.0 164.5C348.5 164.2 353.3 164.4 360.0 165.5C366.7 166.6 373.8 169.0 380.0 171.0C386.2 173.0 391.5 174.3 397.0 177.5C402.5 180.7 408.0 185.9 413.0 190.0C418.0 194.1 423.0 197.5 427.0 202.0C431.0 206.5 434.8 211.8 437.0 217.0C439.2 222.2 440.2 228.2 440.0 233.0C439.8 237.8 436.7 243.8 436.0 246.0L424.0 240.0C421.3 237.2 413.0 227.7 408.0 223.0C403.0 218.3 399.0 215.3 394.0 212.0C389.0 208.7 383.9 205.2 378.0 203.0C372.1 200.8 364.0 199.2 358.6 199.0C353.2 198.8 349.4 200.3 345.6 202.0C341.8 203.7 338.1 205.7 336.0 209.0C333.9 212.3 333.7 216.8 333.0 222.0C332.3 227.2 333.8 236.5 332.0 240.0C330.2 243.5 325.3 243.8 322.0 243.0C318.7 242.2 315.7 236.4 312.0 235.0C308.3 233.6 305.3 234.8 300.0 234.5C294.7 234.2 286.4 233.9 280.0 233.5C273.6 233.1 266.3 233.0 261.6 232.0C256.9 231.0 254.9 229.5 251.6 227.6C248.2 225.7 243.2 221.6 241.5 220.4Z" fill="url(#ccg)"/>
<path d="M271.7 213.0C271.7 210.6 270.8 208.6 273.0 206.0C275.2 203.4 279.9 200.3 284.7 197.4C289.5 194.5 296.8 190.9 302.0 188.8C307.2 186.7 310.5 185.7 316.0 185.0C321.5 184.3 329.0 184.0 335.0 184.5C341.0 185.0 351.2 187.1 352.0 188.0C352.8 188.9 344.0 188.7 340.0 190.0C336.0 191.3 331.3 193.0 328.0 196.0C324.7 199.0 321.8 203.7 320.0 208.0C318.2 212.3 317.3 217.8 317.0 222.0C316.7 226.2 319.5 231.1 318.0 233.0C316.5 234.9 311.9 233.7 308.0 233.5C304.1 233.3 299.1 232.8 294.7 231.8C290.3 230.8 285.4 229.5 281.8 227.6C278.2 225.7 274.7 222.8 273.0 220.4C271.3 218.0 271.7 215.4 271.7 213.0Z" fill="url(#lvg)"/>
<g clip-path="url(#ccclip)"><path d="M256.0 212.0C256.3 208.6 256.5 205.1 258.8 201.7C261.1 198.3 265.2 194.7 270.0 191.6C274.8 188.5 281.0 185.6 287.5 183.0C294.0 180.4 301.8 178.1 309.0 176.0C316.2 173.9 324.5 172.5 330.7 170.5C336.9 168.5 340.8 165.9 346.0 164.0C351.2 162.1 356.3 160.2 362.0 159.0C367.7 157.8 372.8 156.2 380.0 156.7C387.2 157.1 396.7 159.2 405.0 161.7C413.3 164.2 422.5 167.5 430.0 171.7C437.5 175.9 443.1 181.7 450.0 186.7C456.9 191.7 463.9 197.0 471.7 201.7C479.5 206.4 488.6 211.3 496.7 215.0C504.8 218.7 513.1 221.7 520.0 224.0C526.9 226.3 539.3 228.6 538.0 229.0C536.7 229.4 520.5 227.5 512.0 226.5C503.4 225.5 493.2 222.8 486.7 223.0C480.2 223.2 476.9 226.3 473.0 228.0C469.1 229.7 466.8 231.0 463.0 233.0C459.2 235.0 453.8 237.5 450.0 240.0C446.2 242.5 444.2 247.7 440.0 248.0C435.8 248.3 430.3 246.0 425.0 242.0C419.7 238.0 413.2 228.8 408.0 224.0C402.8 219.2 399.0 216.3 394.0 213.0C389.0 209.7 384.0 206.2 378.0 204.0C372.0 201.8 363.5 200.2 358.0 200.0C352.5 199.8 348.7 201.3 345.0 203.0C341.3 204.7 338.0 206.8 336.0 210.0C334.0 213.2 334.0 218.0 333.0 222.0C332.0 226.0 334.2 232.1 330.0 234.0C325.8 235.9 315.5 233.8 308.0 233.5C300.5 233.2 292.0 233.2 285.0 232.5C278.0 231.8 270.7 230.8 266.0 229.0C261.3 227.2 258.7 224.8 257.0 222.0C255.3 219.2 255.7 215.4 256.0 212.0Z" fill="#8a8a8a" stroke="none" opacity="0.16"/></g>
<path d="M352.0 188.0C355.0 187.8 364.5 186.3 370.0 187.0C375.5 187.7 380.0 189.2 385.0 192.0C390.0 194.8 395.5 199.3 400.0 204.0C404.5 208.7 408.7 214.7 412.0 220.0C415.3 225.3 418.7 233.3 420.0 236.0" fill="none" stroke="#cfcbc6" stroke-width="1.2" opacity="0.8"/>
<path d="M320.0 228.0C320.8 224.2 331.2 224.7 334.0 222.0C336.8 219.3 335.0 214.7 337.0 212.0C339.0 209.3 341.3 207.0 346.0 206.0C350.7 205.0 358.6 205.0 365.0 206.0C371.4 207.0 378.8 209.7 384.6 212.0C390.4 214.3 395.4 216.7 400.0 220.0C404.6 223.3 411.3 228.7 412.0 232.0C412.7 235.3 407.7 237.5 404.0 240.0C400.3 242.5 394.4 245.3 390.0 247.0C385.6 248.7 381.7 249.1 377.5 250.0C373.3 250.9 369.2 250.8 365.0 252.5C360.8 254.2 356.2 256.6 352.5 260.0C348.8 263.4 345.6 270.8 343.0 273.0C340.4 275.2 338.2 274.8 337.0 273.0C335.8 271.2 337.3 266.7 336.0 262.0C334.7 257.3 331.7 250.7 329.0 245.0C326.3 239.3 319.2 231.8 320.0 228.0Z" fill="#cfccd4"/>
<path d="M313.0 236.0C312.3 238.5 316.4 243.3 318.0 247.0C319.6 250.7 321.7 254.2 322.5 258.0C323.3 261.8 323.2 265.8 323.0 270.0C322.8 274.2 320.8 280.3 321.5 283.0C322.2 285.7 324.6 286.7 327.0 286.0C329.4 285.3 332.8 281.5 336.0 279.0C339.2 276.5 343.3 273.8 346.0 271.0C348.7 268.2 352.2 265.5 352.0 262.0C351.8 258.5 347.8 253.7 345.0 250.0C342.2 246.3 338.8 243.0 335.0 240.0C331.2 237.0 325.7 232.7 322.0 232.0C318.3 231.3 313.7 233.5 313.0 236.0Z" fill="#cfccd4"/>
<g fill="#b9806a"><circle cx="344.0" cy="187.9" r="3.1"/><circle cx="341.6" cy="188.2" r="3.5"/><circle cx="338.2" cy="189.1" r="2.8"/><circle cx="334.2" cy="190.3" r="3.1"/><circle cx="329.5" cy="191.7" r="3.7"/><circle cx="326.1" cy="193.4" r="3.0"/><circle cx="323.3" cy="194.8" r="3.4"/><circle cx="320.5" cy="196.6" r="2.9"/><circle cx="317.2" cy="199.0" r="3.1"/><circle cx="315.7" cy="201.3" r="3.3"/><circle cx="313.9" cy="203.3" r="3.6"/><circle cx="311.8" cy="206.7" r="3.7"/><circle cx="310.1" cy="209.1" r="3.8"/><circle cx="309.9" cy="212.7" r="3.0"/><circle cx="308.6" cy="216.0" r="3.5"/><circle cx="308.4" cy="219.1" r="3.2"/><circle cx="309.3" cy="222.1" r="3.4"/><circle cx="310.2" cy="225.3" r="3.8"/><circle cx="310.7" cy="227.9" r="3.5"/><circle cx="312.6" cy="229.9" r="3.9"/></g>
<g fill="#c79480"><circle cx="339.7" cy="189.3" r="1.8"/><circle cx="336.5" cy="189.7" r="1.7"/><circle cx="334.2" cy="190.7" r="1.9"/><circle cx="330.3" cy="192.0" r="1.8"/><circle cx="327.6" cy="194.1" r="1.4"/><circle cx="324.9" cy="194.8" r="1.2"/><circle cx="322.1" cy="197.4" r="1.8"/><circle cx="319.9" cy="199.4" r="2.0"/><circle cx="317.3" cy="201.0" r="1.4"/><circle cx="314.7" cy="204.3" r="1.2"/><circle cx="313.2" cy="206.6" r="1.7"/><circle cx="312.2" cy="210.6" r="1.9"/><circle cx="311.3" cy="213.2" r="1.9"/><circle cx="310.9" cy="216.4" r="1.6"/><circle cx="310.7" cy="220.7" r="1.6"/><circle cx="311.4" cy="224.0" r="1.6"/><circle cx="312.8" cy="227.4" r="1.4"/></g>
<path d="M317.0 233.0C317.4 229.6 316.9 219.0 319.5 212.5C322.1 206.0 327.1 197.9 332.5 194.0C337.9 190.1 345.5 189.2 352.0 189.0C358.5 188.8 365.5 190.8 371.6 193.0C377.7 195.2 383.8 199.0 388.5 202.0C393.2 205.0 398.1 209.5 400.0 211.0L394.0 211.5C390.8 209.9 381.3 204.4 375.0 202.0C368.7 199.6 361.3 197.2 356.0 197.0C350.7 196.8 346.7 198.8 343.0 201.0C339.3 203.2 335.7 206.2 334.0 210.0C332.3 213.8 332.8 219.3 333.0 224.0C333.2 228.7 334.2 233.8 335.0 238.0C335.8 242.2 337.5 245.7 338.0 249.0C338.5 252.3 339.2 257.8 338.0 258.0C336.8 258.2 333.5 252.8 331.0 250.0C328.5 247.2 324.3 242.5 323.0 241.0Z" fill="#f3efe8"/>
<path d="M311.0 235.0C312.0 236.8 315.1 242.2 317.0 246.0C318.9 249.8 321.6 254.0 322.5 258.0C323.4 262.0 322.9 266.0 322.5 270.0C322.1 274.0 320.4 280.0 320.0 282.0" fill="none" stroke="#efe4d2" stroke-width="2.2" stroke-linecap="round"/>
<path d="M300.0 238.0C301.0 239.8 304.7 245.0 306.0 249.0C307.3 253.0 308.2 257.7 308.0 262.0C307.8 266.3 305.5 272.8 305.0 275.0" fill="none" stroke="#e9d5bd" stroke-width="1.6" stroke-linecap="round" opacity="0.8"/>
<g fill="#b9806a"><circle cx="333.0" cy="221.5" r="2.8"/><circle cx="333.3" cy="218.4" r="2.7"/><circle cx="333.5" cy="215.5" r="2.9"/><circle cx="333.7" cy="213.1" r="2.9"/><circle cx="334.6" cy="210.4" r="2.7"/><circle cx="335.3" cy="208.2" r="2.3"/><circle cx="337.2" cy="206.1" r="3.3"/><circle cx="339.4" cy="204.4" r="2.9"/><circle cx="341.8" cy="203.1" r="2.6"/><circle cx="344.3" cy="202.0" r="2.6"/><circle cx="346.8" cy="200.9" r="2.3"/><circle cx="348.8" cy="200.0" r="2.6"/><circle cx="351.2" cy="198.8" r="2.5"/><circle cx="353.8" cy="198.1" r="3.0"/><circle cx="357.4" cy="197.9" r="2.6"/><circle cx="360.0" cy="197.9" r="3.2"/><circle cx="364.4" cy="198.5" r="3.0"/><circle cx="367.7" cy="199.3" r="2.5"/><circle cx="372.5" cy="200.6" r="2.5"/><circle cx="375.9" cy="201.7" r="2.5"/><circle cx="380.1" cy="202.5" r="2.9"/><circle cx="382.9" cy="204.4" r="2.4"/><circle cx="386.2" cy="205.7" r="2.6"/><circle cx="389.4" cy="208.0" r="2.7"/><circle cx="392.0" cy="210.0" r="2.5"/><circle cx="396.0" cy="211.4" r="3.2"/><circle cx="398.9" cy="213.3" r="3.3"/><circle cx="401.7" cy="216.0" r="3.0"/><circle cx="403.9" cy="217.9" r="2.8"/><circle cx="406.3" cy="220.5" r="2.5"/><circle cx="409.5" cy="222.2" r="2.6"/><circle cx="411.8" cy="225.7" r="3.2"/><circle cx="414.3" cy="228.0" r="3.2"/><circle cx="416.1" cy="230.1" r="2.3"/><circle cx="417.6" cy="232.3" r="2.6"/></g>
<g fill="#c79480"><circle cx="336.4" cy="208.1" r="1.2"/><circle cx="338.9" cy="206.1" r="1.2"/><circle cx="342.8" cy="203.3" r="1.3"/><circle cx="346.0" cy="201.8" r="1.1"/><circle cx="349.7" cy="200.5" r="1.1"/><circle cx="353.3" cy="198.4" r="1.5"/><circle cx="357.4" cy="197.8" r="1.4"/><circle cx="361.9" cy="198.5" r="1.2"/><circle cx="366.0" cy="199.3" r="1.3"/><circle cx="369.7" cy="199.4" r="1.0"/><circle cx="373.8" cy="201.3" r="1.1"/><circle cx="377.6" cy="202.0" r="1.5"/><circle cx="381.5" cy="203.4" r="1.2"/><circle cx="385.5" cy="205.3" r="1.4"/><circle cx="388.7" cy="207.1" r="1.1"/><circle cx="393.3" cy="209.9" r="1.3"/></g>
<path d="M337.8 212.5C338.7 211.6 340.6 208.2 343.0 207.0C345.4 205.8 348.3 205.4 352.0 205.0C355.7 204.6 359.6 203.7 365.0 204.7C370.4 205.7 378.8 208.6 384.6 211.0C390.4 213.4 395.9 216.2 400.0 219.0C404.1 221.8 405.3 224.6 409.0 228.0C412.7 231.4 418.1 236.2 422.0 239.7C425.9 243.2 429.0 246.9 432.5 249.0C436.0 251.1 441.2 251.5 443.0 252.0" fill="none" stroke="#466bb0" stroke-width="2.2" stroke-linecap="round"/>
<path d="M428.0 200.0C429.3 202.2 434.1 208.3 436.0 213.0C437.9 217.7 439.4 223.8 439.5 228.0C439.6 232.2 437.3 235.0 436.4 238.0C435.5 241.0 433.9 243.8 434.0 246.0C434.1 248.2 436.5 250.2 437.0 251.0" fill="none" stroke="#466bb0" stroke-width="2.4" stroke-linecap="round"/>
<ellipse cx="345.5" cy="227.5" rx="7.5" ry="4.5" fill="#efeae4"/>
<path d="M398.0 244.0C399.3 240.3 404.7 240.7 408.0 240.0C411.3 239.3 414.3 239.0 418.0 240.0C421.7 241.0 425.5 244.5 430.0 246.0C434.5 247.5 438.3 248.0 445.0 249.0C451.7 250.0 465.8 249.5 470.0 252.0C474.2 254.5 475.0 262.2 470.0 264.0C465.0 265.8 448.3 260.3 440.0 263.0C431.7 265.7 426.7 280.2 420.0 280.0C413.3 279.8 403.7 268.0 400.0 262.0C396.3 256.0 396.7 247.7 398.0 244.0Z" fill="#b1bae2"/>
<path d="M437.0 248.3C440.0 248.7 449.5 250.0 455.0 250.8C460.5 251.6 465.5 252.3 470.0 252.9C474.5 253.5 480.0 254.3 482.0 254.6" fill="none" stroke="#f4f1ea" stroke-width="1.6"/>
<path d="M437.0 251.7C440.0 252.1 449.5 253.4 455.0 254.2C460.5 255.0 465.5 255.7 470.0 256.3C474.5 256.9 480.0 257.7 482.0 258.0" fill="none" stroke="#466bb0" stroke-width="3.6"/>
<path d="M437.0 255.3C440.0 255.7 449.5 257.0 455.0 257.8C460.5 258.6 465.5 259.3 470.0 259.9C474.5 260.5 480.0 261.3 482.0 261.6" fill="none" stroke="#ddd5c3" stroke-width="3.4"/>
<path d="M437.0 257.9C440.0 258.3 449.5 259.6 455.0 260.4C460.5 261.2 465.5 261.9 470.0 262.5C474.5 263.1 480.0 263.9 482.0 264.2" fill="none" stroke="#ffffff" stroke-width="1.5"/>
<path d="M400.0 219.0C401.5 220.5 405.3 224.6 409.0 228.0C412.7 231.4 418.1 236.2 422.0 239.7C425.9 243.2 429.0 246.9 432.5 249.0C436.0 251.1 441.2 251.5 443.0 252.0" fill="none" stroke="#466bb0" stroke-width="2.2" stroke-linecap="round"/>
<path d="M439.5 228.0C439.0 229.7 437.3 235.0 436.4 238.0C435.5 241.0 433.9 243.8 434.0 246.0C434.1 248.2 436.5 250.2 437.0 251.0" fill="none" stroke="#466bb0" stroke-width="2.4" stroke-linecap="round"/>
<path d="M350.0 268.0C354.7 266.3 364.3 264.7 368.0 270.0C371.7 275.3 373.7 294.5 372.0 300.0C370.3 305.5 361.3 303.2 358.0 303.0C354.7 302.8 355.7 298.9 352.0 298.5C348.3 298.1 341.0 299.8 336.0 300.5C331.0 301.2 325.0 302.9 322.0 302.5C319.0 302.1 316.7 300.1 318.0 298.0C319.3 295.9 326.3 293.0 330.0 290.0C333.7 287.0 336.7 283.7 340.0 280.0C343.3 276.3 345.3 269.7 350.0 268.0Z" fill="#b1bae2"/>
<path d="M399.0 244.0C399.0 241.2 403.5 238.0 406.0 238.5C408.5 239.0 411.0 243.7 414.0 247.0C417.0 250.3 421.2 254.5 424.0 258.5C426.8 262.5 429.2 266.4 431.0 271.0C432.8 275.6 433.4 281.7 434.5 286.0C435.6 290.3 437.6 294.3 437.5 297.0C437.4 299.7 435.2 302.5 434.0 302.0C432.8 301.5 431.8 297.7 430.0 294.0C428.2 290.3 425.8 284.4 423.5 280.0C421.2 275.6 418.9 271.9 416.0 267.8C413.1 263.6 408.8 259.0 406.0 255.0C403.2 251.0 399.0 246.8 399.0 244.0Z" fill="#f7f2e8" stroke="#eadcc6" stroke-width="1.3"/>
<path d="M393.0 247.0C393.1 246.0 392.2 242.6 393.5 241.0C394.8 239.4 398.1 237.8 401.0 237.5C403.9 237.2 408.6 237.8 411.0 239.0C413.4 240.2 414.8 243.6 415.5 244.5" fill="none" stroke="#f3ead9" stroke-width="3" stroke-linecap="round"/>
<path d="M399.0 245.0C399.8 244.5 402.0 242.3 404.0 242.0C406.0 241.7 409.3 242.2 411.0 243.0C412.7 243.8 413.5 245.9 414.0 246.5" fill="none" stroke="#9fb0dd" stroke-width="3" stroke-linecap="round"/>
<path d="M433.0 292.0C433.7 293.0 434.8 295.6 437.0 298.0C439.2 300.4 444.0 304.0 446.5 306.5C449.0 309.0 451.1 311.9 452.0 313.0" fill="none" stroke="#f1e8d8" stroke-width="1.6"/>
<path d="M397.0 243.0C399.7 244.8 402.8 250.9 406.0 255.0C409.2 259.1 413.1 263.6 416.0 267.8C418.9 271.9 421.2 275.6 423.5 280.0C425.8 284.4 427.7 290.7 430.0 294.0C432.3 297.3 434.8 297.8 437.5 300.0C440.2 302.2 443.6 304.5 446.5 307.5C449.4 310.5 452.9 315.2 455.0 318.0C457.1 320.8 459.2 321.3 459.0 324.0C458.8 326.7 454.7 330.0 454.0 334.0C453.3 338.0 454.2 343.3 455.0 348.0C455.8 352.7 457.7 356.7 459.0 362.0C460.3 367.3 461.5 373.2 463.0 380.0C464.5 386.8 466.1 395.5 468.0 402.5C469.9 409.5 471.2 409.8 474.5 422.0C477.8 434.2 484.4 462.0 488.0 476.0C491.6 490.0 495.7 501.0 496.0 506.0C496.3 511.0 492.0 511.0 490.0 506.0C488.0 501.0 488.0 490.0 484.0 476.0C480.0 462.0 470.0 434.2 466.0 422.0C462.0 409.8 461.7 408.6 460.0 402.5C458.3 396.4 457.8 391.9 456.0 385.5C454.2 379.1 451.7 372.1 449.0 364.0C446.3 355.9 443.0 346.0 440.0 337.0C437.0 328.0 433.7 316.8 431.0 310.0C428.3 303.2 426.3 300.3 424.0 296.0C421.7 291.7 419.7 288.2 417.0 284.0C414.3 279.8 411.0 275.0 408.0 271.0C405.0 267.0 401.7 263.5 399.0 260.0C396.3 256.5 393.5 252.7 392.0 250.0C390.5 247.3 389.2 245.2 390.0 244.0C390.8 242.8 394.3 241.2 397.0 243.0Z" fill="#bcc0dc"/>
<path d="M350.0 263.0C351.0 262.2 353.5 260.1 356.0 258.5C358.5 256.9 361.2 254.9 364.8 253.5C368.2 252.1 373.3 250.3 377.0 250.0C380.7 249.7 384.0 250.4 387.0 251.5C390.0 252.6 392.2 254.4 394.8 256.5C397.2 258.6 399.3 261.3 402.0 264.0C404.7 266.7 408.4 269.8 411.0 272.8C413.6 275.8 415.3 278.5 417.5 282.0C419.7 285.5 421.8 289.7 424.0 294.0C426.2 298.3 428.2 300.8 431.0 308.0C433.8 315.2 437.5 327.7 440.5 337.0C443.5 346.3 446.4 355.9 449.0 364.0C451.6 372.1 454.2 379.1 456.0 385.5C457.8 391.9 458.3 396.4 460.0 402.5C461.7 408.6 462.0 409.8 466.0 422.0C470.0 434.2 479.7 462.0 484.0 476.0C488.3 490.0 490.7 501.0 492.0 506.0L457.0 506.0C455.5 501.0 453.2 493.0 448.0 476.0C442.8 459.0 430.8 418.3 425.6 404.0C420.4 389.7 419.8 394.4 417.0 390.0C414.2 385.6 411.5 382.3 409.0 377.5C406.5 372.7 404.8 365.6 402.0 361.0C399.2 356.4 395.3 353.7 392.0 350.0C388.7 346.3 384.8 342.2 382.0 339.0C379.2 335.8 377.1 334.7 375.0 331.0C372.9 327.3 370.6 323.3 369.5 317.0C368.4 310.7 368.8 300.3 368.5 293.0C368.2 285.7 369.2 277.3 368.0 273.0C366.8 268.7 363.7 268.2 361.0 267.0C358.3 265.8 353.5 266.2 352.0 266.0Z" fill="#f8f4ec" stroke="#eee2cf" stroke-width="1.8" stroke-linejoin="round"/>
<path d="M351.0 263.0C350.7 261.6 355.2 258.9 358.0 257.5C360.8 256.1 366.7 253.8 368.0 254.5C369.3 255.2 365.7 258.8 366.0 262.0C366.3 265.2 370.0 272.7 370.0 274.0C370.0 275.3 367.7 271.3 366.0 270.0C364.3 268.7 362.5 267.2 360.0 266.0C357.5 264.8 351.3 264.4 351.0 263.0Z" fill="#f0dfc8" stroke="none" opacity="0.8"/>
<path d="M456.0 352.0C456.5 352.3 460.2 360.7 462.0 366.0C463.8 371.3 464.8 377.9 467.0 384.0C469.2 390.1 472.5 396.2 475.0 402.5C477.5 408.8 478.8 409.8 482.0 422.0C485.2 434.2 490.7 462.0 494.0 476.0C497.3 490.0 501.7 501.0 502.0 506.0C502.3 511.0 498.3 511.0 496.0 506.0C493.7 501.0 491.6 490.0 488.0 476.0C484.4 462.0 477.8 434.2 474.5 422.0C471.2 409.8 469.9 409.5 468.0 402.5C466.1 395.5 464.5 386.4 463.0 380.0C461.5 373.6 460.2 368.7 459.0 364.0C457.8 359.3 455.5 351.7 456.0 352.0Z" fill="#f3ecdf"/>
<path d="M388.0 345.0C388.5 343.5 393.3 342.3 396.0 343.0C398.7 343.7 402.2 346.7 404.0 349.0C405.8 351.3 407.5 355.5 407.0 357.0C406.5 358.5 403.3 358.8 401.0 358.0C398.7 357.2 395.2 354.2 393.0 352.0C390.8 349.8 387.5 346.5 388.0 345.0Z" fill="#a0a9d6"/>
<g fill="#b9806a"><circle cx="457.7" cy="322.9" r="2.7"/><circle cx="457.3" cy="325.8" r="3.2"/><circle cx="456.2" cy="328.9" r="3.4"/><circle cx="455.5" cy="332.2" r="3.0"/><circle cx="455.5" cy="334.9" r="3.0"/><circle cx="455.5" cy="338.1" r="2.8"/><circle cx="455.8" cy="340.9" r="2.7"/><circle cx="456.9" cy="343.9" r="3.5"/><circle cx="457.6" cy="346.8" r="3.5"/><circle cx="458.0" cy="350.4" r="3.1"/><circle cx="459.7" cy="353.3" r="3.3"/><circle cx="460.6" cy="356.2" r="3.3"/><circle cx="461.4" cy="358.5" r="2.7"/></g>
<g fill="#c79480"><circle cx="457.8" cy="325.5" r="1.1"/><circle cx="456.0" cy="329.8" r="1.1"/><circle cx="455.1" cy="333.4" r="1.1"/><circle cx="455.9" cy="337.1" r="1.1"/><circle cx="456.4" cy="341.1" r="1.5"/><circle cx="456.3" cy="345.2" r="1.5"/><circle cx="458.3" cy="348.7" r="1.3"/><circle cx="459.7" cy="352.0" r="1.4"/></g>
<circle cx="442" cy="318.3" r="3" fill="#9aa3c8"/>
<circle cx="351" cy="264.5" r="5.6" fill="#f6f0e6"/>
<circle cx="345.5" cy="269" r="6.1" fill="#f6f0e6"/>
<circle cx="339" cy="273.5" r="6.1" fill="#f6f0e6"/>
<circle cx="333" cy="278" r="6.1" fill="#f6f0e6"/>
<circle cx="328" cy="283.5" r="6.1" fill="#f6f0e6"/>
<circle cx="324" cy="289.5" r="5.6" fill="#f6f0e6"/>
<circle cx="321.5" cy="294.5" r="4.300000000000001" fill="#f6f0e6"/>
<circle cx="331" cy="291" r="4.9" fill="#f6f0e6"/>
<circle cx="336" cy="285.5" r="4.6" fill="#f6f0e6"/>
<circle cx="343" cy="279" r="4.6" fill="#f6f0e6"/>
<circle cx="349" cy="274" r="4.6" fill="#f6f0e6"/>
<circle cx="351" cy="264.5" r="4.5" fill="#ecdcc6"/>
<circle cx="345.5" cy="269" r="5" fill="#ecdcc6"/>
<circle cx="339" cy="273.5" r="5" fill="#ecdcc6"/>
<circle cx="333" cy="278" r="5" fill="#ecdcc6"/>
<circle cx="328" cy="283.5" r="5" fill="#ecdcc6"/>
<circle cx="324" cy="289.5" r="4.5" fill="#ecdcc6"/>
<circle cx="321.5" cy="294.5" r="3.2" fill="#ecdcc6"/>
<circle cx="331" cy="291" r="3.8" fill="#ecdcc6"/>
<circle cx="336" cy="285.5" r="3.5" fill="#ecdcc6"/>
<circle cx="343" cy="279" r="3.5" fill="#ecdcc6"/>
<circle cx="349" cy="274" r="3.5" fill="#ecdcc6"/>
<path d="M446.6 294.4C447.1 291.8 448.7 288.8 451.4 286.4C454.1 284.0 459.0 281.6 462.6 280.0C466.3 278.3 470.1 277.4 473.5 276.3C476.9 275.3 480.3 274.2 483.1 273.7C485.9 273.3 487.9 274.0 490.3 273.7C492.7 273.4 495.0 272.2 497.5 272.0C500.0 271.8 502.8 272.6 505.2 272.8C507.6 272.9 509.8 272.1 511.9 272.8C514.0 273.4 516.0 275.3 517.6 276.6C519.2 277.9 520.6 278.9 521.5 280.4C522.4 282.0 521.3 284.0 522.9 285.7C524.5 287.4 528.1 289.6 531.1 290.5C534.0 291.4 538.2 289.8 540.7 291.2C543.2 292.6 544.4 296.2 546.0 299.2C547.6 302.1 549.0 305.6 550.3 308.8C551.6 312.0 553.6 315.2 553.6 318.4C553.7 321.6 552.3 324.9 550.8 328.0C549.2 331.0 546.7 333.7 544.5 336.6C542.4 339.5 540.4 342.7 537.8 345.2C535.2 347.8 532.4 350.0 529.2 352.0C526.0 354.0 522.3 355.7 518.6 357.2C514.9 358.8 510.9 360.2 507.1 361.1C503.2 362.0 499.2 362.4 495.6 362.5C491.9 362.6 488.1 362.5 485.0 361.6C481.9 360.6 479.0 358.8 476.8 356.8C474.7 354.7 473.2 352.1 472.0 349.1C470.8 346.0 470.2 341.8 469.6 338.5C469.1 335.3 469.3 333.0 468.7 329.6C468.0 326.2 467.9 321.6 465.8 318.4C463.7 315.2 459.1 313.1 456.2 310.4C453.3 307.7 449.8 304.7 448.2 302.0C446.6 299.4 446.1 297.0 446.6 294.4Z" fill="#f8f3ea"/>
<circle cx="446.6" cy="294.4" r="4.6" fill="#e9d8c2"/>
<circle cx="449.6" cy="288.3" r="4.6" fill="#e9d8c2"/>
<circle cx="455.2" cy="283.7" r="4.6" fill="#e9d8c2"/>
<circle cx="461.2" cy="280.6" r="4.6" fill="#e9d8c2"/>
<circle cx="468.2" cy="277.9" r="4.6" fill="#e9d8c2"/>
<circle cx="474.8" cy="275.9" r="4.6" fill="#e9d8c2"/>
<circle cx="480.9" cy="274.2" r="4.6" fill="#e9d8c2"/>
<circle cx="487.7" cy="273.7" r="4.6" fill="#e9d8c2"/>
<circle cx="493.8" cy="272.8" r="4.6" fill="#e9d8c2"/>
<circle cx="500.4" cy="272.1" r="4.6" fill="#e9d8c2"/>
<circle cx="506.9" cy="272.7" r="4.6" fill="#e9d8c2"/>
<circle cx="513.4" cy="273.4" r="4.6" fill="#e9d8c2"/>
<circle cx="518.8" cy="277.5" r="4.6" fill="#e9d8c2"/>
<circle cx="521.9" cy="283.0" r="4.6" fill="#e9d8c2"/>
<circle cx="526.5" cy="288.4" r="4.6" fill="#e9d8c2"/>
<circle cx="532.2" cy="290.8" r="4.6" fill="#e9d8c2"/>
<circle cx="538.5" cy="290.6" r="4.6" fill="#e9d8c2"/>
<circle cx="543.6" cy="294.6" r="4.6" fill="#e9d8c2"/>
<circle cx="546.6" cy="300.3" r="4.6" fill="#e9d8c2"/>
<circle cx="549.3" cy="306.3" r="4.6" fill="#e9d8c2"/>
<circle cx="551.9" cy="312.4" r="4.6" fill="#e9d8c2"/>
<circle cx="553.6" cy="318.4" r="4.6" fill="#e9d8c2"/>
<circle cx="552.4" cy="324.4" r="4.6" fill="#e9d8c2"/>
<circle cx="549.4" cy="330.2" r="4.6" fill="#e9d8c2"/>
<circle cx="545.3" cy="335.5" r="4.6" fill="#e9d8c2"/>
<circle cx="541.3" cy="341.0" r="4.6" fill="#e9d8c2"/>
<circle cx="536.8" cy="346.2" r="4.6" fill="#e9d8c2"/>
<circle cx="531.5" cy="350.4" r="4.6" fill="#e9d8c2"/>
<circle cx="525.4" cy="354.1" r="4.6" fill="#e9d8c2"/>
<circle cx="518.6" cy="357.2" r="4.6" fill="#e9d8c2"/>
<circle cx="511.4" cy="359.9" r="4.6" fill="#e9d8c2"/>
<circle cx="504.2" cy="361.7" r="4.6" fill="#e9d8c2"/>
<circle cx="497.0" cy="362.5" r="4.6" fill="#e9d8c2"/>
<circle cx="490.1" cy="362.4" r="4.6" fill="#e9d8c2"/>
<circle cx="483.8" cy="361.2" r="4.6" fill="#e9d8c2"/>
<circle cx="477.7" cy="357.5" r="4.6" fill="#e9d8c2"/>
<circle cx="473.5" cy="352.3" r="4.6" fill="#e9d8c2"/>
<circle cx="470.9" cy="345.3" r="4.6" fill="#e9d8c2"/>
<circle cx="469.6" cy="338.5" r="4.6" fill="#e9d8c2"/>
<circle cx="469.0" cy="331.9" r="4.6" fill="#e9d8c2"/>
<circle cx="468.0" cy="325.4" r="4.6" fill="#e9d8c2"/>
<circle cx="465.8" cy="318.4" r="4.6" fill="#e9d8c2"/>
<circle cx="460.0" cy="313.3" r="4.6" fill="#e9d8c2"/>
<circle cx="455.1" cy="309.4" r="4.6" fill="#e9d8c2"/>
<circle cx="449.7" cy="304.1" r="4.6" fill="#e9d8c2"/>
<circle cx="446.6" cy="298.2" r="4.6" fill="#e9d8c2"/>
<circle cx="446.6" cy="294.4" r="3.7" fill="#f9f4eb"/>
<circle cx="449.6" cy="288.3" r="3.7" fill="#f9f4eb"/>
<circle cx="455.2" cy="283.7" r="3.7" fill="#f9f4eb"/>
<circle cx="461.2" cy="280.6" r="3.7" fill="#f9f4eb"/>
<circle cx="468.2" cy="277.9" r="3.7" fill="#f9f4eb"/>
<circle cx="474.8" cy="275.9" r="3.7" fill="#f9f4eb"/>
<circle cx="480.9" cy="274.2" r="3.7" fill="#f9f4eb"/>
<circle cx="487.7" cy="273.7" r="3.7" fill="#f9f4eb"/>
<circle cx="493.8" cy="272.8" r="3.7" fill="#f9f4eb"/>
<circle cx="500.4" cy="272.1" r="3.7" fill="#f9f4eb"/>
<circle cx="506.9" cy="272.7" r="3.7" fill="#f9f4eb"/>
<circle cx="513.4" cy="273.4" r="3.7" fill="#f9f4eb"/>
<circle cx="518.8" cy="277.5" r="3.7" fill="#f9f4eb"/>
<circle cx="521.9" cy="283.0" r="3.7" fill="#f9f4eb"/>
<circle cx="526.5" cy="288.4" r="3.7" fill="#f9f4eb"/>
<circle cx="532.2" cy="290.8" r="3.7" fill="#f9f4eb"/>
<circle cx="538.5" cy="290.6" r="3.7" fill="#f9f4eb"/>
<circle cx="543.6" cy="294.6" r="3.7" fill="#f9f4eb"/>
<circle cx="546.6" cy="300.3" r="3.7" fill="#f9f4eb"/>
<circle cx="549.3" cy="306.3" r="3.7" fill="#f9f4eb"/>
<circle cx="551.9" cy="312.4" r="3.7" fill="#f9f4eb"/>
<circle cx="553.6" cy="318.4" r="3.7" fill="#f9f4eb"/>
<circle cx="552.4" cy="324.4" r="3.7" fill="#f9f4eb"/>
<circle cx="549.4" cy="330.2" r="3.7" fill="#f9f4eb"/>
<circle cx="545.3" cy="335.5" r="3.7" fill="#f9f4eb"/>
<circle cx="541.3" cy="341.0" r="3.7" fill="#f9f4eb"/>
<circle cx="536.8" cy="346.2" r="3.7" fill="#f9f4eb"/>
<circle cx="531.5" cy="350.4" r="3.7" fill="#f9f4eb"/>
<circle cx="525.4" cy="354.1" r="3.7" fill="#f9f4eb"/>
<circle cx="518.6" cy="357.2" r="3.7" fill="#f9f4eb"/>
<circle cx="511.4" cy="359.9" r="3.7" fill="#f9f4eb"/>
<circle cx="504.2" cy="361.7" r="3.7" fill="#f9f4eb"/>
<circle cx="497.0" cy="362.5" r="3.7" fill="#f9f4eb"/>
<circle cx="490.1" cy="362.4" r="3.7" fill="#f9f4eb"/>
<circle cx="483.8" cy="361.2" r="3.7" fill="#f9f4eb"/>
<circle cx="477.7" cy="357.5" r="3.7" fill="#f9f4eb"/>
<circle cx="473.5" cy="352.3" r="3.7" fill="#f9f4eb"/>
<circle cx="470.9" cy="345.3" r="3.7" fill="#f9f4eb"/>
<circle cx="469.6" cy="338.5" r="3.7" fill="#f9f4eb"/>
<circle cx="469.0" cy="331.9" r="3.7" fill="#f9f4eb"/>
<circle cx="468.0" cy="325.4" r="3.7" fill="#f9f4eb"/>
<circle cx="465.8" cy="318.4" r="3.7" fill="#f9f4eb"/>
<circle cx="460.0" cy="313.3" r="3.7" fill="#f9f4eb"/>
<circle cx="455.1" cy="309.4" r="3.7" fill="#f9f4eb"/>
<circle cx="449.7" cy="304.1" r="3.7" fill="#f9f4eb"/>
<circle cx="446.6" cy="298.2" r="3.7" fill="#f9f4eb"/>
<path d="M448.5 295.4C449.0 292.9 450.5 290.1 453.1 287.8C455.6 285.5 460.3 283.3 463.8 281.7C467.2 280.1 470.8 279.2 474.1 278.2C477.3 277.3 480.5 276.2 483.2 275.8C485.8 275.4 487.7 276.1 490.0 275.8C492.3 275.5 494.5 274.3 496.9 274.1C499.2 274.0 501.9 274.8 504.2 274.9C506.4 275.0 508.6 274.3 510.5 274.9C512.5 275.5 514.5 277.3 516.0 278.5C517.5 279.7 518.8 280.7 519.7 282.2C520.5 283.6 519.5 285.6 521.0 287.2C522.5 288.8 526.0 290.9 528.8 291.7C531.6 292.6 535.5 291.0 537.9 292.4C540.3 293.8 541.4 297.2 542.9 300.0C544.4 302.7 545.8 306.0 547.0 309.1C548.2 312.1 550.1 315.2 550.2 318.2C550.3 321.2 548.9 324.4 547.5 327.3C546.0 330.2 543.6 332.8 541.5 335.5C539.5 338.3 537.6 341.3 535.2 343.7C532.7 346.2 530.0 348.2 527.0 350.1C523.9 352.0 520.4 353.7 516.9 355.1C513.4 356.6 509.6 357.9 506.0 358.8C502.3 359.6 498.5 360.1 495.0 360.1C491.5 360.2 488.0 360.1 485.0 359.2C482.0 358.3 479.3 356.6 477.2 354.7C475.2 352.7 473.8 350.3 472.7 347.4C471.5 344.5 470.9 340.4 470.4 337.3C469.9 334.3 470.1 332.1 469.5 328.9C468.9 325.7 468.7 321.2 466.8 318.2C464.8 315.2 460.4 313.2 457.6 310.6C454.9 308.0 451.6 305.2 450.1 302.7C448.6 300.1 448.0 297.9 448.5 295.4Z" fill="#f9f4eb"/>
<path d="M468.3 309.4C468.0 309.3 467.0 309.0 466.4 308.8C465.8 308.6 465.2 308.4 464.5 308.4C463.8 308.3 463.1 308.3 462.4 308.4C461.7 308.5 461.0 308.7 460.3 308.7C459.6 308.8 458.9 308.9 458.3 308.7C457.7 308.5 457.1 308.1 456.5 307.7C456.0 307.2 455.5 306.4 454.9 306.0C454.4 305.5 453.9 304.9 453.3 304.8C452.6 304.6 451.5 304.9 451.1 305.0L450.2 308.8C450.6 308.7 451.7 308.1 452.4 308.1C453.0 308.1 453.6 308.5 454.2 308.9C454.8 309.2 455.4 309.8 456.0 310.1C456.6 310.5 457.2 310.7 457.9 310.7C458.5 310.8 459.2 310.6 459.9 310.4C460.6 310.2 461.4 309.8 462.1 309.6C462.8 309.4 463.5 309.3 464.2 309.2C464.9 309.2 465.6 309.3 466.2 309.4C466.9 309.5 467.8 309.7 468.1 309.8Z" fill="#ecdcc8"/>
<path d="M467.6 305.0C467.2 304.7 466.0 303.6 465.2 303.0C464.3 302.4 463.4 301.9 462.6 301.3C461.7 300.8 460.7 300.4 459.9 299.8C459.1 299.2 458.2 298.6 457.6 297.7C456.9 296.9 456.3 295.8 455.8 294.8C455.2 293.8 454.9 292.5 454.3 291.6C453.7 290.7 453.1 289.7 452.3 289.2C451.4 288.6 450.2 288.5 449.1 288.3C447.9 288.1 446.0 288.2 445.4 288.1L443.2 291.7C443.8 291.6 445.8 291.3 447.0 291.3C448.2 291.3 449.4 291.3 450.4 291.7C451.4 292.1 452.1 292.9 452.8 293.7C453.5 294.6 454.0 295.7 454.6 296.6C455.3 297.5 455.9 298.5 456.7 299.2C457.5 299.9 458.4 300.4 459.3 300.9C460.2 301.4 461.2 301.7 462.1 302.2C463.0 302.6 464.0 303.0 464.8 303.6C465.7 304.1 466.9 305.1 467.4 305.4Z" fill="#ecdcc8"/>
<path d="M477.4 300.7C477.1 300.2 476.1 298.9 475.5 298.1C474.8 297.2 474.1 296.4 473.5 295.5C472.9 294.6 472.4 293.7 472.0 292.7C471.6 291.7 471.3 290.6 471.0 289.5C470.7 288.5 470.6 287.3 470.2 286.3C469.7 285.4 469.2 284.4 468.5 283.6C467.8 282.8 466.7 282.1 465.7 281.4C464.8 280.8 463.6 280.3 462.8 279.4C462.1 278.6 461.5 277.1 461.3 276.6L457.6 279.1C458.0 279.5 458.8 280.9 459.7 281.6C460.5 282.3 461.9 282.6 462.9 283.2C464.0 283.8 465.2 284.3 466.1 285.0C467.0 285.7 467.6 286.5 468.2 287.4C468.8 288.4 469.0 289.4 469.5 290.4C469.9 291.4 470.3 292.5 470.8 293.4C471.4 294.3 472.0 295.2 472.7 296.0C473.4 296.8 474.2 297.6 474.9 298.4C475.7 299.2 476.7 300.4 477.0 300.9Z" fill="#ecdcc8"/>
<path d="M481.1 293.2C481.0 292.8 480.6 291.6 480.5 290.8C480.4 290.0 480.4 289.2 480.5 288.3C480.6 287.5 480.9 286.6 481.0 285.8C481.1 284.9 481.4 284.1 481.3 283.3C481.3 282.4 481.0 281.6 480.7 280.9C480.3 280.1 479.6 279.3 479.2 278.6C478.7 277.8 478.0 277.1 477.9 276.3C477.7 275.5 477.8 274.6 478.2 273.7C478.6 272.9 479.8 271.5 480.1 271.0L476.1 271.6C475.9 272.1 475.0 273.6 474.8 274.5C474.6 275.3 474.6 276.2 475.0 277.0C475.3 277.7 476.1 278.4 476.7 279.1C477.3 279.8 478.1 280.4 478.6 281.2C479.1 281.9 479.5 282.7 479.7 283.5C479.9 284.3 479.8 285.1 479.7 286.0C479.7 286.8 479.6 287.7 479.6 288.5C479.6 289.3 479.8 290.1 480.0 290.9C480.1 291.7 480.6 292.9 480.7 293.3Z" fill="#ecdcc8"/>
<path d="M486.4 299.5C486.6 299.0 487.0 297.3 487.4 296.2C487.8 295.2 488.3 294.1 488.7 293.0C489.1 292.0 489.6 290.9 489.9 289.8C490.2 288.8 490.3 287.6 490.4 286.5C490.5 285.4 490.3 284.2 490.4 283.1C490.5 282.0 490.5 280.8 490.8 279.8C491.2 278.7 491.9 277.7 492.6 276.7C493.4 275.7 494.6 274.8 495.4 273.9C496.2 272.9 497.2 271.4 497.5 270.9L493.2 269.9C493.0 270.5 492.3 272.1 491.7 273.1C491.0 274.1 490.0 275.1 489.4 276.2C488.8 277.2 488.3 278.3 488.1 279.4C487.9 280.5 488.1 281.7 488.2 282.8C488.2 283.9 488.6 285.1 488.6 286.2C488.7 287.4 488.7 288.5 488.6 289.6C488.4 290.7 488.1 291.8 487.8 292.9C487.5 294.0 487.0 295.1 486.8 296.2C486.5 297.3 486.2 298.9 486.0 299.5Z" fill="#ecdcc8"/>
<path d="M498.9 294.0C499.2 293.6 500.2 292.4 500.8 291.6C501.4 290.7 501.9 289.9 502.4 289.0C502.8 288.0 503.0 287.0 503.3 286.0C503.6 284.9 503.6 283.8 504.0 282.8C504.3 281.8 504.6 280.9 505.3 280.1C506.0 279.3 507.0 278.7 507.9 278.1C508.9 277.5 510.2 277.1 511.1 276.5C511.9 275.9 512.8 275.2 513.2 274.3C513.6 273.3 513.4 271.4 513.5 270.8L510.1 268.8C510.1 269.4 510.5 271.4 510.3 272.4C510.0 273.4 509.3 274.2 508.5 274.9C507.8 275.6 506.6 276.1 505.7 276.8C504.9 277.5 504.0 278.2 503.5 279.1C503.0 279.9 502.7 281.0 502.5 282.0C502.3 283.0 502.4 284.2 502.2 285.3C502.1 286.4 501.9 287.5 501.6 288.5C501.3 289.5 500.8 290.4 500.3 291.2C499.8 292.1 498.9 293.3 498.6 293.8Z" fill="#ecdcc8"/>
<path d="M498.4 303.6C498.9 303.2 500.4 301.9 501.4 301.0C502.3 300.1 503.2 299.1 504.1 298.2C505.0 297.2 505.8 296.1 506.8 295.2C507.8 294.3 508.8 293.5 509.9 292.8C511.1 292.1 512.5 291.6 513.8 291.1C515.0 290.6 516.5 290.3 517.7 289.7C518.9 289.0 520.0 288.3 520.8 287.3C521.7 286.2 522.2 284.7 522.8 283.4C523.4 282.0 524.1 279.9 524.4 279.2L521.2 275.9C521.0 276.7 520.5 279.0 520.1 280.4C519.7 281.9 519.3 283.4 518.6 284.6C517.9 285.8 516.9 286.7 515.8 287.5C514.8 288.3 513.4 288.7 512.2 289.4C511.0 290.0 509.7 290.6 508.7 291.4C507.6 292.2 506.7 293.2 505.8 294.2C505.0 295.2 504.3 296.4 503.4 297.4C502.6 298.5 501.8 299.6 500.9 300.6C500.1 301.5 498.6 302.9 498.1 303.3Z" fill="#ecdcc8"/>
<path d="M502.3 310.3C503.1 309.9 505.5 308.9 507.0 308.1C508.6 307.4 510.1 306.5 511.7 305.8C513.2 305.2 514.8 304.6 516.5 304.1C518.1 303.7 519.9 303.5 521.6 303.1C523.3 302.8 525.0 302.6 526.6 302.0C528.2 301.4 529.8 300.6 531.2 299.5C532.7 298.5 533.9 296.9 535.3 295.6C536.6 294.4 537.8 292.8 539.3 292.0C540.9 291.2 543.6 291.0 544.4 290.8L541.6 284.8C540.8 285.2 538.2 285.8 536.9 286.8C535.5 287.9 534.5 289.7 533.3 291.2C532.1 292.7 531.1 294.5 529.8 295.8C528.5 297.0 527.0 298.1 525.5 298.9C524.0 299.7 522.3 300.1 520.7 300.7C519.1 301.3 517.4 301.7 515.8 302.4C514.2 303.0 512.7 303.8 511.2 304.6C509.7 305.5 508.3 306.5 506.8 307.4C505.3 308.3 503.0 309.5 502.2 309.9Z" fill="#ecdcc8"/>
<path d="M519.6 312.3C520.3 312.2 522.2 311.9 523.5 311.9C524.8 311.9 526.1 312.1 527.4 312.3C528.7 312.6 530.0 313.1 531.3 313.4C532.6 313.7 533.9 314.0 535.2 313.9C536.5 313.8 537.7 313.4 539.0 312.9C540.3 312.3 541.5 311.3 542.8 310.7C544.0 310.1 545.2 309.4 546.5 309.4C547.8 309.4 549.2 310.0 550.5 310.7C551.8 311.5 553.8 313.5 554.5 314.1L554.3 310.1C553.6 309.6 551.5 307.9 550.2 307.3C548.8 306.7 547.5 306.3 546.2 306.4C544.9 306.6 543.7 307.4 542.5 308.2C541.3 308.9 540.1 310.1 538.9 310.8C537.7 311.5 536.4 312.0 535.1 312.3C533.8 312.5 532.5 312.3 531.2 312.1C529.9 312.0 528.6 311.6 527.3 311.4C526.0 311.3 524.7 311.2 523.4 311.3C522.1 311.4 520.2 311.8 519.6 311.9Z" fill="#ecdcc8"/>
<path d="M512.2 320.2C512.9 320.5 515.1 321.3 516.6 322.0C518.0 322.6 519.4 323.5 520.8 324.1C522.2 324.7 523.6 325.4 525.1 325.8C526.6 326.1 528.2 326.2 529.8 326.3C531.3 326.4 533.0 326.1 534.5 326.3C536.0 326.5 537.6 326.7 539.0 327.4C540.4 328.1 541.7 329.3 543.0 330.5C544.2 331.7 545.3 333.6 546.6 334.7C547.8 335.8 549.9 336.8 550.6 337.2L551.8 333.2C551.1 332.9 548.9 332.1 547.6 331.2C546.2 330.2 545.1 328.5 543.7 327.4C542.4 326.4 541.0 325.3 539.5 324.8C538.1 324.2 536.5 324.2 534.9 324.2C533.4 324.2 531.7 324.6 530.1 324.6C528.6 324.7 527.0 324.7 525.4 324.5C523.9 324.3 522.5 323.7 521.0 323.2C519.5 322.7 518.1 321.9 516.7 321.4C515.2 320.8 513.0 320.1 512.3 319.8Z" fill="#ecdcc8"/>
<path d="M510.0 334.3C510.5 334.7 511.8 335.9 512.7 336.6C513.7 337.3 514.6 337.9 515.7 338.4C516.8 338.9 518.1 339.2 519.2 339.6C520.4 339.9 521.7 340.1 522.8 340.6C523.9 341.1 524.9 341.7 525.7 342.6C526.5 343.5 527.0 344.8 527.6 346.0C528.2 347.2 528.5 348.7 529.3 349.6C530.0 350.6 530.8 351.5 532.0 351.8C533.2 352.2 535.6 352.0 536.3 352.0L538.5 348.7C537.8 348.7 535.3 349.3 534.1 349.0C532.8 348.8 531.9 348.1 531.0 347.2C530.2 346.4 529.7 345.0 529.0 343.9C528.3 342.9 527.7 341.7 526.8 340.9C525.9 340.1 524.9 339.6 523.7 339.2C522.6 338.8 521.2 338.8 520.0 338.5C518.7 338.3 517.4 338.1 516.3 337.7C515.1 337.3 514.1 336.7 513.1 336.1C512.1 335.5 510.7 334.3 510.3 334.0Z" fill="#ecdcc8"/>
<path d="M497.2 332.7C497.6 333.3 498.7 334.9 499.5 335.9C500.4 336.9 501.3 337.8 502.2 338.8C503.1 339.8 504.0 340.7 504.8 341.7C505.5 342.8 506.2 344.0 506.6 345.2C507.1 346.5 507.3 347.9 507.7 349.3C508.0 350.6 508.2 352.0 508.8 353.2C509.4 354.4 510.1 355.4 511.2 356.3C512.3 357.1 513.8 357.7 515.1 358.4C516.4 359.1 518.3 360.1 518.9 360.4L522.4 357.7C521.7 357.4 519.6 356.6 518.2 356.1C516.8 355.5 515.1 355.2 513.9 354.4C512.7 353.7 511.8 352.7 511.1 351.7C510.3 350.6 510.0 349.2 509.5 348.0C509.0 346.7 508.7 345.3 508.1 344.1C507.5 343.0 506.7 341.9 505.8 340.9C505.0 339.9 503.9 339.1 503.0 338.2C502.0 337.3 500.9 336.5 500.0 335.5C499.1 334.6 498.0 333.0 497.5 332.5Z" fill="#ecdcc8"/>
<path d="M492.0 340.4C492.2 340.9 492.9 342.2 493.2 343.1C493.6 344.0 494.0 344.9 494.2 345.9C494.4 346.9 494.4 347.9 494.3 348.9C494.3 349.9 494.0 351.0 493.9 352.0C493.8 353.1 493.6 354.1 493.8 355.1C494.1 356.0 494.6 356.9 495.2 357.8C495.9 358.6 497.0 359.3 497.7 360.2C498.4 361.0 499.2 361.7 499.4 362.7C499.7 363.7 499.1 365.3 499.0 365.9L502.8 364.7C502.8 364.2 503.1 362.5 502.7 361.6C502.4 360.7 501.4 360.0 500.5 359.3C499.7 358.5 498.4 357.9 497.7 357.1C496.9 356.3 496.2 355.5 495.9 354.6C495.5 353.7 495.5 352.6 495.5 351.6C495.4 350.6 495.6 349.5 495.5 348.5C495.5 347.5 495.3 346.6 495.0 345.6C494.8 344.7 494.2 343.8 493.8 342.9C493.4 342.1 492.6 340.7 492.4 340.3Z" fill="#ecdcc8"/>
<path d="M482.9 333.4C482.8 334.0 482.8 335.7 482.7 336.8C482.5 337.9 482.2 339.0 482.0 340.1C481.7 341.2 481.2 342.3 481.0 343.4C480.7 344.4 480.5 345.5 480.5 346.7C480.4 347.8 480.7 349.0 480.9 350.1C481.2 351.3 481.8 352.5 482.0 353.6C482.2 354.8 482.4 355.9 482.1 357.0C481.9 358.1 481.2 359.2 480.4 360.2C479.7 361.3 478.1 362.8 477.6 363.3L482.0 363.7C482.3 363.2 483.7 361.6 484.2 360.5C484.8 359.4 485.3 358.2 485.4 357.1C485.5 356.0 485.1 354.9 484.7 353.7C484.4 352.6 483.6 351.5 483.2 350.3C482.8 349.2 482.4 348.0 482.2 346.9C482.1 345.7 482.2 344.6 482.3 343.5C482.4 342.4 482.8 341.3 482.9 340.2C483.1 339.1 483.2 338.0 483.3 336.8C483.3 335.7 483.3 334.0 483.3 333.5Z" fill="#ecdcc8"/>
<path d="M477.3 332.3C477.1 332.6 476.4 333.5 476.0 334.1C475.6 334.7 475.0 335.2 474.6 335.8C474.3 336.4 473.9 337.0 473.7 337.6C473.4 338.3 473.4 339.1 473.3 339.8C473.1 340.5 473.2 341.3 473.0 342.0C472.7 342.7 472.5 343.3 471.9 343.8C471.4 344.4 470.6 344.8 469.8 345.2C469.1 345.6 468.0 345.8 467.4 346.3C466.8 346.8 466.4 347.7 466.1 348.0L469.7 349.8C469.9 349.5 470.1 348.4 470.6 347.9C471.0 347.3 471.9 346.9 472.5 346.4C473.2 345.9 473.9 345.4 474.3 344.8C474.7 344.2 474.8 343.5 474.9 342.8C475.0 342.0 474.8 341.2 474.8 340.5C474.8 339.7 474.7 338.9 474.8 338.2C474.9 337.5 475.2 336.8 475.5 336.2C475.8 335.5 476.2 334.9 476.6 334.3C476.9 333.7 477.5 332.8 477.6 332.5Z" fill="#ecdcc8"/>
<path d="M477.4 323.3C477.1 323.4 476.4 323.9 475.9 324.3C475.5 324.7 475.0 325.0 474.6 325.4C474.2 325.9 473.9 326.3 473.5 326.8C473.2 327.2 472.8 327.7 472.4 328.1C471.9 328.5 471.4 328.8 470.8 329.0C470.3 329.2 469.5 329.3 468.9 329.5C468.3 329.6 467.5 329.7 467.0 330.0C466.5 330.2 466.0 330.6 465.7 331.1C465.4 331.6 465.2 332.7 465.1 333.1L468.2 335.9C468.2 335.6 468.1 334.4 468.3 333.7C468.4 333.1 468.8 332.6 469.2 332.2C469.6 331.8 470.2 331.6 470.8 331.3C471.3 331.0 472.0 330.8 472.5 330.5C472.9 330.1 473.3 329.7 473.7 329.2C474.0 328.8 474.2 328.2 474.5 327.7C474.8 327.1 475.0 326.6 475.3 326.1C475.6 325.6 476.0 325.1 476.4 324.7C476.8 324.3 477.5 323.7 477.7 323.5Z" fill="#ecdcc8"/>
<path d="M474.6 319.2C474.4 319.3 473.8 319.6 473.4 319.8C473.0 320.0 472.7 320.2 472.3 320.4C471.9 320.6 471.6 320.8 471.2 320.9C470.8 321.0 470.3 321.1 469.8 321.0C469.4 321.0 468.9 320.9 468.4 320.8C468.0 320.8 467.5 320.7 467.1 320.8C466.7 320.9 466.3 321.1 465.9 321.4C465.6 321.7 465.3 322.2 465.0 322.6C464.7 322.9 464.2 323.3 464.0 323.5L465.8 327.1C465.9 326.8 466.3 326.2 466.5 325.7C466.7 325.2 466.9 324.6 467.1 324.2C467.3 323.7 467.6 323.3 468.0 323.1C468.3 322.9 468.8 322.8 469.2 322.7C469.6 322.6 470.1 322.6 470.5 322.5C471.0 322.4 471.4 322.3 471.7 322.1C472.1 321.9 472.4 321.5 472.7 321.2C473.0 321.0 473.3 320.6 473.7 320.3C474.0 320.1 474.5 319.7 474.7 319.6Z" fill="#ecdcc8"/>
<path d="M466.6 308.9C466.3 308.8 465.5 308.5 464.9 308.4C464.3 308.3 463.8 308.1 463.1 308.1C462.5 308.1 461.9 308.2 461.2 308.3C460.6 308.4 459.9 308.7 459.3 308.8C458.6 309.0 458.0 309.1 457.4 309.0C456.9 308.8 456.3 308.5 455.8 308.1C455.3 307.7 454.9 306.9 454.4 306.5C453.9 306.1 453.5 305.6 452.9 305.4C452.3 305.3 451.3 305.8 450.9 305.8L450.4 308.0C450.7 307.9 451.8 307.3 452.4 307.3C453.0 307.4 453.5 307.8 454.0 308.1C454.5 308.5 455.0 309.2 455.5 309.5C456.1 309.8 456.6 310.1 457.2 310.2C457.8 310.2 458.4 310.0 459.1 309.9C459.7 309.7 460.4 309.3 461.0 309.1C461.7 308.9 462.3 308.7 463.0 308.7C463.6 308.7 464.2 308.8 464.7 308.9C465.3 309.0 466.2 309.2 466.5 309.3Z" fill="#a9b2dd"/>
<path d="M459.2 309.3Q457.1 307.6 456.3 305.3" stroke="#a9b2dd" stroke-width="0.9" fill="none" stroke-linecap="round"/>
<path d="M457.3 309.6Q454.9 310.3 453.5 311.9" stroke="#a9b2dd" stroke-width="0.9" fill="none" stroke-linecap="round"/>
<path d="M454.2 307.3Q452.7 306.1 452.2 304.5" stroke="#a9b2dd" stroke-width="0.9" fill="none" stroke-linecap="round"/>
<path d="M465.5 303.9C465.1 303.6 464.1 302.6 463.3 302.0C462.5 301.4 461.7 301.0 460.9 300.5C460.1 300.0 459.2 299.7 458.4 299.2C457.6 298.7 456.9 298.1 456.3 297.3C455.6 296.6 455.2 295.5 454.7 294.6C454.2 293.6 453.9 292.4 453.4 291.6C452.8 290.7 452.3 289.9 451.4 289.4C450.6 288.9 449.5 288.9 448.4 288.8C447.3 288.7 445.5 288.9 444.9 288.9L443.6 290.9C444.2 290.9 446.1 290.5 447.2 290.5C448.3 290.5 449.5 290.5 450.4 290.9C451.2 291.3 451.8 292.0 452.4 292.8C453.0 293.6 453.4 294.8 453.9 295.7C454.5 296.6 455.0 297.6 455.7 298.3C456.4 299.0 457.2 299.5 458.0 299.9C458.8 300.4 459.7 300.7 460.6 301.1C461.4 301.5 462.3 301.9 463.0 302.4C463.8 303.0 464.9 303.9 465.3 304.2Z" fill="#a9b2dd"/>
<path d="M456.0 297.8Q454.7 295.4 454.8 292.9" stroke="#a9b2dd" stroke-width="0.9" fill="none" stroke-linecap="round"/>
<path d="M454.3 295.1Q451.8 294.9 449.9 295.8" stroke="#a9b2dd" stroke-width="0.9" fill="none" stroke-linecap="round"/>
<path d="M450.9 290.2Q450.0 288.4 450.1 286.7" stroke="#a9b2dd" stroke-width="0.9" fill="none" stroke-linecap="round"/>
<path d="M476.3 298.7C476.0 298.3 475.1 297.1 474.4 296.4C473.8 295.6 473.1 294.9 472.5 294.1C471.9 293.2 471.4 292.4 471.0 291.5C470.6 290.6 470.4 289.6 470.1 288.6C469.8 287.6 469.7 286.6 469.3 285.7C468.9 284.8 468.4 283.9 467.7 283.2C466.9 282.5 465.8 282.0 464.9 281.4C464.0 280.8 462.8 280.4 462.0 279.7C461.3 279.0 460.8 277.6 460.5 277.1L458.4 278.6C458.7 279.0 459.3 280.3 460.1 281.0C461.0 281.6 462.2 281.9 463.2 282.4C464.2 282.9 465.4 283.4 466.2 284.0C467.0 284.7 467.6 285.5 468.1 286.4C468.6 287.2 468.8 288.3 469.1 289.2C469.5 290.1 469.7 291.1 470.2 292.0C470.7 292.9 471.3 293.7 471.9 294.4C472.5 295.2 473.3 295.9 474.0 296.6C474.7 297.4 475.6 298.5 476.0 298.9Z" fill="#a9b2dd"/>
<path d="M469.6 288.9Q469.4 286.2 470.6 284.0" stroke="#a9b2dd" stroke-width="0.9" fill="none" stroke-linecap="round"/>
<path d="M468.7 286.0Q466.5 284.8 464.3 284.9" stroke="#a9b2dd" stroke-width="0.9" fill="none" stroke-linecap="round"/>
<path d="M464.1 281.9Q464.0 280.0 464.7 278.5" stroke="#a9b2dd" stroke-width="0.9" fill="none" stroke-linecap="round"/>
<path d="M480.7 291.1C480.6 290.7 480.2 289.6 480.1 288.9C480.0 288.2 480.0 287.4 480.1 286.7C480.1 285.9 480.4 285.1 480.5 284.4C480.7 283.6 480.9 282.8 480.8 282.1C480.8 281.3 480.5 280.6 480.1 279.9C479.7 279.3 479.0 278.6 478.5 278.0C478.0 277.3 477.3 276.7 477.1 276.0C477.0 275.2 477.0 274.5 477.4 273.7C477.7 272.9 478.9 271.6 479.2 271.1L477.0 271.5C476.8 271.9 475.7 273.3 475.5 274.1C475.2 274.9 475.2 275.6 475.5 276.3C475.7 277.0 476.5 277.6 477.1 278.2C477.6 278.9 478.4 279.5 478.9 280.1C479.4 280.8 479.7 281.5 479.8 282.2C479.9 283.0 479.8 283.7 479.7 284.5C479.7 285.2 479.4 286.0 479.4 286.8C479.4 287.5 479.5 288.3 479.6 289.0C479.8 289.7 480.2 290.8 480.3 291.1Z" fill="#a9b2dd"/>
<path d="M480.3 282.2Q481.2 279.6 483.0 278.0" stroke="#a9b2dd" stroke-width="0.9" fill="none" stroke-linecap="round"/>
<path d="M479.5 280.0Q478.0 278.1 475.9 277.3" stroke="#a9b2dd" stroke-width="0.9" fill="none" stroke-linecap="round"/>
<path d="M476.3 276.1Q476.9 274.3 478.2 273.2" stroke="#a9b2dd" stroke-width="0.9" fill="none" stroke-linecap="round"/>
<path d="M486.6 297.2C486.8 296.7 487.2 295.2 487.6 294.2C487.9 293.2 488.4 292.2 488.8 291.3C489.2 290.3 489.7 289.3 489.9 288.3C490.2 287.3 490.3 286.3 490.3 285.2C490.3 284.2 490.1 283.1 490.1 282.0C490.1 281.0 490.1 279.9 490.4 278.9C490.7 278.0 491.3 277.0 492.1 276.1C492.8 275.2 494.0 274.4 494.7 273.5C495.5 272.6 496.3 271.2 496.6 270.7L494.1 270.1C493.8 270.6 493.1 272.1 492.5 273.0C491.8 273.9 490.7 274.8 490.1 275.8C489.5 276.7 488.9 277.7 488.7 278.7C488.5 279.7 488.6 280.8 488.7 281.9C488.8 282.9 489.1 284.0 489.2 285.0C489.2 286.1 489.2 287.1 489.0 288.2C488.9 289.2 488.5 290.2 488.1 291.2C487.8 292.2 487.3 293.1 487.0 294.2C486.7 295.2 486.4 296.7 486.2 297.2Z" fill="#a9b2dd"/>
<path d="M489.7 285.1Q491.5 283.0 493.7 282.1" stroke="#a9b2dd" stroke-width="0.9" fill="none" stroke-linecap="round"/>
<path d="M489.4 282.0Q488.6 279.6 487.0 278.2" stroke="#a9b2dd" stroke-width="0.9" fill="none" stroke-linecap="round"/>
<path d="M491.1 275.9Q492.3 274.4 493.9 273.8" stroke="#a9b2dd" stroke-width="0.9" fill="none" stroke-linecap="round"/>
<path d="M500.4 291.8C500.6 291.4 501.5 290.4 502.0 289.6C502.5 288.8 503.0 288.1 503.4 287.2C503.7 286.3 503.8 285.3 504.0 284.3C504.2 283.4 504.1 282.3 504.4 281.4C504.6 280.5 504.9 279.6 505.5 278.8C506.1 278.1 507.0 277.6 507.9 277.1C508.8 276.5 510.0 276.2 510.8 275.7C511.6 275.1 512.4 274.5 512.7 273.6C513.0 272.7 512.7 270.9 512.7 270.4L510.8 269.2C510.9 269.8 511.3 271.7 511.1 272.6C510.8 273.5 510.1 274.1 509.4 274.8C508.6 275.4 507.5 275.7 506.6 276.3C505.8 276.9 504.9 277.5 504.4 278.2C503.9 279.0 503.7 279.9 503.5 280.9C503.3 281.8 503.4 282.9 503.3 283.9C503.2 284.9 503.1 285.9 502.8 286.8C502.5 287.7 502.1 288.5 501.6 289.3C501.1 290.1 500.3 291.2 500.0 291.6Z" fill="#a9b2dd"/>
<path d="M503.9 281.1Q506.3 279.7 508.7 279.7" stroke="#a9b2dd" stroke-width="0.9" fill="none" stroke-linecap="round"/>
<path d="M505.0 278.5Q505.0 276.1 503.9 274.2" stroke="#a9b2dd" stroke-width="0.9" fill="none" stroke-linecap="round"/>
<path d="M510.1 275.2Q511.7 274.2 513.4 274.2" stroke="#a9b2dd" stroke-width="0.9" fill="none" stroke-linecap="round"/>
<path d="M500.4 301.9C500.8 301.5 502.2 300.3 503.1 299.4C504.0 298.6 504.7 297.6 505.5 296.7C506.4 295.7 507.1 294.7 507.9 293.8C508.8 293.0 509.7 292.2 510.8 291.5C511.9 290.9 513.2 290.5 514.4 290.0C515.6 289.6 516.9 289.3 518.0 288.7C519.1 288.1 520.1 287.4 520.8 286.4C521.6 285.4 522.0 283.9 522.5 282.6C523.0 281.3 523.5 279.2 523.8 278.6L521.8 276.6C521.6 277.3 521.2 279.4 520.8 280.8C520.4 282.1 520.1 283.7 519.5 284.7C518.8 285.8 517.9 286.6 516.9 287.3C515.8 288.0 514.5 288.3 513.4 288.9C512.2 289.4 511.0 289.9 509.9 290.6C508.9 291.3 508.1 292.2 507.3 293.1C506.4 294.0 505.8 295.1 505.0 296.1C504.3 297.1 503.6 298.1 502.8 299.0C501.9 299.9 500.5 301.1 500.1 301.6Z" fill="#a9b2dd"/>
<path d="M510.4 291.1Q513.0 290.4 515.4 291.2" stroke="#a9b2dd" stroke-width="0.9" fill="none" stroke-linecap="round"/>
<path d="M513.9 289.5Q514.7 287.1 514.3 285.0" stroke="#a9b2dd" stroke-width="0.9" fill="none" stroke-linecap="round"/>
<path d="M520.2 285.6Q522.0 285.1 523.7 285.6" stroke="#a9b2dd" stroke-width="0.9" fill="none" stroke-linecap="round"/>
<path d="M505.4 309.4C506.1 309.1 508.3 307.9 509.7 307.2C511.1 306.4 512.5 305.5 514.0 304.9C515.4 304.2 516.9 303.6 518.4 303.2C519.9 302.7 521.6 302.5 523.1 302.2C524.7 301.9 526.3 301.7 527.8 301.1C529.3 300.5 530.7 299.7 532.0 298.7C533.3 297.6 534.4 296.0 535.7 294.8C536.9 293.5 537.9 291.9 539.3 291.1C540.7 290.4 543.2 290.2 544.0 290.0L542.0 285.6C541.2 285.9 538.8 286.4 537.5 287.4C536.2 288.4 535.3 290.1 534.2 291.5C533.1 292.9 532.2 294.6 530.9 295.9C529.7 297.1 528.4 298.1 527.0 298.8C525.6 299.6 524.0 299.9 522.5 300.4C521.0 300.9 519.4 301.2 517.9 301.8C516.4 302.4 515.0 303.1 513.6 303.9C512.2 304.7 510.9 305.7 509.5 306.6C508.1 307.4 506.0 308.6 505.3 309.0Z" fill="#a9b2dd"/>
<path d="M522.8 301.3Q525.5 301.6 527.5 303.0" stroke="#a9b2dd" stroke-width="0.9" fill="none" stroke-linecap="round"/>
<path d="M527.4 300.0Q528.9 298.0 529.2 295.9" stroke="#a9b2dd" stroke-width="0.9" fill="none" stroke-linecap="round"/>
<path d="M534.9 293.1Q536.9 293.3 538.2 294.3" stroke="#a9b2dd" stroke-width="0.9" fill="none" stroke-linecap="round"/>
<path d="M523.1 312.0C523.7 311.9 525.4 311.6 526.5 311.6C527.7 311.6 528.9 311.7 530.1 312.0C531.2 312.2 532.4 312.8 533.6 313.1C534.8 313.3 535.9 313.7 537.1 313.5C538.2 313.4 539.4 312.9 540.5 312.4C541.7 311.8 542.7 310.7 543.9 310.1C545.0 309.4 546.1 308.7 547.2 308.7C548.4 308.6 549.6 309.2 550.8 309.9C552.0 310.7 553.9 312.7 554.5 313.2L554.4 311.0C553.8 310.5 551.9 308.7 550.6 308.0C549.4 307.3 548.2 306.9 547.0 307.0C545.9 307.1 544.8 307.9 543.7 308.6C542.6 309.3 541.6 310.5 540.5 311.1C539.3 311.8 538.2 312.3 537.1 312.5C535.9 312.7 534.7 312.4 533.6 312.2C532.4 312.0 531.2 311.5 530.0 311.3C528.8 311.1 527.7 311.0 526.5 311.1C525.3 311.1 523.6 311.5 523.1 311.6Z" fill="#a9b2dd"/>
<path d="M537.1 313.0Q539.6 314.2 541.0 316.2" stroke="#a9b2dd" stroke-width="0.9" fill="none" stroke-linecap="round"/>
<path d="M540.5 311.7Q542.6 310.4 543.6 308.5" stroke="#a9b2dd" stroke-width="0.9" fill="none" stroke-linecap="round"/>
<path d="M547.1 307.8Q548.9 308.6 549.8 310.0" stroke="#a9b2dd" stroke-width="0.9" fill="none" stroke-linecap="round"/>
<path d="M515.6 320.8C516.3 321.1 518.3 321.9 519.6 322.5C520.9 323.2 522.1 324.0 523.4 324.6C524.7 325.2 526.0 325.8 527.4 326.1C528.8 326.4 530.2 326.4 531.7 326.5C533.1 326.5 534.7 326.1 536.1 326.2C537.5 326.3 538.9 326.4 540.2 327.1C541.5 327.7 542.7 328.9 543.9 330.1C545.0 331.2 546.0 333.0 547.2 334.1C548.3 335.1 550.2 336.0 550.9 336.4L551.6 334.1C550.9 333.7 549.0 333.0 547.7 332.0C546.5 331.1 545.5 329.3 544.3 328.3C543.1 327.2 541.9 326.1 540.6 325.5C539.2 325.0 537.8 324.9 536.4 324.9C534.9 324.9 533.4 325.3 531.9 325.4C530.5 325.4 529.0 325.5 527.6 325.3C526.2 325.0 524.9 324.5 523.6 323.9C522.3 323.4 521.0 322.6 519.7 322.0C518.4 321.5 516.3 320.7 515.7 320.4Z" fill="#a9b2dd"/>
<path d="M531.8 325.9Q533.8 327.8 534.5 330.1" stroke="#a9b2dd" stroke-width="0.9" fill="none" stroke-linecap="round"/>
<path d="M536.2 325.6Q538.6 324.9 540.2 323.4" stroke="#a9b2dd" stroke-width="0.9" fill="none" stroke-linecap="round"/>
<path d="M544.1 329.2Q545.5 330.5 546.0 332.1" stroke="#a9b2dd" stroke-width="0.9" fill="none" stroke-linecap="round"/>
<path d="M512.6 336.2C513.0 336.5 514.1 337.6 515.0 338.2C515.8 338.8 516.7 339.4 517.8 339.8C518.8 340.2 520.0 340.3 521.1 340.6C522.2 340.8 523.4 340.9 524.4 341.3C525.4 341.7 526.4 342.2 527.1 343.0C527.8 343.8 528.2 345.1 528.8 346.2C529.3 347.3 529.5 348.7 530.2 349.5C530.9 350.4 531.6 351.2 532.7 351.4C533.8 351.7 536.1 351.3 536.8 351.2L538.0 349.4C537.3 349.5 535.0 350.1 533.9 349.9C532.8 349.7 531.9 349.0 531.2 348.2C530.5 347.4 530.2 346.0 529.6 345.0C529.0 343.9 528.5 342.8 527.8 342.0C527.0 341.2 526.0 340.8 525.0 340.4C524.0 340.1 522.7 340.1 521.6 339.9C520.4 339.7 519.2 339.6 518.2 339.3C517.1 338.9 516.2 338.4 515.3 337.8C514.4 337.3 513.2 336.2 512.8 335.9Z" fill="#a9b2dd"/>
<path d="M524.7 340.9Q526.0 343.3 525.9 345.7" stroke="#a9b2dd" stroke-width="0.9" fill="none" stroke-linecap="round"/>
<path d="M527.4 342.5Q529.9 342.7 531.9 341.8" stroke="#a9b2dd" stroke-width="0.9" fill="none" stroke-linecap="round"/>
<path d="M530.7 348.9Q531.6 350.6 531.5 352.3" stroke="#a9b2dd" stroke-width="0.9" fill="none" stroke-linecap="round"/>
<path d="M498.8 335.1C499.2 335.5 500.2 337.0 501.0 337.9C501.8 338.8 502.8 339.6 503.6 340.5C504.5 341.3 505.4 342.1 506.1 343.1C506.8 344.1 507.4 345.1 507.8 346.3C508.3 347.4 508.4 348.8 508.7 350.0C509.0 351.3 509.2 352.6 509.7 353.7C510.3 354.8 511.1 355.7 512.1 356.4C513.1 357.2 514.7 357.6 515.9 358.2C517.2 358.7 519.0 359.6 519.6 359.9L521.7 358.2C521.0 358.0 519.1 357.3 517.8 356.8C516.4 356.3 514.8 356.0 513.7 355.3C512.6 354.6 511.8 353.8 511.1 352.7C510.5 351.7 510.3 350.4 509.9 349.2C509.5 348.0 509.3 346.7 508.8 345.6C508.3 344.5 507.6 343.5 506.8 342.5C506.1 341.6 505.1 340.9 504.2 340.1C503.3 339.2 502.3 338.5 501.5 337.6C500.6 336.7 499.6 335.3 499.2 334.8Z" fill="#a9b2dd"/>
<path d="M508.3 345.9Q508.7 348.7 507.7 350.9" stroke="#a9b2dd" stroke-width="0.9" fill="none" stroke-linecap="round"/>
<path d="M509.3 349.6Q511.6 350.7 513.7 350.5" stroke="#a9b2dd" stroke-width="0.9" fill="none" stroke-linecap="round"/>
<path d="M512.9 355.9Q513.2 357.8 512.5 359.3" stroke="#a9b2dd" stroke-width="0.9" fill="none" stroke-linecap="round"/>
<path d="M492.8 342.9C493.0 343.3 493.6 344.5 494.0 345.3C494.3 346.2 494.7 347.0 494.9 347.8C495.1 348.7 495.1 349.6 495.0 350.5C495.0 351.5 494.6 352.5 494.5 353.4C494.5 354.3 494.3 355.3 494.5 356.1C494.8 356.9 495.3 357.7 496.0 358.5C496.6 359.2 497.7 359.8 498.5 360.5C499.2 361.2 500.0 361.9 500.3 362.7C500.5 363.6 499.9 365.1 499.9 365.6L502.0 364.9C502.0 364.5 502.4 362.9 502.1 362.1C501.8 361.3 500.9 360.7 500.1 360.0C499.3 359.3 498.1 358.8 497.4 358.1C496.7 357.4 496.0 356.6 495.7 355.8C495.4 355.0 495.5 354.0 495.5 353.1C495.6 352.2 495.8 351.2 495.8 350.3C495.8 349.4 495.8 348.5 495.5 347.6C495.3 346.8 494.8 346.0 494.4 345.2C494.0 344.4 493.4 343.2 493.1 342.8Z" fill="#a9b2dd"/>
<path d="M495.0 353.3Q494.4 355.9 492.8 357.7" stroke="#a9b2dd" stroke-width="0.9" fill="none" stroke-linecap="round"/>
<path d="M495.1 356.0Q496.9 357.7 499.0 358.3" stroke="#a9b2dd" stroke-width="0.9" fill="none" stroke-linecap="round"/>
<path d="M499.3 360.3Q498.8 362.1 497.7 363.4" stroke="#a9b2dd" stroke-width="0.9" fill="none" stroke-linecap="round"/>
<path d="M482.6 335.8C482.6 336.4 482.6 337.9 482.5 338.9C482.4 340.0 482.1 341.0 481.9 342.0C481.6 343.0 481.2 344.0 481.0 345.0C480.8 346.0 480.6 347.0 480.6 348.1C480.7 349.1 481.0 350.2 481.3 351.2C481.6 352.3 482.2 353.4 482.5 354.5C482.7 355.5 483.0 356.5 482.8 357.6C482.5 358.6 481.9 359.6 481.2 360.6C480.5 361.5 478.9 362.9 478.5 363.4L481.1 363.7C481.5 363.2 482.8 361.7 483.4 360.7C484.1 359.7 484.6 358.7 484.7 357.6C484.9 356.6 484.5 355.6 484.2 354.5C483.8 353.5 483.1 352.4 482.7 351.4C482.3 350.3 481.9 349.2 481.8 348.2C481.6 347.1 481.8 346.1 481.9 345.1C482.1 344.1 482.4 343.1 482.6 342.1C482.8 341.0 483.0 340.0 483.0 339.0C483.1 338.0 483.0 336.4 483.0 335.9Z" fill="#a9b2dd"/>
<path d="M481.2 348.1Q479.7 350.4 477.5 351.5" stroke="#a9b2dd" stroke-width="0.9" fill="none" stroke-linecap="round"/>
<path d="M482.0 351.3Q483.0 353.6 484.8 354.8" stroke="#a9b2dd" stroke-width="0.9" fill="none" stroke-linecap="round"/>
<path d="M483.8 357.6Q482.7 359.2 481.2 360.0" stroke="#a9b2dd" stroke-width="0.9" fill="none" stroke-linecap="round"/>
<path d="M476.5 334.1C476.3 334.3 475.8 335.1 475.4 335.6C475.0 336.2 474.5 336.6 474.1 337.2C473.8 337.7 473.5 338.3 473.3 338.9C473.2 339.5 473.2 340.2 473.1 340.9C473.1 341.6 473.2 342.3 473.0 342.9C472.9 343.6 472.7 344.1 472.2 344.6C471.7 345.1 470.9 345.5 470.2 345.8C469.5 346.2 468.6 346.4 468.0 346.8C467.5 347.3 467.1 348.2 466.9 348.4L468.9 349.4C469.1 349.1 469.3 348.2 469.8 347.7C470.3 347.2 471.2 346.9 471.8 346.5C472.4 346.1 473.1 345.7 473.5 345.2C473.9 344.7 474.1 344.0 474.2 343.4C474.3 342.7 474.1 342.0 474.1 341.3C474.0 340.6 474.0 339.9 474.1 339.2C474.2 338.6 474.4 338.0 474.7 337.4C475.0 336.9 475.5 336.4 475.8 335.9C476.2 335.3 476.7 334.5 476.9 334.2Z" fill="#a9b2dd"/>
<path d="M473.6 341.1Q471.4 342.8 469.0 343.1" stroke="#a9b2dd" stroke-width="0.9" fill="none" stroke-linecap="round"/>
<path d="M473.6 343.2Q473.8 345.6 475.1 347.4" stroke="#a9b2dd" stroke-width="0.9" fill="none" stroke-linecap="round"/>
<path d="M471.0 346.2Q469.5 347.3 467.8 347.5" stroke="#a9b2dd" stroke-width="0.9" fill="none" stroke-linecap="round"/>
<path d="M476.5 324.3C476.3 324.4 475.6 324.9 475.2 325.2C474.8 325.5 474.4 325.9 474.0 326.3C473.7 326.7 473.4 327.2 473.1 327.6C472.8 328.0 472.5 328.5 472.1 328.9C471.7 329.2 471.3 329.5 470.8 329.7C470.2 330.0 469.6 330.0 469.0 330.2C468.4 330.3 467.7 330.4 467.2 330.6C466.8 330.9 466.4 331.3 466.1 331.8C465.9 332.3 465.8 333.4 465.7 333.7L467.5 335.3C467.5 335.0 467.4 333.8 467.6 333.3C467.8 332.7 468.1 332.3 468.5 332.0C468.9 331.6 469.6 331.5 470.1 331.3C470.6 331.1 471.3 330.9 471.7 330.6C472.2 330.3 472.6 330.0 473.0 329.6C473.3 329.2 473.5 328.7 473.8 328.2C474.0 327.7 474.2 327.2 474.5 326.8C474.8 326.3 475.2 325.9 475.5 325.6C475.9 325.2 476.6 324.7 476.8 324.5Z" fill="#a9b2dd"/>
<path d="M472.5 329.2Q469.9 330.0 467.5 329.5" stroke="#a9b2dd" stroke-width="0.9" fill="none" stroke-linecap="round"/>
<path d="M471.2 330.2Q470.6 332.6 471.2 334.7" stroke="#a9b2dd" stroke-width="0.9" fill="none" stroke-linecap="round"/>
<path d="M467.9 331.3Q466.0 331.9 464.4 331.5" stroke="#a9b2dd" stroke-width="0.9" fill="none" stroke-linecap="round"/>
<path d="M473.5 319.7C473.3 319.8 472.8 320.0 472.5 320.2C472.2 320.4 471.9 320.7 471.6 320.9C471.3 321.1 470.9 321.3 470.6 321.4C470.2 321.6 469.8 321.6 469.4 321.6C469.0 321.6 468.5 321.4 468.1 321.4C467.7 321.4 467.3 321.3 466.9 321.4C466.6 321.5 466.2 321.8 466.0 322.1C465.7 322.4 465.5 323.0 465.2 323.3C465.0 323.7 464.6 324.1 464.4 324.3L465.4 326.3C465.5 326.1 465.9 325.5 466.1 325.1C466.3 324.6 466.4 324.0 466.6 323.7C466.8 323.3 467.1 322.9 467.5 322.7C467.8 322.6 468.2 322.6 468.6 322.5C469.0 322.5 469.4 322.6 469.8 322.5C470.2 322.5 470.6 322.4 470.9 322.2C471.3 322.0 471.6 321.7 471.9 321.5C472.2 321.2 472.4 320.9 472.7 320.7C473.0 320.4 473.5 320.2 473.7 320.1Z" fill="#a9b2dd"/>
<path d="M469.6 322.0Q466.9 321.8 464.9 320.4" stroke="#a9b2dd" stroke-width="0.9" fill="none" stroke-linecap="round"/>
<path d="M468.4 322.0Q466.9 323.9 466.6 326.1" stroke="#a9b2dd" stroke-width="0.9" fill="none" stroke-linecap="round"/>
<path d="M466.3 322.9Q464.4 322.7 463.0 321.7" stroke="#a9b2dd" stroke-width="0.9" fill="none" stroke-linecap="round"/>
<path d="M470.0 315.0C469.7 312.8 473.3 310.7 476.0 309.5C478.7 308.3 482.7 307.8 486.0 308.0C489.3 308.2 492.0 309.8 496.0 310.5C500.0 311.2 509.8 311.4 510.0 312.5C510.2 313.6 500.5 315.3 497.0 317.0C493.5 318.7 492.2 321.6 489.0 322.5C485.8 323.4 481.2 323.8 478.0 322.5C474.8 321.2 470.3 317.2 470.0 315.0Z" fill="#ffffff"/>
<defs><linearGradient id="fade" x1="0" y1="0" x2="0" y2="1"><stop offset="0" stop-color="#fff" stop-opacity="0"/><stop offset="0.9" stop-color="#fff" stop-opacity="0.93"/><stop offset="1" stop-color="#fff" stop-opacity="1"/></linearGradient></defs><rect x="395" y="466" width="170" height="34" fill="url(#fade)"/>
<path d="M153.5 176.0C154.2 173.5 156.1 165.7 158.0 161.0C159.9 156.3 162.5 151.9 165.0 148.0C167.5 144.1 171.7 139.2 173.0 137.5" fill="none" stroke="#111" stroke-width="1.7" marker-end="url(#ah)" stroke-linecap="round"/>
<path d="M385.4 36L408 38.2C414 38.8 416.5 37 417 31.5" fill="none" stroke="#111" stroke-width="1.8" marker-end="url(#ah)"/>
<path d="M418.3 26C418.8 22.5 421 21.8 425 22.3L450.5 28.6" fill="none" stroke="#111" stroke-width="1.8" marker-end="url(#ah)"/>
<path d="M538.5 121.0C537.1 120.2 532.3 118.2 530.0 116.0C527.7 113.8 525.6 110.7 524.8 108.0C524.0 105.3 525.2 101.3 525.3 100.0" fill="none" stroke="#111" stroke-width="1.7" marker-end="url(#ah)" stroke-linecap="round"/>
<path d="M533.0 92.5C534.3 93.8 538.3 97.5 541.0 100.0C543.7 102.5 546.6 105.3 549.0 107.5C551.4 109.7 554.4 112.1 555.5 113.0" fill="none" stroke="#111" stroke-width="1.7" marker-end="url(#ah)" stroke-linecap="round"/>
<path d="M604.0 227.5C603.5 230.1 602.5 238.2 601.0 243.0C599.5 247.8 597.5 252.2 595.0 256.0C592.5 259.8 587.5 264.3 586.0 266.0" fill="none" stroke="#111" stroke-width="1.7" marker-end="url(#ah)" stroke-linecap="round"/>
<path d="M520.0 260.0C522.5 260.5 530.3 261.9 535.0 263.0C539.7 264.1 544.2 265.6 548.0 266.5C551.8 267.4 556.3 268.3 558.0 268.7" fill="none" stroke="#111" stroke-width="1.7" marker-end="url(#ah)" stroke-linecap="round"/>
<path d="M555.0 335.0C556.0 333.3 559.6 328.5 561.0 325.0C562.4 321.5 563.0 317.7 563.5 314.0C564.0 310.3 563.7 304.8 563.7 303.0" fill="none" stroke="#111" stroke-width="1.7" marker-end="url(#ah)" stroke-linecap="round"/>
<path d="M494.0 367.0C496.0 366.8 502.0 366.3 506.0 365.5C510.0 364.7 514.3 363.4 518.0 362.0C521.7 360.6 526.3 357.8 528.0 357.0" fill="none" stroke="#111" stroke-width="1.7" marker-end="url(#ah)" stroke-linecap="round"/>
<path d="M443.6 268.4C442.2 267.7 437.8 266.2 435.0 264.0C432.2 261.8 428.8 257.8 427.0 255.0C425.2 252.2 424.5 248.8 424.0 247.5" fill="none" stroke="#111" stroke-width="1.7" marker-end="url(#ah)" stroke-linecap="round"/>
<path d="M328.0 193.0C327.0 192.5 324.3 190.4 322.0 190.0C319.7 189.6 316.8 189.5 314.0 190.5C311.2 191.5 306.5 195.1 305.0 196.0" fill="none" stroke="#111" stroke-width="1.7" marker-end="url(#ah)" stroke-linecap="round"/>
<path d="M311.0 211.5C309.7 211.2 305.3 209.6 303.0 210.0C300.7 210.4 298.7 212.0 297.0 214.0C295.3 216.0 293.7 220.7 293.0 222.0" fill="none" stroke="#111" stroke-width="1.7" marker-end="url(#ah)" stroke-linecap="round"/>
<path d="M301.0 219.0C302.0 221.0 303.8 227.5 307.0 231.0C310.2 234.5 315.8 237.3 320.0 240.0C324.2 242.7 330.4 245.8 332.5 247.0" fill="none" stroke="#111" stroke-width="1.7" marker-end="url(#ah)" stroke-linecap="round"/>
<path d="M342.3 210.0C342.9 211.7 344.2 217.5 346.0 220.0C347.8 222.5 350.8 223.5 353.0 225.0C355.2 226.5 358.0 228.2 359.0 228.8" fill="none" stroke="#111" stroke-width="1.7" marker-end="url(#ah)" stroke-linecap="round"/>
<path d="M363.8 204.0C363.9 205.7 363.8 211.0 364.5 214.0C365.2 217.0 366.8 219.5 368.0 222.0C369.2 224.5 371.1 227.8 371.7 229.0" fill="none" stroke="#111" stroke-width="1.7" marker-end="url(#ah)" stroke-linecap="round"/>
<path d="M213.0 308.0C210.0 307.2 200.8 305.0 195.0 303.0C189.2 301.0 182.8 298.4 178.0 296.0C173.2 293.6 168.0 289.8 166.0 288.5" fill="none" stroke="#111" stroke-width="1.7" marker-end="url(#ah)" stroke-linecap="round"/>
<path d="M306.7 299.0C303.9 300.0 295.3 303.3 290.0 305.0C284.7 306.7 279.8 308.0 275.0 309.0C270.2 310.0 263.3 310.5 261.0 310.8" fill="none" stroke="#111" stroke-width="1.7" marker-end="url(#ah)" stroke-linecap="round"/>
<path d="M361.5 308.0C361.3 306.0 361.1 299.1 360.5 296.0C359.9 292.9 359.4 290.9 358.0 289.5C356.6 288.1 354.7 287.2 352.0 287.5C349.3 287.8 343.7 290.4 342.0 291.0" fill="none" stroke="#111" stroke-width="1.7" marker-end="url(#ah)" stroke-linecap="round"/>
<path d="M391.0 358.7C389.7 356.8 385.5 350.8 383.0 347.0C380.5 343.2 378.2 339.3 376.0 336.0C373.8 332.7 371.0 328.5 370.0 327.0" fill="none" stroke="#111" stroke-width="1.7" marker-end="url(#ah)" stroke-linecap="round"/>
<path d="M429.0 423.0C428.2 421.0 425.8 415.0 424.0 411.0C422.2 407.0 420.1 402.5 418.5 399.0C416.9 395.5 415.0 391.5 414.3 390.0" fill="none" stroke="#111" stroke-width="1.7" marker-end="url(#ah)" stroke-linecap="round"/>
<path d="M460.0 389.6C460.6 391.5 462.3 397.1 463.5 401.0C464.7 404.9 466.0 409.4 467.0 413.0C468.0 416.6 469.2 420.9 469.6 422.5" fill="none" stroke="#111" stroke-width="1.7" marker-end="url(#ah)" stroke-linecap="round"/>
<path d="M495.0 433.0C493.3 434.8 490.0 441.0 485.0 444.0C480.0 447.0 473.2 450.1 465.0 451.0C456.8 451.9 440.8 449.8 436.0 449.6" fill="none" stroke="#111" stroke-width="1.7" marker-end="url(#ah)" stroke-linecap="round"/>
<path d="M498.7 448.0C498.1 450.8 498.1 459.7 495.0 465.0C491.9 470.3 487.7 476.8 480.0 480.0C472.3 483.2 454.2 483.5 449.0 484.2" fill="none" stroke="#111" stroke-width="1.7" marker-end="url(#ah)" stroke-linecap="round"/>
<path d="M459.0 321.0C457.7 321.6 452.7 322.8 451.0 324.5C449.3 326.2 449.1 328.8 449.0 331.0C448.9 333.2 450.2 336.8 450.5 338.0" fill="none" stroke="#111" stroke-width="1.7" marker-end="url(#ah)" stroke-linecap="round"/>
<path d="M453.5 344.0C453.9 346.3 454.6 354.0 456.0 358.0C457.4 362.0 459.3 365.5 462.0 368.0C464.7 370.5 469.2 370.5 472.0 373.0C474.8 375.5 476.8 379.1 478.5 383.0C480.2 386.9 481.8 394.2 482.5 396.5" fill="none" stroke="#111" stroke-width="1.7" marker-end="url(#ah)"/>
<circle cx="335.8" cy="211.0" r="1.5" fill="#ffffff" opacity="0.9"/>
<circle cx="308.0" cy="233.4" r="1.5" fill="#ffffff" opacity="0.9"/>
<circle cx="328.0" cy="249.0" r="1.5" fill="#ffffff" opacity="0.9"/>
<circle cx="464.0" cy="210.0" r="1.5" fill="#ffffff" opacity="0.9"/>
<circle cx="440.0" cy="319.0" r="1.5" fill="#ffffff" opacity="0.9"/>
<circle cx="445.0" cy="332.7" r="1.5" fill="#ffffff" opacity="0.9"/>
<circle cx="476.0" cy="371.3" r="1.5" fill="#ffffff" opacity="0.9"/>
<circle cx="476.0" cy="441.4" r="1.5" fill="#ffffff" opacity="0.9"/>
<circle cx="539.6" cy="126.3" r="1.5" fill="#ffffff" opacity="0.9"/>
<circle cx="531.5" cy="93.0" r="1.5" fill="#ffffff" opacity="0.9"/>
<circle cx="591.5" cy="159.0" r="1.5" fill="#ffffff" opacity="0.9"/>
<circle cx="226.0" cy="57.0" r="1.5" fill="#ffffff" opacity="0.9"/>
<line x1="103.0" y1="57.0" x2="226.0" y2="57.0" stroke="#1a1a1a" stroke-width="1.5"/>
<line x1="94.5" y1="169.5" x2="335.8" y2="211.0" stroke="#1a1a1a" stroke-width="1.5"/>
<line x1="95.4" y1="233.4" x2="308.0" y2="233.4" stroke="#1a1a1a" stroke-width="1.5"/>
<line x1="88.5" y1="281.0" x2="328.0" y2="249.0" stroke="#1a1a1a" stroke-width="1.5"/>
<line x1="340.5" y1="335.7" x2="414.4" y2="278.0" stroke="#1a1a1a" stroke-width="1.5"/>
<line x1="325.0" y1="377.5" x2="440.0" y2="319.0" stroke="#1a1a1a" stroke-width="1.5"/>
<line x1="322.5" y1="418.0" x2="445.0" y2="332.7" stroke="#1a1a1a" stroke-width="1.5"/>
<line x1="531.0" y1="93.0" x2="632.0" y2="93.0" stroke="#1a1a1a" stroke-width="1.5"/>
<line x1="539.6" y1="126.3" x2="632.0" y2="126.3" stroke="#1a1a1a" stroke-width="1.5"/>
<line x1="591.5" y1="159.0" x2="632.0" y2="159.0" stroke="#1a1a1a" stroke-width="1.5"/>
<line x1="464.0" y1="210.0" x2="632.0" y2="210.0" stroke="#1a1a1a" stroke-width="1.5"/>
<line x1="476.0" y1="371.3" x2="580.0" y2="371.3" stroke="#1a1a1a" stroke-width="1.5"/>
<line x1="476.0" y1="441.4" x2="566.0" y2="441.4" stroke="#1a1a1a" stroke-width="1.5"/>
<text x="1.5" y="59.8">Superior sagittal</text>
<text x="1.5" y="74.4">sinus</text>
<text x="1.5" y="172.5">Choroid plexus</text>
<text x="1.5" y="236.4">Interventricular</text>
<text x="1.5" y="251.0">foramen</text>
<text x="1.5" y="284.4">Third ventricle</text>
<text x="227.0" y="337.5">Cerebral aqueduct</text>
<text x="227.0" y="379.5">Lateral aperture</text>
<text x="227.0" y="420.5">Fourth ventricle</text>
<text x="635.2" y="95.6">Arachnoid granulation</text>
<text x="635.2" y="128.6">Subarachnoid space</text>
<text x="635.2" y="161.2">Meningeal dura mater</text>
<text x="635.2" y="212.4">Right lateral ventricle</text>
<text x="582.3" y="374.0">Median aperture</text>
<text x="569.0" y="443.0">Central canal</text>
</svg>
</body></html>
